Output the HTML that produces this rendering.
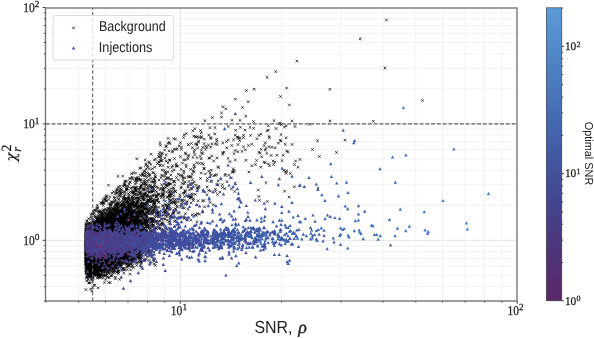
<!DOCTYPE html><html><head><meta charset="utf-8"><style>html,body{margin:0;padding:0;background:#fff;}svg{display:block;}text{text-rendering:geometricPrecision;}.t{font-family:"Liberation Serif",serif;fill:#1a1a1a;stroke:#1a1a1a;stroke-width:0.25px;}.s{font-family:"Liberation Sans",sans-serif;fill:#222;}</style></head><body><svg width="594" height="338" viewBox="0 0 594 338"><rect width="594" height="338" fill="#fff"/><path d="M78.74 8.00V301.00M105.43 8.00V301.00M127.99 8.00V301.00M147.54 8.00V301.00M164.78 8.00V301.00M281.66 8.00V301.00M341.01 8.00V301.00M383.12 8.00V301.00M415.79 8.00V301.00M442.48 8.00V301.00M465.04 8.00V301.00M484.59 8.00V301.00M501.83 8.00V301.00M45.50 301.16H517.00M45.50 286.62H517.00M45.50 275.34H517.00M45.50 266.12H517.00M45.50 258.33H517.00M45.50 251.58H517.00M45.50 245.63H517.00M45.50 205.26H517.00M45.50 184.76H517.00M45.50 170.22H517.00M45.50 158.94H517.00M45.50 149.72H517.00M45.50 141.93H517.00M45.50 135.18H517.00M45.50 129.23H517.00M45.50 88.86H517.00M45.50 68.36H517.00M45.50 53.82H517.00M45.50 42.54H517.00M45.50 33.32H517.00M45.50 25.53H517.00M45.50 18.78H517.00M45.50 12.83H517.00" stroke="#f3f3f3" stroke-width="1" fill="none"/><path d="M180.20 8.00V301.00M45.50 240.30H517.00M45.50 123.90H517.00" stroke="#e4e4e4" stroke-width="1" fill="none"/><defs><marker id="mx" markerUnits="userSpaceOnUse" markerWidth="4" markerHeight="4" refX="2" refY="2" overflow="visible"><path d="M0.70 0.70l2.60 2.60m0 -2.60l-2.60 2.60" stroke="#000" stroke-width="0.70" fill="none"/></marker><marker id="tm1" markerUnits="userSpaceOnUse" markerWidth="4" markerHeight="4" refX="2" refY="2" overflow="visible"><path d="M2 0.08l1.70 3.20h-3.40z" fill="#74306e"/></marker><marker id="t2" markerUnits="userSpaceOnUse" markerWidth="4" markerHeight="4" refX="2" refY="2" overflow="visible"><path d="M2 0.08l1.70 3.20h-3.40z" fill="#582f74"/></marker><marker id="t3" markerUnits="userSpaceOnUse" markerWidth="4" markerHeight="4" refX="2" refY="2" overflow="visible"><path d="M2 0.08l1.70 3.20h-3.40z" fill="#543479"/></marker><marker id="t4" markerUnits="userSpaceOnUse" markerWidth="4" markerHeight="4" refX="2" refY="2" overflow="visible"><path d="M2 0.08l1.70 3.20h-3.40z" fill="#50377d"/></marker><marker id="t5" markerUnits="userSpaceOnUse" markerWidth="4" markerHeight="4" refX="2" refY="2" overflow="visible"><path d="M2 0.08l1.70 3.20h-3.40z" fill="#4d3a82"/></marker><marker id="t6" markerUnits="userSpaceOnUse" markerWidth="4" markerHeight="4" refX="2" refY="2" overflow="visible"><path d="M2 0.08l1.70 3.20h-3.40z" fill="#4a3d86"/></marker><marker id="t7" markerUnits="userSpaceOnUse" markerWidth="4" markerHeight="4" refX="2" refY="2" overflow="visible"><path d="M2 0.08l1.70 3.20h-3.40z" fill="#48428d"/></marker><marker id="t8" markerUnits="userSpaceOnUse" markerWidth="4" markerHeight="4" refX="2" refY="2" overflow="visible"><path d="M2 0.08l1.70 3.20h-3.40z" fill="#464693"/></marker><marker id="t9" markerUnits="userSpaceOnUse" markerWidth="4" markerHeight="4" refX="2" refY="2" overflow="visible"><path d="M2 0.08l1.70 3.20h-3.40z" fill="#42499b"/></marker><marker id="t10" markerUnits="userSpaceOnUse" markerWidth="4" markerHeight="4" refX="2" refY="2" overflow="visible"><path d="M2 0.08l1.70 3.20h-3.40z" fill="#404d9f"/></marker><marker id="t11" markerUnits="userSpaceOnUse" markerWidth="4" markerHeight="4" refX="2" refY="2" overflow="visible"><path d="M2 0.08l1.70 3.20h-3.40z" fill="#3d51a2"/></marker><marker id="t12" markerUnits="userSpaceOnUse" markerWidth="4" markerHeight="4" refX="2" refY="2" overflow="visible"><path d="M2 0.08l1.70 3.20h-3.40z" fill="#3a54a5"/></marker><marker id="t13" markerUnits="userSpaceOnUse" markerWidth="4" markerHeight="4" refX="2" refY="2" overflow="visible"><path d="M2 0.08l1.70 3.20h-3.40z" fill="#3b5bab"/></marker><marker id="t14" markerUnits="userSpaceOnUse" markerWidth="4" markerHeight="4" refX="2" refY="2" overflow="visible"><path d="M2 0.08l1.70 3.20h-3.40z" fill="#3b61b1"/></marker><marker id="t15" markerUnits="userSpaceOnUse" markerWidth="4" markerHeight="4" refX="2" refY="2" overflow="visible"><path d="M2 0.08l1.70 3.20h-3.40z" fill="#3c67b7"/></marker><marker id="t16" markerUnits="userSpaceOnUse" markerWidth="4" markerHeight="4" refX="2" refY="2" overflow="visible"><path d="M2 0.08l1.70 3.20h-3.40z" fill="#3e6cbc"/></marker><marker id="t17" markerUnits="userSpaceOnUse" markerWidth="4" markerHeight="4" refX="2" refY="2" overflow="visible"><path d="M2 0.08l1.70 3.20h-3.40z" fill="#3e72c1"/></marker><marker id="t18" markerUnits="userSpaceOnUse" markerWidth="4" markerHeight="4" refX="2" refY="2" overflow="visible"><path d="M2 0.08l1.70 3.20h-3.40z" fill="#4078c5"/></marker><marker id="t19" markerUnits="userSpaceOnUse" markerWidth="4" markerHeight="4" refX="2" refY="2" overflow="visible"><path d="M2 0.08l1.70 3.20h-3.40z" fill="#437dc9"/></marker><marker id="t20" markerUnits="userSpaceOnUse" markerWidth="4" markerHeight="4" refX="2" refY="2" overflow="visible"><path d="M2 0.08l1.70 3.20h-3.40z" fill="#4683cc"/></marker><filter id="bl" filterUnits="userSpaceOnUse" x="0" y="0" width="594" height="338"><feGaussianBlur stdDeviation="0.55"/></filter></defs><g filter="url(#bl)"><path d="M116.9 235.8 100.6 233.8 101.5 249.5 90.3 229.7 141.8 212.5 175.1 208.7 87.3 276.1 160.0 228.0 103.9 230.9 153.0 247.1 110.6 203.6 99.7 242.2 87.0 267.3 93.7 227.3 114.5 239.6 96.2 251.8 93.1 231.6 167.4 206.5 132.7 198.3 114.7 254.5 117.2 246.9 95.1 242.8 89.9 231.3 112.7 225.9 97.6 261.3 97.3 249.3 103.6 225.6 131.1 244.4 96.0 245.8 103.6 234.7 122.2 237.5 107.4 229.9 95.9 254.1 116.5 244.2 173.2 212.2 112.4 230.0 108.8 231.0 124.5 240.7 127.7 209.5 127.5 230.7 89.2 233.9 141.8 251.6 115.9 248.1 216.6 174.7 99.0 266.3 132.7 178.8 169.2 223.5 137.3 244.2 110.5 239.0 96.4 265.8 283.2 155.2 132.9 259.9 144.5 250.7 123.6 237.9 139.8 179.5 113.9 244.4 99.1 264.1 106.6 251.4 294.4 186.7 125.4 238.2 93.7 258.3 130.1 218.8 106.0 250.1 122.4 235.7 183.8 170.9 128.1 235.9 110.4 216.6 123.0 212.7 89.3 251.4 193.0 157.4 139.1 213.4 102.7 259.2 110.4 221.7 105.8 220.6 86.1 237.8 87.3 232.1 85.9 269.6 112.4 225.2 120.4 261.0 91.4 250.5 110.6 223.1 113.9 224.9 235.2 183.3 96.2 226.5 101.8 250.6 120.4 244.3 266.0 182.6 99.5 251.2 100.1 267.4 102.1 233.2 160.8 158.1 87.4 243.8 102.0 246.8 100.4 219.1 118.8 237.3 109.2 229.0 108.4 277.2 112.6 215.2 240.0 120.3 134.2 192.7 103.6 241.2 143.6 228.4 113.9 241.6 105.4 250.5 93.1 239.7 164.9 158.2 97.0 223.8 98.0 242.1 91.1 248.2 86.9 221.0 97.0 229.7 129.3 243.2 91.0 249.4 90.0 250.4 148.9 200.1 99.0 271.9 89.9 231.4 127.6 255.4 102.0 237.8 95.7 262.3 123.0 256.2 143.9 230.7 125.8 220.9 107.5 248.7 113.7 241.2 134.9 220.2 117.2 237.2 87.5 255.9 91.9 279.5 125.6 212.8 100.4 247.6 113.3 218.9 89.5 237.1 145.7 165.3 127.4 250.9 137.5 200.7 92.6 243.9 102.2 257.7 86.0 244.7 98.0 251.7 119.2 230.3 167.6 205.6 132.2 255.6 100.5 225.6 113.9 259.9 120.0 226.8 100.3 243.7 99.6 250.4 96.9 250.1 96.5 225.7 88.9 237.0 102.4 243.8 90.5 273.4 111.8 232.8 127.3 263.6 157.7 163.6 129.4 256.7 176.8 205.7 93.5 247.4 110.7 261.4 105.8 216.8 158.7 212.2 123.5 248.0 131.9 196.6 100.3 257.4 92.7 261.2 98.5 248.1 116.0 225.3 197.7 188.9 86.2 242.6 131.2 213.3 112.9 238.1 94.9 238.8 98.4 242.3 125.2 198.4 143.8 208.2 98.3 244.9 166.6 211.1 86.5 258.4 117.1 232.4 97.1 222.0 144.5 217.8 112.0 236.7 91.8 253.2 120.2 247.1 133.0 241.4 104.8 251.3 122.2 239.8 92.5 278.5 139.8 192.7 93.1 242.2 151.1 226.5 130.6 223.9 90.9 247.4 103.0 258.1 86.0 272.2 90.6 240.2 133.3 240.7 136.7 227.7 132.2 265.6 162.0 170.1 104.6 219.2 250.0 127.4 102.4 257.4 97.4 231.7 87.1 229.9 108.2 235.2 90.6 262.2 104.4 247.4 91.3 235.2 111.7 239.0 140.7 229.6 105.2 232.4 88.5 253.1 105.8 239.5 101.6 234.3 97.6 234.0 96.8 261.1 97.8 253.6 146.2 226.3 100.2 240.0 99.4 248.5 96.5 235.4 94.4 259.9 88.7 261.9 104.2 240.6 105.6 240.3 86.2 238.3 88.7 234.3 97.1 255.1 95.0 260.3 115.8 238.8 111.7 262.3 96.6 262.2 123.7 223.1 100.8 245.7 97.5 254.8 102.4 237.3 95.1 264.6 87.6 243.4 104.7 246.2 165.0 228.4 111.3 202.1 99.6 246.4 116.4 214.7 113.6 223.9 89.3 235.9 114.6 243.4 110.5 256.9 111.4 235.3 109.4 258.0 87.7 248.8 89.5 233.5 146.4 172.5 96.6 234.6 110.1 213.3 134.1 231.0 113.5 233.8 128.5 247.3 121.8 215.4 109.6 256.4 165.7 215.4 104.0 261.0 88.8 271.2 149.9 262.9 102.9 235.3 134.4 233.9 119.2 223.4 99.6 243.4 104.7 213.3 98.5 261.2 112.1 234.8 93.3 244.8 111.1 232.8 100.0 277.1 125.0 253.5 154.5 180.8 104.8 268.9 100.5 226.6 117.5 248.1 88.0 231.1 136.0 225.0 92.3 250.1 112.4 245.7 97.9 237.3 90.0 261.8 116.1 231.9 86.1 265.2 90.8 255.7 114.5 198.5 124.4 244.3 228.8 175.3 105.1 249.1 87.4 261.7 122.1 212.6 120.4 234.5 116.4 209.2 105.5 251.7 153.4 205.1 150.4 186.8 97.2 257.8 133.0 232.0 97.3 237.8 89.9 247.0 93.7 231.3 146.7 222.3 140.0 239.9 132.3 248.0 256.5 160.4 106.7 262.4 100.2 274.6 96.9 230.8 123.4 246.5 126.0 216.3 91.6 247.6 89.6 237.6 103.1 221.9 158.6 221.4 108.0 228.2 101.8 226.4 91.5 238.9 104.9 239.5 86.9 244.5 110.0 244.4 143.6 219.6 110.7 225.6 222.7 142.9 102.8 246.7 130.4 248.2 86.4 272.7 103.2 226.1 91.2 258.4 110.2 238.9 139.2 257.0 123.5 243.2 186.7 202.1 131.6 225.1 89.7 262.1 91.3 243.0 85.9 254.5 118.4 260.6 92.3 259.9 132.5 223.9 93.0 253.8 260.1 153.2 207.2 180.8 134.4 204.4 110.3 253.9 129.1 259.0 122.1 228.1 94.4 249.3 123.8 273.1 154.3 160.0 117.6 238.6 103.2 260.2 111.9 227.4 93.2 267.7 150.0 239.6 94.4 243.4 115.5 226.7 125.1 236.9 119.8 256.2 129.5 224.8 140.6 252.6 114.0 234.0 133.3 249.8 99.0 227.3 215.0 127.6 125.3 218.4 122.3 228.0 128.7 260.6 137.8 213.0 170.0 191.5 118.0 225.2 97.0 271.3 119.3 226.0 98.5 252.7 98.4 244.6 112.8 258.6 120.4 238.7 129.4 235.8 152.1 190.8 104.8 258.3 89.7 262.8 108.2 228.8 137.0 225.6 108.5 241.3 98.4 240.0 185.4 213.7 143.0 199.3 138.5 222.2 168.1 207.8 96.5 230.0 92.9 271.7 92.8 242.3 106.1 228.7 108.0 259.9 143.3 216.5 86.9 262.8 128.2 245.3 99.4 232.3 111.6 211.4 90.3 240.3 193.8 136.1 193.7 168.1 104.1 231.8 122.4 225.8 127.9 221.4 90.4 232.6 136.9 158.7 186.3 133.6 91.3 274.6 104.9 225.1 96.9 231.1 104.6 253.2 208.9 171.3 118.7 247.5 136.2 195.3 85.9 259.7 88.3 255.7 150.9 228.4 120.6 266.2 123.9 217.9 98.0 234.4 133.3 231.5 98.2 228.3 123.5 197.6 120.7 221.3 88.3 255.2 123.1 217.1 99.3 235.2 110.8 220.3 108.7 237.0 195.5 144.0 153.6 172.7 95.1 253.2 91.0 242.3 96.4 240.4 109.9 196.7 154.9 233.7 97.0 240.6 117.7 248.5 119.7 216.6 138.0 211.2 109.3 259.1 106.8 257.4 231.4 178.0 132.6 236.2 121.5 230.8 147.0 212.8 181.4 149.3 119.6 237.3 98.4 240.4 137.4 248.6 108.4 237.7 110.5 240.4 148.0 213.1 123.9 218.3 98.9 223.7 97.3 251.8 97.6 244.4 106.4 267.7 194.1 152.0 89.3 237.5 133.6 215.7 126.4 238.8 116.9 231.7 95.0 253.4 107.6 235.2 111.3 251.3 121.8 234.0 118.9 222.6 144.6 228.7 136.8 250.7 149.3 174.0 129.5 221.2 114.4 242.9 157.4 209.9 132.0 199.1 109.0 240.2 149.0 192.1 106.6 223.3 97.8 246.4 88.9 270.7 98.7 256.8 117.6 238.9 96.2 236.4 136.6 265.5 132.0 220.0 102.5 227.1 91.2 242.6 98.6 226.7 153.3 203.6 96.8 249.9 92.4 230.3 107.0 263.9 136.9 222.0 126.8 230.1 138.6 234.4 92.4 229.5 91.2 263.0 108.9 221.9 116.4 229.4 89.7 270.2 128.7 244.0 114.9 212.8 96.4 236.6 133.6 195.8 96.6 272.2 97.6 225.6 106.9 220.7 92.0 227.1 91.1 217.1 124.3 258.6 96.0 234.9 101.5 222.5 118.8 262.8 102.4 247.1 115.4 237.4 141.3 206.5 128.2 226.9 101.6 253.6 88.7 250.7 136.6 219.4 134.8 216.9 265.2 162.7 107.5 248.9 149.1 201.3 95.9 228.9 118.4 242.6 120.0 230.5 116.7 229.3 93.5 247.5 139.7 238.6 100.0 240.3 99.0 244.9 95.0 246.0 147.6 235.8 97.3 220.7 171.1 188.6 124.4 205.0 87.7 234.3 135.4 235.4 97.2 243.9 117.6 243.7 120.8 255.7 87.4 258.6 123.1 238.5 101.5 243.1 95.8 236.6 117.5 226.6 126.1 260.9 106.6 255.9 160.2 189.6 104.3 257.2 111.4 220.8 122.7 209.0 163.4 211.7 108.6 204.0 95.8 242.7 125.6 263.0 105.3 248.6 132.3 253.0 118.6 214.4 89.4 247.4 132.1 225.7 92.7 236.4 104.0 239.2 139.7 225.5 104.7 235.1 87.0 239.9 124.6 216.5 95.2 232.2 97.2 275.1 86.8 253.3 91.5 230.2 105.0 249.9 89.2 253.6 111.1 260.7 95.9 222.4 119.6 243.3 93.8 224.2 93.0 262.1 129.6 207.8 104.5 258.9 122.7 176.2 124.4 191.6 90.8 267.2 87.5 255.7 127.8 249.1 91.0 250.9 91.2 272.5 89.8 268.2 119.5 214.9 128.6 209.2 120.3 227.2 97.2 253.1 180.5 142.8 111.8 240.3 102.9 250.8 121.6 237.4 122.6 204.2 117.8 240.9 94.6 231.2 104.0 233.3 92.9 259.7 138.0 216.4 92.7 257.4 210.1 172.9 91.9 275.8 114.8 265.1 150.2 191.7 88.8 263.6 89.9 253.8 97.6 245.8 107.7 244.8 106.0 228.2 120.9 215.8 133.0 228.8 105.6 232.4 87.0 238.1 100.6 244.3 88.1 240.4 118.0 239.8 134.3 194.5 136.6 239.0 113.3 235.7 120.4 266.3 94.7 263.5 167.7 183.4 173.0 198.6 88.3 244.6 97.4 240.0 110.4 229.9 163.6 190.8 100.8 240.0 196.9 162.7 126.7 243.0 108.0 256.0 105.8 248.2 119.9 245.4 119.8 193.9 167.4 215.0 123.4 218.6 142.8 216.3 121.3 228.6 108.9 216.6 98.9 224.3 142.7 217.8 104.1 203.0 141.3 267.4 133.9 244.8 148.4 241.5 125.5 263.2 105.1 200.6 226.8 147.8 100.5 233.9 88.2 269.8 107.4 247.5 148.7 218.6 107.5 221.1 93.9 243.1 92.2 237.8 100.9 222.4 148.2 236.3 99.8 246.2 126.3 234.6 97.9 248.7 90.7 260.4 175.4 204.3 269.5 165.7 153.1 225.8 95.2 225.2 110.2 247.0 118.6 216.2 121.4 263.3 156.7 221.3 95.5 253.2 131.0 231.0 95.2 240.3 86.4 249.7 112.6 220.7 90.9 249.9 93.2 241.1 140.8 186.1 144.7 214.2 130.6 215.1 94.5 226.5 94.6 248.7 93.6 239.4 126.3 234.8 93.1 257.9 107.8 249.7 158.2 216.6 86.8 249.4 163.2 189.8 90.0 267.3 115.4 234.0 98.6 230.3 106.8 252.3 98.9 222.8 94.5 285.3 107.0 240.7 132.1 246.5 154.7 206.7 100.4 269.0 161.8 160.4 106.7 249.9 121.5 264.5 94.2 239.5 185.4 204.4 91.4 258.5 117.5 218.7 136.2 198.1 95.2 223.0 115.6 221.0 142.6 230.2 89.9 243.9 109.6 227.2 197.0 157.6 119.7 236.6 115.4 224.5 114.3 230.4 90.8 273.9 152.0 218.3 118.0 246.0 86.9 258.7 111.8 261.6 152.3 168.7 114.2 201.8 96.3 248.0 126.4 241.4 121.2 224.3 189.8 198.3 99.6 265.4 119.6 190.8 190.8 197.0 111.5 230.1 107.3 247.1 126.5 255.2 122.2 234.1 97.7 245.0 99.5 239.0 100.2 249.1 107.7 268.7 137.3 201.5 116.4 255.7 145.3 179.5 96.8 244.1 126.4 236.5 210.8 175.0 112.8 251.1 114.8 244.3 88.8 227.8 127.0 201.3 105.8 230.2 120.1 219.3 114.9 243.4 97.5 255.7 132.0 209.3 88.3 240.3 101.4 230.9 90.1 251.9 111.9 244.6 115.5 199.8 116.8 213.3 203.9 168.9 160.8 234.9 98.6 243.8 108.7 253.3 123.2 207.5 99.8 221.5 243.5 135.2 110.5 251.7 101.2 238.9 95.1 244.4 136.6 258.0 116.9 209.6 129.0 208.8 93.4 223.2 124.5 253.6 203.2 191.5 94.9 259.9 126.8 216.6 119.7 222.7 119.8 253.8 99.6 264.5 117.9 226.1 100.3 242.6 94.7 261.0 158.6 202.4 103.5 218.5 202.8 153.5 95.2 261.8 196.9 188.1 113.7 191.7 136.4 224.0 98.6 256.4 134.9 233.8 109.4 223.2 87.8 241.5 96.8 250.7 114.4 246.9 87.8 232.4 127.8 250.6 132.2 210.9 116.5 235.0 98.6 235.1 88.1 243.9 106.3 247.8 94.5 256.2 99.6 229.7 89.1 260.7 99.9 253.4 90.3 250.8 127.3 233.6 112.1 269.1 121.8 225.5 91.8 267.3 145.6 181.6 131.4 242.1 106.1 217.4 112.3 255.1 109.2 253.8 91.7 233.5 104.9 254.2 88.5 249.9 286.1 125.7 111.5 215.8 88.5 248.6 101.9 260.7 269.0 136.6 96.0 235.4 163.4 195.1 131.3 212.9 113.5 226.1 113.9 252.3 118.6 239.8 110.0 262.5 100.9 202.7 110.6 265.5 127.0 256.3 143.5 204.0 109.0 251.4 111.9 228.4 139.9 206.3 100.4 238.6 86.0 257.9 135.4 249.3 99.3 241.9 119.3 220.9 147.4 227.1 104.1 238.9 101.1 238.1 116.2 230.0 161.5 160.9 89.4 267.2 136.6 205.9 95.3 240.6 116.6 218.8 108.5 257.8 130.6 207.2 118.9 217.2 111.0 264.9 126.5 206.9 87.7 245.5 128.1 225.6 94.1 241.4 95.2 247.4 112.2 214.5 113.0 247.0 112.1 274.3 142.0 215.9 96.6 234.9 135.3 231.7 114.7 223.0 97.6 250.6 139.5 190.0 86.1 248.2 92.7 275.3 121.2 231.5 102.7 259.2 96.5 248.1 125.1 248.7 108.4 241.1 192.3 174.1 121.4 228.0 106.5 259.2 100.7 242.4 119.4 248.0 89.1 250.9 97.7 234.7 124.4 211.2 112.2 223.6 86.7 246.0 153.9 261.1 146.3 211.9 109.2 221.4 108.2 228.1 96.2 228.9 91.4 240.0 110.5 265.0 116.7 248.6 115.9 217.8 117.1 236.6 104.3 244.0 100.5 240.8 128.5 197.1 116.8 227.2 123.9 232.9 103.0 250.6 96.0 268.5 97.0 236.7 122.6 240.6 126.3 225.8 140.2 212.5 94.9 217.0 161.5 229.5 280.2 140.1 199.4 214.2 131.3 233.6 135.4 224.2 139.7 199.6 104.2 263.0 115.6 254.0 103.9 248.1 139.8 232.4 111.9 207.6 110.5 204.7 144.3 194.2 133.6 226.3 116.3 238.1 133.3 227.4 89.1 238.4 113.4 218.5 146.0 163.8 89.1 239.1 120.0 209.9 89.7 239.8 102.2 258.4 93.0 236.7 138.5 258.3 88.7 228.4 118.3 239.4 106.7 242.1 135.2 225.7 118.1 217.3 141.3 203.7 119.3 224.6 103.2 248.3 126.3 247.4 90.1 266.6 129.4 221.4 168.8 189.6 128.1 262.0 86.5 251.2 133.7 230.4 86.4 232.1 108.4 258.3 140.4 191.8 123.6 230.4 133.9 207.1 116.3 245.3 121.3 213.5 97.0 251.4 91.6 253.5 125.8 234.8 86.5 260.2 106.3 267.7 107.2 220.9 120.9 196.3 103.5 257.7 96.0 235.4 102.1 255.9 101.6 253.8 97.9 249.0 115.5 231.4 111.4 227.4 86.6 236.4 103.5 217.7 123.2 243.2 100.5 234.6 137.0 216.1 122.4 220.4 155.7 176.6 129.9 210.0 107.6 215.3 103.6 249.7 88.7 239.6 113.0 225.0 115.1 256.0 201.2 158.7 217.2 144.5 104.1 248.2 96.8 247.3 89.2 250.4 188.0 209.3 132.0 235.8 142.1 173.5 99.5 246.1 89.0 270.1 127.0 229.5 114.3 240.2 98.6 225.7 138.9 235.7 119.7 279.4 106.2 256.8 102.0 248.3 91.9 250.5 131.2 225.3 100.8 247.0 107.2 211.2 116.2 248.6 132.3 211.4 136.1 224.6 110.1 220.6 141.2 182.4 188.8 177.3 105.9 257.1 89.6 268.8 85.9 256.2 110.8 225.1 116.2 267.3 119.3 227.9 122.7 246.0 110.7 244.9 89.6 232.9 121.2 238.9 88.3 253.2 95.8 235.7 108.2 222.1 183.8 218.1 104.7 231.6 103.6 251.1 93.8 240.8 110.5 263.8 102.8 236.2 97.0 263.8 106.5 235.7 121.2 237.5 92.6 270.1 279.6 123.6 188.4 144.6 231.7 145.5 153.0 191.0 128.0 248.1 99.2 248.6 108.6 254.0 128.3 249.2 119.1 241.3 89.7 256.0 101.2 238.0 113.8 243.8 89.6 230.4 86.5 277.0 108.4 228.5 94.0 249.0 121.9 218.1 122.8 249.5 91.1 231.3 98.0 233.5 101.1 240.1 96.8 233.6 116.8 217.5 95.4 238.6 239.7 140.7 99.7 244.2 93.8 224.3 143.7 251.3 127.9 212.3 141.2 224.5 87.6 234.4 125.6 237.1 117.8 258.9 113.6 260.3 150.3 208.3 98.7 217.6 106.7 195.6 112.2 202.1 94.7 230.4 167.9 177.6 126.0 230.5 94.2 232.4 87.6 246.4 101.9 228.7 102.5 241.8 130.4 216.2 123.3 250.2 119.3 232.9 104.5 223.8 87.8 240.6 162.6 224.5 111.7 225.2 93.5 241.6 96.2 258.1 117.5 219.0 95.3 238.4 110.6 266.2 92.6 249.2 285.5 171.6 102.3 215.1 125.4 242.7 139.9 226.6 159.3 216.7 89.3 231.0 101.0 244.5 85.9 235.8 130.7 220.5 96.2 231.3 175.8 201.6 94.2 239.2 104.8 228.4 104.2 244.3 128.8 253.1 101.1 233.2 106.5 259.1 106.0 257.1 134.5 231.0 85.9 243.5 144.8 233.9 118.9 246.9 110.3 259.0 86.5 257.2 101.8 214.1 155.8 244.8 153.1 201.2 95.0 238.4 98.2 277.0 129.3 241.8 104.1 254.5 149.1 260.4 134.6 231.3 113.7 233.8 123.4 234.0 90.0 275.2 162.8 195.2 106.6 229.9 109.1 269.9 105.9 253.8 122.7 224.5 91.2 265.0 191.4 176.9 96.8 234.8 104.8 256.3 140.0 225.3 114.1 246.9 106.6 219.9 101.5 250.6 131.8 228.3 107.3 276.6 173.9 195.6 130.0 227.1 119.6 236.0 113.2 227.4 88.6 254.5 128.2 231.8 100.1 261.4 101.3 239.0 124.4 213.1 155.2 206.5 133.7 210.7 95.2 270.7 106.2 250.6 103.1 234.5 162.9 205.5 115.0 267.7 90.6 268.0 155.0 177.0 175.4 199.3 108.0 245.3 86.6 264.7 103.8 223.4 153.2 187.6 104.3 219.6 116.2 212.9 109.1 249.0 128.2 261.3 85.9 253.5 132.3 236.1 87.2 252.8 110.2 208.2 108.6 225.5 109.1 269.0 119.3 224.5 134.0 238.1 114.2 272.7 86.6 236.5 128.6 249.2 87.2 246.1 91.7 248.0 127.4 232.3 105.7 234.6 89.2 282.8 114.1 238.6 100.6 236.8 94.2 258.0 135.5 249.5 97.6 257.8 99.7 233.3 88.0 251.5 122.4 221.7 116.2 248.6 138.6 253.4 116.1 248.1 124.3 219.7 88.2 242.9 104.6 224.1 95.1 244.2 152.9 210.9 124.2 184.5 130.4 247.7 142.0 202.9 91.6 264.3 104.2 228.8 106.0 258.4 87.9 230.5 99.3 236.9 107.3 229.8 121.4 229.0 101.5 224.8 139.6 260.8 128.8 233.8 114.4 238.1 201.3 132.8 109.5 219.8 86.0 241.8 98.0 258.1 121.2 216.9 222.3 184.6 159.3 224.5 99.2 257.2 96.5 268.8 100.3 234.8 113.2 230.8 125.8 232.8 104.8 265.2 132.6 190.7 116.8 220.4 102.2 256.1 112.5 242.5 90.0 275.1 117.9 214.7 147.9 227.4 102.2 229.3 93.6 237.5 128.0 216.9 115.1 221.8 88.6 231.1 97.4 225.7 238.1 137.2 146.9 221.2 88.9 247.6 97.7 208.2 98.9 236.5 120.7 223.6 88.5 264.0 138.7 225.9 102.0 246.1 113.1 226.8 93.3 278.2 163.4 214.8 98.7 228.4 120.3 227.4 117.3 223.8 119.1 232.1 108.3 232.2 92.7 258.8 174.7 200.7 100.2 255.0 105.1 254.5 139.4 219.8 101.8 254.1 131.2 227.1 90.6 248.2 228.3 140.0 91.6 247.6 107.5 252.7 100.2 223.6 192.7 130.8 97.4 234.1 166.0 185.0 102.3 227.6 109.6 222.1 95.5 270.0 126.7 215.8 93.2 227.4 116.0 230.3 111.8 266.8 107.8 219.5 90.7 263.6 112.8 233.4 101.5 275.3 93.2 241.0 104.0 238.2 115.3 243.3 119.7 255.9 171.3 194.0 92.6 229.4 125.3 234.4 103.6 220.8 135.0 226.9 135.3 220.1 115.6 238.2 118.8 233.1 122.0 233.9 106.8 246.1 118.2 223.4 98.0 251.3 108.4 234.3 104.6 263.0 144.7 207.7 127.2 248.9 118.1 254.3 128.2 224.8 85.9 236.7 112.1 244.4 107.6 224.9 111.5 244.3 91.5 240.4 207.0 194.8 123.9 224.6 94.3 254.2 127.5 188.5 111.4 224.1 136.2 219.4 141.7 225.7 160.4 160.5 117.3 209.5 97.5 263.3 88.8 253.3 92.1 245.9 105.4 251.2 148.1 199.9 105.1 263.0 104.0 228.5 88.9 250.2 105.6 236.0 98.9 235.2 131.3 228.1 94.4 234.1 132.0 215.7 242.5 107.4 97.0 220.5 93.2 257.0 100.5 233.1 121.1 227.1 119.5 254.1 90.3 250.5 106.4 244.3 92.3 240.7 123.2 222.8 147.1 217.1 93.4 263.2 109.1 237.8 102.3 226.0 94.2 264.7 108.7 245.8 140.9 210.9 87.2 242.0 111.1 236.2 87.5 253.3 144.2 204.3 113.9 247.7 86.8 250.1 97.6 251.0 191.2 202.9 119.5 245.2 95.5 227.2 93.3 223.5 95.6 264.8 149.3 205.7 131.4 255.1 100.0 219.7 103.4 255.9 258.9 196.5 98.7 229.6 91.1 248.9 118.6 234.4 98.8 225.9 123.8 216.9 121.9 246.9 98.7 246.5 113.7 220.8 91.1 257.6 108.4 234.9 119.7 247.1 136.7 253.1 97.3 207.1 103.6 273.3 100.5 256.1 112.9 268.5 99.5 220.2 100.2 243.6 98.2 246.7 86.1 265.2 91.1 252.3 109.6 218.0 292.1 144.5 114.3 252.4 89.3 246.9 86.9 260.5 108.7 237.4 140.5 246.7 264.0 162.1 127.7 265.3 98.7 234.3 218.2 185.1 196.1 185.3 130.6 230.1 121.1 254.5 127.0 189.1 91.8 241.5 132.6 218.1 129.6 238.6 147.1 206.0 114.4 208.4 138.6 253.7 108.2 222.3 88.5 218.6 129.7 246.8 86.1 249.8 89.0 241.2 127.0 236.2 142.0 254.4 114.2 223.7 93.8 267.1 119.0 225.5 245.1 130.1 102.1 257.8 96.6 252.3 114.9 243.2 110.8 224.5 162.8 194.9 114.3 235.9 103.4 218.1 137.2 202.4 109.8 245.6 99.7 231.4 98.8 242.8 175.8 149.4 104.5 231.1 146.3 233.6 115.0 218.9 95.4 257.4 115.1 219.9 96.8 257.9 91.8 239.7 94.4 232.4 86.5 249.3 94.0 244.1 116.6 250.2 109.4 227.1 104.2 260.8 98.1 227.6 105.2 222.8 148.9 251.5 107.6 231.4 266.0 148.4 127.2 242.8 110.7 250.6 105.1 261.6 118.9 241.7 101.5 212.5 98.1 243.5 125.4 239.3 108.6 213.8 123.3 221.3 109.2 259.3 136.3 228.7 116.7 237.0 97.0 266.9 128.1 186.2 112.1 243.8 158.8 202.3 87.2 264.9 130.1 222.9 207.5 178.5 109.8 240.7 131.8 214.4 105.2 224.9 196.7 144.1 118.0 234.5 94.7 253.1 161.5 238.3 95.0 256.0 125.4 240.6 106.4 260.7 87.7 235.8 115.8 236.1 185.2 153.1 132.7 237.3 106.2 242.6 123.7 242.4 89.9 250.3 95.4 262.1 90.0 268.5 145.5 183.6 96.5 258.7 261.6 156.7 132.8 220.6 190.8 220.2 118.8 218.5 137.6 219.5 143.4 242.7 96.6 232.0 106.3 250.2 94.6 245.5 92.7 214.1 135.6 189.7 188.7 196.2 185.4 159.9 171.2 200.1 106.2 237.0 87.1 264.2 91.1 242.9 99.1 241.1 113.2 253.6 104.5 217.5 102.6 235.4 128.9 221.6 134.6 222.2 101.5 254.3 105.3 212.4 173.8 188.9 169.1 196.2 97.6 265.0 127.1 220.9 105.4 261.4 91.6 251.2 123.9 215.0 108.8 218.5 100.0 256.5 90.8 239.1 136.5 241.2 165.9 187.6 151.4 237.9 131.2 210.5 105.5 275.8 107.6 223.9 110.0 262.5 107.1 253.6 105.9 237.1 94.5 250.3 140.6 235.2 133.5 222.3 109.6 249.6 120.2 212.1 96.1 241.2 94.2 227.3 101.6 219.4 156.2 221.9 100.9 227.6 217.5 194.4 97.8 236.6 108.2 257.0 119.6 248.5 96.8 237.8 122.2 241.6 92.9 225.9 111.6 254.0 93.9 231.2 103.4 257.1 92.1 247.9 102.5 240.5 87.7 255.0 97.6 259.1 96.9 274.2 117.9 222.3 102.4 241.8 88.3 236.9 121.9 214.9 104.2 251.0 99.7 242.8 99.3 262.1 104.5 218.3 119.1 250.6 215.4 143.9 90.1 241.1 88.5 234.2 122.6 221.3 111.5 229.0 118.5 225.7 144.0 228.0 119.9 234.7 124.2 256.1 141.4 179.8 114.5 209.9 115.1 241.9 86.2 241.9 109.2 217.1 107.7 221.1 134.4 233.6 108.6 220.2 100.7 234.1 92.2 250.7 120.1 235.3 96.7 235.9 114.8 219.4 111.3 232.9 108.2 249.8 94.8 232.4 98.3 261.5 168.8 185.0 102.8 200.7 115.3 205.4 99.4 253.1 157.6 200.7 88.8 251.3 147.7 248.5 125.8 220.8 113.8 233.1 173.6 213.3 118.2 217.4 93.7 271.6 87.0 249.4 96.4 265.1 89.5 236.0 95.2 242.0 109.7 229.0 103.8 233.4 95.0 252.1 113.0 209.1 113.6 209.7 145.2 250.2 91.8 259.3 108.5 249.7 95.8 216.7 134.8 241.1 90.6 240.4 100.6 261.8 143.3 240.3 142.3 232.8 91.2 246.6 194.9 128.7 90.2 262.6 151.0 154.2 100.5 264.4 130.9 263.9 117.6 229.8 119.1 241.4 116.8 232.7 99.4 233.3 90.2 253.9 117.1 240.6 98.6 254.3 88.1 242.7 124.5 256.9 100.1 260.6 97.9 239.9 92.3 240.7 115.7 208.1 112.8 248.9 165.0 213.1 93.4 234.0 97.8 250.0 88.2 228.6 96.5 272.5 122.8 211.0 101.5 261.5 176.7 165.9 108.8 243.3 87.3 256.1 111.9 193.1 88.6 248.9 103.4 243.3 112.3 251.2 281.0 134.6 112.8 250.5 90.6 253.3 141.1 220.4 99.7 263.7 130.0 258.8 154.8 186.7 91.6 264.7 88.4 258.0 137.5 207.3 118.6 245.2 114.7 250.0 135.0 206.1 107.5 268.4 94.3 243.6 90.4 232.4 151.1 211.8 99.3 229.8 85.9 229.5 129.8 225.5 112.1 235.6 99.9 269.6 87.6 267.5 87.3 257.9 116.6 232.9 106.9 243.4 91.3 229.9 106.4 226.3 132.9 250.4 94.3 231.7 120.8 193.0 112.1 238.2 178.4 180.0 102.0 256.4 130.6 220.0 120.4 216.6 192.3 147.7 115.3 251.5 111.9 220.1 169.4 195.7 97.9 240.8 85.9 245.9 104.3 237.1 129.6 241.9 85.9 234.5 129.8 224.1 88.4 266.7 112.3 252.5 89.8 226.3 104.8 235.6 87.9 245.6 148.5 237.2 181.5 147.0 87.8 251.7 135.3 215.0 103.9 260.2 143.0 217.6 168.9 213.9 88.7 243.1 99.9 242.9 93.1 262.4 88.8 263.8 125.8 206.9 105.0 240.0 94.7 258.8 127.1 269.6 101.3 268.2 125.6 238.2 125.2 232.9 111.1 247.5 88.3 247.6 99.1 251.8 94.3 213.1 140.3 212.0 110.7 208.6 137.5 232.4 119.6 224.2 89.1 257.9 92.7 239.3 108.8 241.3 89.8 254.4 87.1 243.8 86.3 232.9 105.5 248.1 95.6 260.3 126.5 231.3 120.6 266.6 108.3 237.2 162.8 190.3 93.2 246.2 88.2 250.4 123.0 257.8 107.1 258.7 91.8 235.8 195.4 136.6 96.1 245.4 88.4 235.6 100.3 247.0 93.7 238.8 147.2 215.6 95.4 247.1 154.3 209.0 111.0 252.6 91.9 229.4 102.8 250.9 86.5 253.9 116.0 221.0 107.0 253.2 105.1 232.4 158.7 213.1 110.0 260.4 106.3 260.1 115.5 259.3 119.6 244.6 102.3 271.9 123.3 217.2 152.0 218.9 120.9 222.3 93.9 229.4 91.4 244.0 194.3 181.9 107.8 244.7 104.8 221.2 131.8 220.5 96.1 275.1 94.5 256.3 118.3 220.3 135.2 258.1 88.5 265.0 108.7 282.5 122.3 214.4 91.7 247.0 124.4 213.8 93.8 233.1 107.0 247.5 115.0 245.7 91.2 262.6 100.7 275.0 103.3 205.5 186.0 153.8 108.0 240.3 153.8 230.1 121.0 239.5 169.5 205.0 172.3 171.3 95.9 247.0 128.2 201.5 119.1 227.0 105.9 245.8 91.9 236.5 108.1 238.0 91.6 262.0 90.3 270.7 96.6 250.1 133.5 260.2 92.9 232.6 91.6 229.3 113.6 215.5 110.6 205.3 93.3 211.2 86.8 254.6 122.8 229.7 131.5 243.3 109.4 255.7 135.5 255.7 85.9 244.9 103.7 260.9 133.1 245.3 104.2 244.5 102.9 257.6 119.0 239.1 105.4 263.3 131.4 235.0 173.6 181.3 119.6 251.8 87.7 266.6 134.2 213.2 106.4 235.5 111.9 248.4 101.5 203.2 152.7 221.1 116.8 237.2 96.6 226.9 88.7 238.5 126.1 219.6 222.9 106.7 178.4 202.0 95.4 232.4 102.0 233.3 98.7 235.2 112.2 238.3 135.8 179.0 121.6 253.7 104.6 229.1 87.7 256.3 104.0 226.8 118.2 224.0 144.8 220.7 116.9 243.3 111.0 240.2 116.1 221.8 119.7 237.3 86.0 248.3 110.7 234.9 194.6 149.7 98.8 260.4 95.9 262.9 100.4 246.4 149.6 255.1 179.2 145.9 117.9 222.5 117.4 189.0 86.7 270.1 118.1 224.3 86.9 264.6 104.7 267.8 91.5 231.6 112.4 260.3 120.5 210.5 101.8 237.5 300.1 159.5 140.7 213.5 116.6 231.9 139.0 246.1 120.8 216.0 156.6 206.9 87.6 245.5 113.3 248.3 89.0 232.4 88.3 238.3 242.0 151.4 96.5 259.6 110.2 221.0 153.9 199.4 139.5 222.1 92.1 255.9 89.1 253.9 129.9 219.0 109.9 221.7 90.3 253.8 162.0 222.5 89.5 228.1 111.1 259.4 94.4 249.7 106.4 255.4 129.8 252.6 116.2 254.6 117.0 202.8 89.6 248.7 119.0 251.0 120.7 254.5 152.2 240.1 138.8 261.7 105.3 230.5 163.2 189.0 188.0 187.0 140.5 188.2 96.0 247.4 96.1 235.3 108.1 242.5 132.4 231.0 189.4 190.0 97.3 254.4 103.4 263.3 105.1 225.6 98.1 239.1 122.0 252.7 125.6 226.5 100.3 261.2 134.1 226.5 120.7 228.0 88.5 274.2 107.4 243.5 89.2 250.6 101.9 249.4 108.3 246.5 91.8 252.5 95.1 249.8 121.9 208.0 137.2 215.8 95.6 267.3 213.9 175.7 98.8 233.0 96.4 246.6 103.4 270.6 105.6 239.1 99.3 250.7 112.7 229.6 166.2 146.0 114.6 267.7 105.0 227.5 150.5 209.5 93.1 232.7 234.7 191.5 94.3 270.1 113.0 262.3 118.9 245.6 93.1 236.8 94.6 235.7 101.3 249.5 87.9 257.3 111.9 204.3 233.2 170.6 89.3 272.4 104.1 225.8 114.9 257.3 141.9 256.5 95.5 270.7 96.8 223.2 100.0 257.6 96.6 254.0 90.8 272.6 126.7 215.7 124.0 228.2 134.2 204.7 116.0 233.9 98.6 226.7 135.5 190.7 96.8 228.0 147.3 200.5 120.0 227.9 109.5 248.4 117.7 242.6 115.1 233.5 112.7 223.4 94.5 254.8 105.6 250.8 93.2 264.1 198.8 187.6 89.2 246.0 182.9 207.4 143.2 218.2 132.3 201.2 133.5 267.6 113.1 249.7 113.4 242.3 87.2 257.0 102.2 236.6 166.5 192.0 169.8 184.2 124.1 269.8 118.6 229.3 124.2 236.1 107.4 220.2 121.2 236.7 155.1 181.1 93.1 264.9 107.0 224.0 110.9 239.6 130.9 222.1 105.0 246.2 111.9 240.0 98.2 231.5 100.2 222.8 104.9 233.4 148.6 226.5 157.2 213.4 111.8 266.4 116.0 211.8 215.3 189.3 265.2 142.7 114.5 246.2 127.0 214.0 107.0 256.1 99.7 228.6 108.7 253.8 163.3 193.6 100.5 250.5 87.1 231.6 156.1 210.4 211.5 181.5 101.6 232.4 98.1 229.6 108.9 242.3 117.2 258.9 99.8 248.9 134.4 244.7 106.9 262.0 157.2 223.9 113.0 261.4 118.0 223.1 141.7 243.1 98.9 256.9 99.7 241.7 94.3 231.7 158.2 215.1 131.8 203.6 86.3 233.9 124.8 240.9 122.4 221.8 152.2 213.1 116.2 244.0 125.4 221.2 115.4 228.3 89.0 272.4 108.9 228.7 86.3 249.5 103.3 239.2 89.9 269.1 100.3 232.0 92.1 266.5 96.5 258.5 101.7 253.6 118.3 205.6 177.6 166.0 108.8 248.8 149.3 163.0 89.3 242.5 113.0 241.4 118.3 214.9 125.9 221.5 114.3 256.2 117.2 249.2 118.8 222.8 90.6 266.3 116.8 233.2 99.9 248.4 106.0 235.9 88.2 230.4 90.9 256.6 103.5 261.3 122.6 258.4 88.6 233.5 91.3 239.8 100.0 218.0 119.8 251.3 86.0 238.0 86.6 265.5 92.8 270.8 90.7 229.3 88.7 248.4 106.7 259.4 120.7 222.3 89.3 248.1 136.5 225.2 111.9 221.1 93.6 256.5 86.4 250.4 106.6 237.9 107.9 234.1 89.9 231.7 97.6 251.4 97.5 246.9 115.4 218.1 210.8 138.5 119.9 252.9 96.5 252.1 124.2 195.7 87.6 234.7 137.2 231.3 88.6 233.3 87.2 237.7 98.8 245.0 101.9 242.0 157.9 199.1 123.6 241.9 89.7 268.2 108.9 226.9 89.2 231.2 88.4 259.6 87.8 256.7 139.4 232.5 109.6 223.4 99.6 229.6 93.9 239.4 147.8 188.4 113.5 236.4 95.2 256.5 175.5 139.1 107.9 267.4 94.1 232.2 97.3 247.1 122.6 234.2 105.1 249.7 113.6 246.6 93.7 237.4 102.3 247.4 86.0 265.7 151.2 181.7 122.2 216.4 150.8 199.8 100.8 239.4 128.7 206.9 131.6 249.1 101.2 246.7 87.7 243.6 119.2 233.0 103.0 236.5 146.0 238.1 110.2 228.4 109.7 253.3 90.6 252.8 150.7 213.2 122.4 216.4 142.0 222.8 92.0 245.1 103.5 267.7 98.2 274.1 92.0 242.8 152.4 256.3 174.4 202.2 123.2 229.6 118.1 229.1 151.0 221.7 109.4 255.0 101.8 225.6 97.5 237.0 97.5 241.1 95.5 222.6 117.1 261.2 155.9 221.1 158.4 214.8 117.0 257.4 88.4 246.4 90.2 260.8 116.2 211.2 121.2 245.8 113.6 212.1 89.6 231.1 118.4 221.0 106.6 273.6 119.9 251.6 116.4 263.1 101.1 257.3 102.9 245.7 116.9 196.6 91.6 238.7 88.9 240.8 122.4 226.2 104.7 228.5 114.0 219.3 86.6 257.6 127.2 221.6 130.4 243.1 107.1 253.6 122.0 242.8 104.9 256.2 136.6 217.2 89.0 239.5 103.6 253.2 88.8 240.0 100.4 233.7 151.0 201.7 99.2 234.5 86.3 272.7 91.1 244.5 98.0 242.7 133.9 250.4 253.6 128.3 113.4 232.6 121.3 214.8 99.1 228.7 147.8 196.5 97.6 235.1 161.5 153.9 122.1 247.0 99.0 256.0 131.1 215.7 104.0 243.4 91.5 246.3 97.4 238.6 92.4 276.1 109.6 227.2 111.4 212.1 121.4 237.9 132.1 177.2 100.3 239.1 276.1 128.5 108.9 234.1 134.6 194.3 107.9 243.8 111.1 230.6 133.7 192.0 119.7 218.4 98.4 233.8 124.4 254.1 118.2 271.2 93.0 244.9 99.7 226.6 97.4 228.9 147.9 221.1 115.8 230.6 129.6 210.9 121.7 214.7 98.1 257.0 96.1 255.0 235.4 99.2 86.9 248.5 101.0 240.1 187.3 201.7 86.7 251.3 112.0 233.1 146.5 215.6 99.2 232.3 108.9 251.6 96.1 240.2 134.1 211.1 97.4 260.3 98.2 250.9 94.0 234.3 265.2 149.9 101.4 259.7 110.9 213.1 88.2 265.3 156.1 196.7 98.1 245.7 106.4 236.3 194.1 171.7 109.0 222.7 89.0 259.4 121.3 248.5 93.7 223.3 109.3 223.1 91.5 254.0 269.5 137.8 92.7 256.4 101.8 271.0 96.8 254.8 137.6 224.0 107.9 226.6 86.6 248.4 111.4 236.0 106.2 251.0 91.9 274.7 113.9 236.7 112.9 218.4 126.4 233.7 100.4 240.1 96.9 238.4 122.0 228.6 123.1 260.6 100.1 233.9 107.3 247.8 94.2 241.3 103.0 247.7 94.6 241.8 86.0 245.2 99.2 245.6 99.6 247.6 118.9 222.4 98.2 255.1 88.1 275.5 115.3 224.4 94.9 225.2 135.7 188.4 99.5 259.9 93.1 243.3 106.7 200.9 108.7 261.8 149.5 213.4 113.9 218.7 120.0 219.6 106.4 260.9 86.1 225.8 94.6 227.0 98.2 251.7 89.7 260.4 102.5 248.8 102.6 231.8 140.3 250.4 135.7 230.0 98.2 263.8 110.5 242.2 127.5 248.8 135.2 187.7 176.0 209.4 134.5 246.3 107.2 227.8 96.9 226.8 101.6 252.2 88.5 241.3 122.8 262.8 106.2 245.0 91.9 270.4 116.3 246.8 103.8 232.2 158.8 156.5 111.9 248.3 116.2 229.8 117.8 242.7 116.5 236.9 111.1 239.5 93.0 222.5 97.9 236.6 111.2 263.9 86.6 243.4 87.3 261.8 108.0 233.0 117.7 202.1 117.9 257.0 99.3 238.5 127.3 245.0 172.4 152.1 97.7 253.2 161.7 184.7 133.5 242.2 87.9 244.6 91.0 244.4 191.8 189.2 113.9 210.6 125.3 217.8 104.0 229.6 102.6 227.8 121.2 220.3 114.0 230.5 91.0 232.5 91.3 241.5 107.9 208.4 124.7 256.5 172.6 165.6 92.9 239.7 122.6 227.7 129.0 204.3 91.1 240.7 92.4 263.2 123.2 218.6 95.3 210.1 134.0 225.9 115.1 253.7 135.4 235.0 114.7 252.6 145.0 221.4 103.0 270.0 112.6 234.5 142.0 210.2 105.4 199.2 110.5 213.9 135.0 234.3 92.7 223.4 117.7 240.5 90.8 255.7 91.0 250.8 88.9 238.8 114.4 231.0 87.6 246.1 98.3 265.5 221.5 117.2 90.1 235.2 138.0 224.6 108.1 218.0 156.3 214.1 86.1 246.7 97.8 242.4 103.5 268.1 185.2 191.9 114.3 249.7 125.3 217.9 114.0 237.2 117.3 241.2 98.2 244.9 94.1 246.2 86.0 244.0 127.3 230.9 90.5 249.9 103.7 263.6 238.3 138.4 99.1 277.7 151.0 164.4 102.4 243.6 115.2 233.9 117.1 193.3 148.5 179.7 87.3 254.6 109.5 216.7 159.2 162.2 89.2 234.8 117.8 220.3 118.0 251.8 92.5 228.6 105.3 235.5 89.5 244.5 127.9 249.9 121.8 249.0 96.5 254.3 92.7 273.2 91.7 232.6 143.9 259.4 111.5 225.7 102.8 255.5 111.1 213.9 130.9 224.0 86.4 242.8 143.8 171.4 139.3 226.0 89.7 245.1 89.2 258.4 112.3 238.9 105.2 217.8 100.4 249.4 126.0 224.9 96.4 238.2 121.1 240.8 96.4 234.7 96.5 232.2 97.0 254.7 96.9 259.7 120.2 226.2 113.6 227.6 96.3 235.6 96.9 257.1 91.5 238.2 100.8 270.3 133.1 191.6 86.0 238.1 103.1 246.4 107.5 228.8 90.7 252.1 89.2 266.6 109.4 248.9 104.5 253.9 94.5 246.3 190.6 196.5 294.4 164.5 109.8 248.8 100.9 276.9 125.9 253.5 100.3 219.0 132.9 193.4 91.2 264.8 105.9 256.6 108.2 244.6 129.5 229.7 88.0 251.8 99.1 259.8 127.3 250.8 89.3 248.7 117.6 265.5 95.7 259.8 137.8 208.0 88.7 250.4 118.7 212.8 93.4 245.2 110.5 246.5 122.6 213.4 198.1 200.7 119.8 234.1 165.7 178.8 105.2 221.2 289.1 197.1 139.0 235.5 93.5 251.4 106.2 238.2 98.8 248.0 116.3 250.0 114.2 266.4 119.6 213.4 106.9 231.7 115.7 221.3 126.8 214.3 131.9 236.5 146.7 176.4 204.1 168.2 90.8 248.5 86.9 241.4 116.3 192.1 93.0 243.0 105.4 213.6 92.1 239.3 96.6 245.3 134.5 217.1 110.4 235.6 113.4 223.2 113.8 209.5 108.7 270.9 97.0 239.9 132.4 238.7 97.4 246.8 260.7 167.2 129.1 252.6 98.3 273.4 143.3 174.4 88.4 258.4 97.8 232.0 104.5 259.3 116.5 236.7 121.4 239.2 94.3 247.1 121.2 230.0 128.3 225.8 95.3 241.4 237.2 137.0 136.8 198.2 110.3 255.7 129.1 261.7 128.2 228.0 91.7 245.2 113.6 223.4 129.9 199.7 106.0 225.5 88.6 245.1 117.1 245.2 124.1 215.4 161.3 219.2 98.2 211.2 102.6 233.1 108.6 251.9 101.8 231.6 119.1 234.9 119.9 229.4 122.2 217.4 131.5 218.1 135.0 242.6 126.3 201.5 97.5 251.7 286.1 137.8 130.5 203.8 98.2 226.9 158.7 161.8 99.0 248.4 90.9 236.6 98.2 226.2 106.8 216.7 122.5 239.3 108.1 231.6 87.3 238.9 94.4 251.5 119.8 224.3 101.0 250.5 95.1 235.6 92.9 245.6 98.2 238.7 101.1 232.7 95.5 259.9 92.7 265.7 96.2 268.1 89.4 248.2 86.6 244.5 199.4 163.5 143.2 211.1 91.5 252.9 148.0 210.5 112.7 228.5 95.7 258.3 115.5 228.7 103.1 259.0 148.7 252.8 91.4 245.6 113.8 231.1 99.6 244.0 109.5 257.8 204.3 139.1 101.0 232.7 138.1 198.0 94.3 222.1 131.5 242.0 107.1 247.9 129.8 213.4 172.4 217.3 124.0 220.8 116.9 243.6 113.1 247.0 95.5 222.6 92.6 256.3 125.5 220.6 137.4 226.4 116.4 226.2 86.3 252.6 105.7 270.5 125.9 237.9 167.2 197.4 106.6 221.0 102.5 272.8 130.7 206.6 88.8 256.5 98.1 244.0 102.4 219.3 100.5 227.3 92.8 287.5 119.6 233.9 109.5 251.7 133.9 258.3 115.2 252.3 108.3 255.1 109.5 261.4 111.8 240.3 151.4 197.9 208.8 135.0 114.0 266.2 190.4 184.0 295.0 126.5 94.2 254.5 89.0 258.1 86.0 245.1 118.2 257.0 93.9 250.6 122.2 231.7 96.3 228.5 149.0 201.0 131.1 210.1 154.8 203.2 107.1 241.6 200.3 156.4 97.7 253.1 140.2 238.6 91.2 226.9 194.0 164.8 94.1 210.4 87.4 232.7 153.3 189.4 94.1 271.6 91.1 259.0 120.2 186.1 94.4 262.1 91.2 262.1 127.4 209.1 119.3 195.9 95.4 260.6 101.0 262.5 85.9 253.6 102.7 267.0 106.5 233.7 95.7 249.3 109.0 263.5 110.4 237.1 86.2 224.1 281.0 141.1 92.3 244.3 90.2 242.7 88.2 245.3 105.7 253.4 110.5 234.2 164.9 175.8 101.0 255.6 108.3 229.8 124.8 181.1 93.7 238.0 128.3 209.8 100.6 255.8 122.7 226.0 112.6 256.3 107.3 244.5 90.9 241.3 110.8 240.5 93.4 237.6 87.6 271.7 100.0 230.4 108.1 261.8 193.4 200.4 109.9 243.8 280.5 96.5 115.3 205.2 160.4 228.8 97.4 251.4 137.8 191.9 122.7 251.8 127.0 242.1 97.5 252.7 133.1 253.4 107.9 239.2 170.5 239.9 113.6 254.7 113.1 213.9 104.5 253.2 92.1 270.1 96.0 235.9 91.8 247.6 97.7 230.5 146.1 226.7 87.5 232.6 91.5 241.3 125.6 254.5 90.7 235.9 120.1 229.8 216.9 184.8 95.0 264.6 106.0 233.4 127.7 213.2 147.5 173.5 96.9 247.1 165.5 171.9 126.1 226.2 149.9 234.4 117.5 252.4 88.6 269.1 194.6 166.7 89.9 248.7 274.0 120.6 136.4 222.9 103.9 253.0 134.8 227.5 136.2 219.3 255.3 164.5 96.6 251.2 138.0 234.3 114.6 234.2 115.5 221.6 289.4 105.0 171.8 179.3 96.6 263.6 90.1 246.5 95.0 261.3 165.2 204.4 95.8 260.1 97.6 232.7 129.9 227.5 88.9 241.8 115.2 214.4 100.6 229.3 115.1 235.2 125.6 234.2 92.5 235.9 144.2 248.9 101.5 269.2 110.6 240.7 111.7 258.5 95.3 240.5 100.0 248.1 175.2 220.8 86.7 221.3 103.1 227.6 121.9 214.8 109.3 266.2 93.7 251.9 125.6 221.8 105.8 225.9 101.4 234.7 91.9 223.3 95.7 256.8 132.8 214.2 90.7 225.5 106.0 242.9 119.5 237.8 115.1 245.0 110.6 261.2 104.8 234.9 160.4 165.6 95.1 245.7 95.2 242.2 102.7 243.5 216.6 139.2 115.2 236.7 99.8 231.4 116.6 233.2 89.2 251.6 99.1 255.5 90.3 259.5 141.6 228.9 104.0 231.3 118.6 210.7 107.1 237.5 95.0 237.4 93.3 252.2 385.0 67.9 94.4 238.0 124.4 233.8 182.0 200.4 88.9 255.3 118.4 210.5 141.9 223.8 210.8 137.5 94.3 234.2 88.2 257.4 98.4 262.1 131.1 249.2 132.8 212.7 126.7 246.2 166.2 154.9 117.0 210.4 185.2 191.6 107.2 265.3 89.4 273.3 117.9 222.5 130.3 259.8 110.4 259.0 131.3 211.9 94.6 270.0 115.7 229.4 88.6 250.3 162.7 206.0 245.4 149.8 97.6 259.9 115.9 234.1 91.0 279.3 149.7 198.7 146.8 233.3 88.3 245.6 115.5 264.3 95.6 270.1 96.3 231.6 92.8 248.9 160.0 142.8 108.6 267.0 184.4 193.5 140.8 221.4 163.9 197.3 167.0 208.6 111.3 237.9 167.1 178.3 121.1 226.3 115.6 224.4 112.2 236.7 148.9 176.3 218.2 180.9 100.1 236.5 104.7 250.8 104.3 242.7 146.2 252.7 95.8 258.0 121.0 230.2 101.9 242.2 119.8 220.9 98.1 287.8 127.4 210.4 96.3 272.6 96.2 239.9 90.8 254.0 123.2 231.5 113.2 237.3 125.3 254.6 144.9 203.5 122.1 253.8 99.4 237.8 86.7 242.9 110.6 216.8 135.2 209.5 93.6 245.2 155.8 228.1 91.5 230.7 102.5 239.6 118.2 262.9 96.4 230.4 107.4 239.8 114.2 238.8 90.0 227.1 154.2 221.5 97.3 205.2 98.3 231.7 94.4 261.9 93.6 234.0 116.1 259.1 286.1 173.4 97.1 242.0 121.8 244.3 86.5 249.5 127.6 245.5 103.5 224.3 99.0 231.0 160.2 165.2 100.2 270.9 126.2 258.6 101.8 220.9 119.6 195.6 86.0 233.8 213.7 161.0 88.1 231.4 133.9 242.6 100.0 246.6 139.7 255.0 98.0 256.3 110.5 229.7 96.7 242.1 97.5 260.5 105.2 235.6 85.9 245.1 132.8 220.2 103.1 231.7 97.2 227.8 133.3 172.8 100.6 226.7 91.9 259.8 100.0 252.6 138.7 253.4 110.2 239.5 88.4 269.2 139.0 251.8 93.7 239.3 86.1 250.0 128.2 246.3 124.4 212.2 104.8 221.9 105.9 240.1 88.3 250.2 151.4 206.8 135.6 173.1 170.1 179.4 142.5 243.2 121.2 207.5 386.4 19.9 130.5 252.5 105.9 236.1 93.7 246.8 110.0 238.7 90.0 258.3 99.8 251.3 120.9 256.8 93.5 267.7 274.9 162.1 113.0 254.8 97.7 220.3 130.4 230.4 140.4 220.4 130.8 188.3 104.4 233.5 127.3 232.7 93.6 237.3 122.2 250.1 116.7 227.5 104.9 248.7 101.4 256.6 116.9 224.7 125.1 244.3 107.5 241.2 117.1 257.2 145.2 221.8 110.8 233.3 154.6 199.9 235.2 135.1 114.6 242.0 93.4 261.0 86.8 263.7 137.0 222.1 114.0 253.0 107.9 261.1 93.5 261.0 106.1 241.6 105.8 230.7 127.5 230.0 87.7 260.4 114.4 261.2 108.7 211.9 137.2 212.6 124.5 183.7 159.8 152.4 88.6 247.2 89.9 263.2 147.2 225.8 281.4 124.5 95.6 260.3 129.5 227.4 103.2 243.3 101.8 256.8 127.7 244.7 128.9 261.0 102.1 263.8 107.6 246.3 156.4 228.3 120.7 238.5 123.1 211.3 94.5 269.7 104.8 244.5 286.7 151.0 85.9 240.0 93.8 236.3 155.6 190.6 87.5 235.4 166.2 146.7 91.6 227.6 116.7 241.0 120.4 227.2 93.6 257.4 85.9 237.1 128.0 236.2 144.2 180.9 114.5 242.6 86.5 260.4 112.4 254.3 109.7 210.7 104.6 250.7 115.6 242.1 116.7 244.6 95.2 262.6 93.5 235.8 118.2 271.4 114.4 231.9 131.8 259.4 124.6 229.2 135.2 258.1 91.4 234.3 124.2 226.2 137.2 180.7 138.2 231.4 114.3 245.2 136.3 202.9 102.1 249.5 127.9 225.4 110.3 243.9 105.1 237.2 108.4 215.1 106.7 266.5 93.3 238.8 211.3 170.1 124.5 270.0 91.7 235.2 94.5 227.7 90.6 236.1 149.0 211.3 131.5 212.7 122.9 257.5 130.2 250.7 136.8 242.6 99.9 240.4 97.9 227.2 92.8 235.8 112.6 230.2 92.0 263.7 113.6 229.8 225.3 174.1 96.8 230.0 97.1 227.0 130.0 274.2 138.5 219.9 92.8 244.0 100.8 211.7 115.0 247.2 114.6 228.4 123.6 211.6 104.2 217.8 89.8 258.9 125.4 262.1 110.5 245.3 105.7 236.8 120.3 235.6 123.6 197.5 119.2 234.4 129.2 194.8 87.2 242.9 94.3 249.7 188.4 144.6 98.5 254.8 92.3 254.6 109.9 236.7 101.1 222.7 87.0 256.4 113.6 253.7 152.5 186.5 93.2 248.5 93.4 243.4 109.1 213.1 111.8 235.9 93.8 237.3 111.9 234.4 177.9 213.2 96.3 258.9 96.4 243.4 124.9 192.5 132.4 204.9 144.9 224.5 109.2 230.4 117.7 228.8 87.6 251.3 161.6 175.0 128.4 220.7 113.1 229.4 97.4 254.5 113.1 240.7 141.7 236.4 99.3 234.9 92.2 251.5 85.9 224.0 126.8 245.4 94.3 235.6 127.4 205.8 96.6 230.8 91.5 241.4 95.6 271.0 105.8 223.3 118.1 268.0 95.0 263.6 117.8 254.0 112.0 237.1 181.4 186.9 108.5 185.2 256.9 138.7 104.5 250.9 92.0 254.4 119.5 237.7 95.4 246.1 106.7 233.4 125.7 213.6 98.8 269.8 122.1 221.9 137.9 231.5 128.9 232.9 98.6 251.0 174.6 184.8 136.4 211.2 99.4 248.5 153.8 221.0 104.1 240.4 111.0 261.8 99.0 254.1 121.1 238.5 101.7 203.5 96.8 230.9 152.8 209.5 94.4 254.3 96.4 208.8 106.1 244.6 98.9 239.6 116.5 249.0 129.2 236.5 139.9 168.3 103.9 259.3 151.0 178.5 102.6 247.7 112.6 230.1 89.9 274.3 149.7 218.9 151.5 221.6 141.5 257.2 135.2 210.7 86.9 256.2 119.4 241.3 271.1 155.5 130.1 204.3 150.5 185.4 271.9 147.3 88.6 251.8 116.0 233.7 86.0 247.1 107.1 249.3 107.6 219.3 103.0 222.1 92.5 264.6 137.5 229.4 135.2 217.1 251.8 144.3 209.1 158.0 88.5 237.3 103.9 258.0 112.1 225.5 92.4 225.7 120.4 258.4 141.2 261.7 106.2 221.0 91.7 231.7 86.2 249.7 142.8 235.9 89.7 261.7 109.7 215.3 117.9 247.6 89.0 253.2 228.2 126.4 104.2 248.1 119.4 248.0 93.6 259.0 122.7 226.5 225.8 108.7 93.4 274.3 109.8 224.5 101.5 219.9 141.1 251.2 94.4 249.1 145.3 222.7 109.8 246.9 156.2 195.1 228.0 158.4 90.1 255.5 87.6 247.3 131.6 226.3 142.8 183.2 86.3 247.9 135.3 233.0 95.7 252.0 144.4 230.9 112.2 229.3 94.9 245.0 117.2 253.1 95.9 233.5 91.0 257.1 89.8 265.9 116.8 216.3 103.3 209.9 106.9 235.7 107.9 241.5 95.6 235.3 130.4 263.7 106.4 239.6 134.8 222.0 89.0 272.5 100.8 234.4 107.0 218.6 145.0 239.2 88.4 248.2 119.7 252.7 90.2 251.5 116.2 244.2 150.8 253.0 139.1 197.4 86.9 242.6 89.8 257.2 128.8 256.4 105.3 250.8 121.5 228.3 115.6 240.7 100.8 223.6 102.3 252.0 112.1 244.7 189.9 196.6 98.6 249.0 118.5 227.0 107.9 230.6 120.8 231.3 106.0 234.1 122.9 246.8 101.3 252.0 103.5 253.1 100.2 233.9 100.6 242.0 85.9 262.1 133.2 244.1 184.4 208.2 86.5 243.0 94.3 231.2 91.6 241.0 106.7 264.6 86.5 273.4 117.5 246.3 167.0 220.2 115.8 226.2 107.1 216.1 103.3 242.3 109.0 222.7 140.3 175.4 87.4 266.4 88.6 259.3 114.5 259.3 90.1 255.3 96.9 245.9 97.6 245.9 136.7 209.1 96.1 228.1 96.0 234.3 98.6 222.7 94.5 244.1 126.6 244.1 88.8 245.9 216.7 141.3 115.2 242.4 87.2 235.5 110.1 227.8 121.7 257.7 137.1 224.5 101.9 224.2 152.2 231.3 102.1 241.9 91.7 248.4 95.4 225.7 141.9 233.1 109.8 235.0 117.9 252.8 153.8 202.2 103.9 222.7 103.4 228.7 119.1 248.3 95.7 274.0 129.2 243.7 90.9 267.3 99.1 225.1 104.8 215.6 116.8 239.7 119.5 263.6 149.4 241.9 94.4 227.4 117.1 236.3 129.3 243.6 94.3 253.0 115.9 257.0 121.3 248.7 180.3 197.3 87.1 235.9 88.1 247.1 124.1 255.8 107.5 267.4 248.2 101.7 134.4 199.2 93.4 258.7 86.2 236.1 144.3 204.0 124.6 243.8 99.1 227.6 114.0 268.8 136.3 223.6 109.5 234.7 131.5 251.0 145.7 255.4 116.1 232.5 146.3 208.3 186.2 167.0 144.3 199.8 89.0 254.1 114.6 250.8 168.4 204.2 99.5 231.6 122.6 231.6 117.5 219.9 90.4 256.5 143.8 207.8 92.7 266.2 89.1 255.0 91.4 234.3 96.2 261.0 108.6 223.5 100.0 236.6 89.0 260.1 96.0 229.8 135.9 246.8 109.0 238.7 123.4 262.4 129.5 239.9 109.5 267.9 91.1 232.4 147.4 195.0 104.9 225.1 92.8 245.0 107.7 244.6 86.0 253.6 106.0 224.9 108.8 243.8 89.4 249.2 88.5 234.3 131.0 250.9 85.9 231.3 90.6 242.0 126.4 220.2 89.3 257.5 102.1 243.4 92.5 259.7 130.6 234.4 133.0 221.4 128.0 225.5 112.9 243.2 114.2 244.2 130.6 270.0 105.7 254.7 92.9 224.4 157.8 212.2 104.8 269.0 168.9 221.4 87.6 235.8 86.9 233.1 121.4 227.3 89.7 238.3 100.4 238.4 145.2 221.6 116.4 239.8 88.2 248.9 107.9 269.7 114.5 225.5 158.8 213.0 107.8 263.2 111.2 258.0 100.7 255.5 101.4 255.7 119.1 250.1 140.4 251.3 89.4 255.6 129.3 222.7 86.5 241.5 88.9 244.9 95.6 263.4 100.7 252.8 142.2 206.2 103.8 250.2 182.3 183.5 124.3 220.2 422.4 100.5 134.0 222.8 110.6 235.0 86.6 236.0 111.2 233.0 122.9 259.2 106.9 268.7 90.5 237.9 88.5 234.9 118.1 243.0 220.9 179.2 137.2 256.7 137.3 202.1 95.9 253.3 152.0 191.4 127.8 202.1 120.6 229.5 165.4 210.0 173.5 191.7 99.5 276.6 101.2 221.2 91.2 240.2 121.0 193.7 144.8 195.3 109.0 248.1 97.5 254.7 91.2 227.4 106.3 248.2 110.3 247.0 98.8 229.3 117.6 225.6 112.7 234.1 91.5 246.1 88.4 263.1 144.4 193.8 92.5 234.0 137.0 243.8 131.7 226.9 121.3 212.9 137.0 203.7 132.8 225.6 111.4 233.7 162.5 176.0 91.5 230.2 143.7 222.0 110.5 226.9 108.2 272.2 167.5 208.2 107.1 234.3 89.3 251.0 121.5 229.1 89.6 259.0 89.4 256.2 99.5 238.7 99.9 244.9 134.1 217.4 98.5 259.2 94.6 273.0 98.2 267.4 108.4 235.1 94.9 256.9 99.5 240.4 166.9 216.6 97.4 219.5 130.3 223.5 104.2 226.4 89.6 237.6 94.9 234.9 94.1 230.5 91.3 254.3 88.0 255.5 87.7 255.6 124.5 238.3 133.0 218.1 90.3 236.0 96.8 272.4 109.9 235.2 94.7 237.3 87.2 236.2 92.9 272.1 120.7 237.1 120.5 258.1 112.7 247.8 101.8 259.2 155.2 174.6 122.5 242.7 134.8 245.9 124.0 213.9 122.0 217.3 110.2 262.8 92.7 245.4 143.7 198.7 103.1 253.9 109.9 236.4 116.4 205.3 127.8 215.2 94.6 240.0 95.1 238.5 103.9 251.0 96.2 242.6 121.8 230.8 109.3 215.0 125.6 223.5 117.3 192.5 96.8 229.0 111.2 209.8 147.5 242.5 111.9 241.8 136.4 252.2 133.4 213.0 146.5 196.8 86.6 257.3 127.0 243.7 133.8 212.1 91.3 237.7 97.3 247.8 102.6 234.3 95.1 256.6 145.8 230.3 87.2 253.5 96.0 259.4 110.7 251.5 95.5 262.6 136.8 193.7 118.3 226.5 99.5 250.9 210.8 147.2 95.2 273.1 125.3 245.8 131.6 258.2 99.7 252.6 89.6 255.9 92.4 223.2 105.7 238.7 147.3 200.8 267.2 77.4 127.8 207.4 112.9 226.8 142.8 224.2 87.9 263.1 97.7 261.7 117.2 253.3 96.5 256.0 131.3 247.9 114.6 230.0 89.4 252.3 130.8 229.9 87.6 263.1 118.5 226.2 87.9 236.9 107.2 240.4 129.6 208.4 139.8 216.5 132.7 226.6 141.5 193.4 139.5 236.5 112.3 248.2 136.9 237.9 92.9 257.6 144.4 219.6 91.1 244.0 99.8 249.7 89.2 263.5 115.7 214.7 134.3 230.2 163.4 187.9 117.5 205.1 88.8 273.1 103.0 246.4 109.7 249.6 171.1 215.9 102.1 245.8 125.9 227.3 156.0 213.6 96.7 244.4 99.8 237.6 109.2 240.0 141.4 262.3 89.3 243.1 116.8 260.1 150.9 252.2 87.2 261.0 133.6 232.3 138.0 216.5 98.6 257.7 105.5 226.1 121.9 243.8 284.4 127.1 142.7 233.8 104.0 240.0 102.9 238.8 183.0 180.4 86.9 227.0 135.6 214.8 190.3 176.5 118.2 238.5 102.4 244.5 147.1 191.4 160.9 235.3 195.3 194.3 126.6 266.7 154.3 219.4 88.8 242.5 94.7 229.8 104.3 239.0 99.2 230.5 100.6 255.9 97.5 233.2 140.9 167.8 97.3 271.0 98.4 230.5 111.4 234.8 89.6 256.6 145.0 176.0 172.5 150.8 99.9 234.4 95.3 235.3 94.2 251.3 124.0 203.2 98.5 238.1 103.5 271.9 91.6 256.6 146.1 168.7 91.0 272.8 119.1 241.5 117.4 264.6 100.0 259.4 111.9 229.3 141.2 223.2 128.8 224.9 98.6 255.3 205.6 149.4 110.9 228.7 102.5 252.6 126.2 212.0 127.1 223.4 135.0 220.7 108.2 208.6 126.7 214.4 169.0 192.3 120.9 226.5 138.1 228.9 114.9 259.2 104.6 255.2 107.7 240.7 102.0 248.8 85.9 289.6 86.8 231.3 118.5 224.1 88.8 237.0 117.0 249.8 266.8 153.4 139.2 211.9 95.2 231.1 150.8 220.5 114.2 245.5 126.0 248.1 142.9 222.7 110.1 235.8 96.6 266.3 102.2 240.7 155.5 159.1 136.6 235.1 93.5 268.3 168.8 227.9 98.4 244.1 166.2 161.2 123.8 257.9 133.1 227.6 107.0 243.1 111.2 258.3 96.9 228.5 92.7 226.9 107.2 230.3 119.9 249.3 123.7 219.5 112.8 257.4 100.0 248.7 118.9 261.7 89.8 243.1 139.8 227.0 88.2 243.5 131.2 216.5 107.9 240.1 90.8 261.4 101.9 230.0 152.3 223.9 98.8 258.0 168.0 171.9 92.7 255.4 158.3 194.0 86.8 254.9 101.2 257.7 89.4 243.0 95.3 245.8 145.7 209.0 103.9 198.6 101.5 268.0 102.9 243.0 90.6 257.3 140.6 203.2 94.7 244.3 121.3 255.3 122.1 221.3 88.3 240.7 130.3 260.5 88.4 249.8 99.7 251.9 211.9 144.0 116.7 226.7 191.0 188.2 89.1 258.3 96.3 271.8 140.0 206.3 100.0 237.0 103.3 252.5 133.5 236.0 114.6 229.0 88.0 278.4 88.7 237.1 130.9 237.1 124.1 244.0 145.8 204.3 97.3 226.5 99.3 233.8 222.4 187.5 95.0 267.0 121.1 222.6 226.4 141.6 88.6 234.3 94.1 228.5 88.7 231.7 122.8 211.9 118.3 263.6 95.9 239.8 120.5 229.3 112.1 232.3 98.4 223.5 92.8 238.4 206.8 147.5 102.1 239.9 92.9 239.2 105.8 218.2 87.0 267.4 109.1 263.6 88.3 249.7 137.5 202.5 96.0 233.5 110.2 282.7 167.6 196.8 102.1 238.5 121.0 252.5 111.6 269.8 95.9 244.6 120.3 255.5 125.9 221.3 127.0 261.3 104.1 238.2 97.5 247.3 131.9 187.6 116.0 218.3 98.1 260.4 100.2 249.7 145.8 253.7 108.4 240.7 147.4 256.9 133.1 236.1 152.3 200.8 122.1 245.2 123.2 215.0 88.9 248.1 91.1 247.5 85.9 257.3 129.9 226.8 101.0 237.6 141.9 231.7 94.6 247.7 91.6 225.1 126.2 189.3 92.6 235.5 161.0 156.1 268.4 163.9 90.1 276.8 103.1 236.6 104.6 225.3 85.9 259.4 181.1 188.2 123.7 206.2 123.2 207.9 88.2 252.1 131.7 204.7 103.4 242.3 120.2 237.1 94.7 231.4 106.1 260.0 92.8 232.2 139.4 227.3 169.2 142.3 243.5 146.8 109.9 260.9 140.6 200.6 107.4 232.4 120.4 243.4 92.6 232.5 94.0 260.7 90.6 246.7 105.3 249.6 138.0 226.7 113.6 252.3 90.1 237.4 87.2 260.2 101.4 250.2 120.3 188.6 106.3 200.9 86.6 258.3 143.2 216.5 99.0 254.5 188.9 181.4 92.6 258.9 110.5 206.0 97.6 228.2 93.3 254.5 128.5 219.1 125.2 181.8 107.7 231.4 86.6 232.2 94.5 244.5 100.6 221.4 136.5 204.5 111.7 223.8 89.5 267.0 192.9 194.4 138.8 213.5 91.9 263.8 91.1 275.0 109.3 248.3 102.6 255.6 146.7 208.8 168.9 150.9 116.5 235.7 123.1 213.8 123.2 236.3 111.5 249.0 109.8 217.2 97.1 249.2 232.5 172.2 126.7 190.4 124.2 244.1 103.1 233.3 118.3 212.2 106.3 242.2 144.5 248.3 103.1 249.2 125.8 223.3 145.8 192.9 121.8 240.4 136.9 212.4 130.3 223.7 109.9 218.4 107.8 263.2 184.7 218.4 102.4 246.9 92.5 265.7 140.5 241.2 103.6 239.7 90.7 252.8 138.9 211.2 121.1 204.4 120.6 222.4 101.1 237.6 97.7 254.3 117.1 236.5 99.1 228.0 102.3 233.4 165.8 173.8 88.2 258.7 102.7 241.7 155.3 265.5 285.3 144.3 106.8 235.9 108.6 256.2 88.3 228.9 87.4 228.5 133.5 249.8 90.7 243.0 100.6 241.2 91.0 247.8 104.0 220.9 114.1 259.1 147.1 210.7 94.7 215.4 93.9 261.7 102.0 253.8 135.4 256.2 122.3 224.3 94.5 246.2 111.4 214.7 105.3 250.3 129.3 211.1 128.0 258.0 137.0 226.5 109.2 252.6 110.0 258.5 119.6 215.6 134.3 215.2 170.1 197.4 250.6 135.4 123.3 226.3 159.1 154.3 85.9 241.5 114.9 234.4 114.1 247.3 93.1 234.1 115.8 248.8 98.5 256.9 107.1 230.3 150.4 219.2 145.3 194.3 87.7 234.8 93.3 262.1 100.3 262.9 116.2 260.5 111.4 230.1 93.5 256.2 122.4 212.8 89.1 238.7 89.5 252.8 111.5 218.7 100.8 267.8 100.2 233.9 108.4 231.7 128.6 263.8 114.8 216.2 136.1 254.4 88.0 249.5 94.2 270.2 147.8 181.5 117.9 220.8 97.1 219.6 128.3 223.2 319.4 156.5 168.1 162.8 93.6 235.5 101.2 217.5 86.4 235.2 116.6 245.7 100.7 251.5 112.3 259.3 95.1 261.8 204.9 120.7 102.2 240.9 180.0 175.3 88.6 260.9 93.5 258.0 142.7 174.8 95.8 260.4 86.9 237.7 103.7 230.4 128.9 245.4 113.2 251.0 169.1 195.0 95.0 244.0 183.0 178.1 95.4 251.5 123.7 234.8 199.2 137.5 109.9 270.4 100.6 225.1 210.1 202.4 102.9 255.9 104.7 221.3 145.8 217.9 131.5 260.9 92.6 237.1 123.7 225.2 95.5 254.3 113.1 264.3 129.9 200.7 92.8 258.7 286.7 170.8 109.7 226.9 133.4 187.0 130.4 191.7 109.1 249.8 103.7 274.9 87.5 257.9 137.1 214.1 101.2 264.6 87.7 260.6 91.4 245.4 87.3 258.0 114.5 215.0 147.5 238.6 103.8 256.9 100.1 236.0 198.9 186.2 133.4 254.4 95.2 270.2 102.7 233.1 104.3 240.1 161.3 215.5 86.3 263.5 99.0 236.7 103.5 249.9 90.5 246.7 90.1 230.4 345.1 140.2 94.7 243.7 143.7 242.8 94.9 244.2 100.7 274.1 93.4 235.2 97.5 234.1 101.9 259.7 103.6 223.7 91.9 229.8 118.5 223.8 131.7 215.3 107.2 235.5 201.3 137.8 88.1 231.7 95.0 236.9 98.1 228.2 91.0 253.2 123.4 226.9 97.3 248.3 100.1 252.4 96.2 248.0 146.7 220.2 117.4 239.6 98.8 218.1 106.4 219.5 136.8 229.4 137.9 223.5 95.8 224.7 100.1 271.3 118.6 223.1 108.9 222.8 134.4 225.2 98.9 244.1 117.3 217.7 89.6 233.0 88.1 228.4 128.9 244.0 86.6 245.6 127.6 229.5 95.0 234.2 98.9 255.1 92.3 242.8 87.9 248.8 98.6 238.8 102.2 214.2 122.8 246.3 146.0 224.5 96.9 255.0 128.8 198.3 89.8 250.6 148.8 185.3 120.4 225.8 97.0 250.6 104.5 260.4 96.5 253.1 99.9 224.5 92.2 264.4 127.4 233.3 130.8 205.9 99.2 260.4 92.2 250.6 87.5 241.5 104.8 233.6 95.0 250.5 99.8 276.9 183.6 137.6 99.2 255.9 119.2 215.0 102.7 253.1 106.1 233.9 142.5 238.7 93.0 264.1 97.7 227.0 179.7 194.9 112.0 257.3 124.9 199.9 98.8 239.8 129.1 229.5 104.8 242.7 132.1 237.6 86.3 231.7 91.6 237.5 123.8 241.8 149.9 175.1 104.9 254.8 95.7 239.7 100.4 229.9 103.7 245.0 89.6 267.9 106.6 264.9 126.4 230.0 112.6 228.7 105.8 268.3 86.5 246.7 103.9 224.7 138.8 179.3 118.7 249.4 111.7 249.1 92.4 237.6 125.3 234.6 98.0 246.3 115.1 226.9 105.8 233.5 87.9 270.3 128.2 201.5 90.7 263.0 90.1 257.3 104.4 241.5 99.1 269.2 117.6 234.0 171.4 191.6 100.5 234.6 149.0 161.7 90.7 243.4 180.5 206.8 144.6 242.9 110.1 220.1 118.9 246.7 103.9 252.5 103.2 223.0 100.8 269.0 109.9 235.8 94.9 237.3 111.2 216.5 169.4 160.4 153.9 211.9 90.2 248.2 127.2 229.7 128.9 253.2 184.9 177.7 103.4 264.4 106.8 247.2 91.3 255.8 102.9 222.7 88.4 224.4 132.7 216.0 109.2 229.1 127.1 216.5 89.6 256.7 191.3 193.8 101.3 245.7 96.2 225.7 143.1 199.4 105.5 231.6 105.7 254.7 92.0 257.0 201.5 136.6 99.6 247.8 95.2 254.2 90.7 261.1 149.3 238.4 117.3 190.1 149.5 219.3 87.5 263.0 93.7 265.1 104.2 225.6 86.8 244.8 104.2 225.2 115.2 226.9 99.5 242.6 120.8 246.7 97.2 222.3 89.0 276.0 96.7 268.7 107.1 238.8 87.9 251.8 107.3 233.3 110.8 226.8 142.9 249.1 114.8 231.7 139.1 210.6 122.7 225.7 108.4 225.6 90.0 243.0 146.1 219.1 119.5 246.8 129.3 212.6 151.9 191.9 97.5 246.2 104.1 247.6 113.5 234.2 186.1 164.8 89.0 250.2 90.1 261.8 118.1 223.0 115.8 258.0 101.1 227.9 116.6 243.4 125.4 253.9 107.6 242.5 110.9 231.4 122.5 214.5 123.0 233.2 116.2 230.5 101.1 247.4 93.6 254.4 126.4 226.1 135.0 242.8 122.8 204.9 97.5 230.5 136.3 190.1 144.6 215.1 119.8 239.9 180.5 156.6 134.3 220.3 92.9 230.6 125.4 209.5 95.7 237.3 96.5 217.7 119.4 267.6 202.0 163.4 96.2 246.2 87.8 238.5 108.3 231.9 118.8 235.1 119.2 255.1 116.8 236.2 107.2 239.3 185.1 181.9 92.9 258.8 93.9 253.1 122.7 263.7 90.6 239.4 100.8 240.1 109.7 220.3 104.0 240.6 118.3 254.7 147.6 194.6 87.6 258.6 121.7 203.7 113.0 221.9 101.5 232.6 254.2 89.2 105.2 251.1 87.4 235.8 97.8 234.2 125.6 221.5 156.3 200.5 123.4 257.2 145.6 183.7 105.5 209.0 107.2 248.3 98.5 236.9 121.4 258.3 93.5 256.8 142.4 197.5 123.0 215.0 100.3 249.9 114.7 217.5 104.2 244.3 209.6 158.2 110.1 232.8 97.9 233.5 89.9 249.6 112.6 201.9 93.0 223.8 135.8 228.1 115.8 229.6 129.7 220.4 125.0 238.4 136.8 206.0 112.5 266.6 118.8 240.5 96.0 269.5 113.3 258.4 118.5 258.6 118.9 246.8 93.0 244.9 112.4 238.5 127.4 225.6 136.9 248.4 89.4 252.1 93.4 258.5 102.2 243.9 101.6 215.5 104.5 238.0 114.5 246.2 86.1 250.9 177.4 206.9 90.2 223.3 144.9 170.8 111.3 228.0 116.8 219.7 119.1 227.5 104.3 253.8 169.0 183.0 90.6 260.8 91.9 268.4 111.2 245.3 123.7 218.8 93.8 265.7 125.3 220.5 106.7 231.6 117.7 240.2 125.0 206.3 98.5 238.4 120.3 202.1 95.0 251.6 108.4 251.7 153.6 206.8 108.9 273.5 93.3 234.0 144.6 209.2 89.7 230.1 93.0 230.1 103.5 252.6 128.1 235.0 115.0 271.3 115.3 227.2 90.6 259.9 191.1 197.8 121.0 222.9 106.5 244.3 113.8 248.2 109.2 257.1 119.9 236.5 92.1 257.0 101.4 267.5 182.0 175.4 96.9 245.7 91.6 252.8 107.6 224.5 104.2 243.5 92.3 271.8 143.7 184.2 109.4 220.7 96.9 254.0 107.9 256.6 108.5 225.3 87.3 257.0 89.3 226.4 128.9 217.4 88.8 250.8 89.4 236.6 109.9 255.5 112.9 252.8 133.3 198.0 106.2 261.7 148.4 189.1 148.4 219.7 88.3 223.9 147.5 225.7 107.8 266.3 111.3 217.9 94.1 231.9 137.4 218.0 140.3 213.1 87.6 229.5 103.2 243.0 97.0 253.2 138.1 254.6 117.4 241.6 99.8 212.0 85.9 268.9 101.2 260.3 113.2 255.8 88.7 282.7 113.6 269.0 113.6 221.2 92.7 252.1 360.2 38.9 92.3 262.2 128.3 257.9 124.4 233.0 134.4 222.8 139.2 212.9 100.8 233.3 141.5 224.3 97.1 223.6 115.3 193.8 155.0 183.3 110.2 212.5 126.6 231.6 119.8 233.2 104.7 267.6 121.6 213.9 116.5 230.7 140.1 179.8 140.2 226.2 86.4 242.8 171.5 193.9 112.3 251.0 98.6 234.4 88.9 240.2 166.6 231.5 184.5 196.8 106.2 250.3 99.9 257.4 96.3 226.2 116.6 233.7 113.2 213.7 141.3 254.8 103.7 232.8 148.5 208.5 89.1 255.9 138.5 248.2 97.3 247.6 100.5 227.6 95.6 224.4 105.6 229.1 86.4 238.9 104.4 238.1 135.8 248.4 103.7 221.7 109.8 221.9 122.4 201.1 127.8 237.2 114.8 200.6 152.6 195.9 137.5 219.4 99.1 274.9 90.6 245.6 93.0 238.6 92.7 249.2 101.2 240.7 107.2 236.1 96.3 254.0 118.6 254.9 105.1 239.3 107.9 262.9 125.9 225.6 102.6 270.1 135.9 241.8 175.6 191.6 124.0 205.9 117.6 251.1 93.0 247.9 174.2 181.5 88.9 234.6 143.6 210.3 90.6 289.0 153.0 225.1 147.3 230.8 155.7 209.0 105.5 244.8 114.0 197.1 153.1 212.6 106.0 254.2 103.3 211.5 86.4 226.1 135.3 243.0 127.5 224.0 88.9 268.4 91.9 242.8 126.2 258.2 106.1 244.6 135.1 255.4 157.0 199.9 127.6 235.7 102.7 230.2 107.3 229.9 100.5 242.7 111.3 239.0 90.1 261.8 107.2 271.8 118.9 243.6 169.7 216.6 93.6 239.6 112.3 261.3 111.9 256.0 138.0 215.6 94.7 236.2 90.4 231.3 90.1 240.6 92.4 261.7 109.8 242.9 100.0 255.4 89.2 244.1 143.4 242.8 126.3 204.1 163.2 218.9 98.2 251.0 128.2 202.2 136.7 251.7 97.7 258.0 87.1 247.1 118.3 209.1 104.0 245.1 95.7 224.1 117.5 237.8 103.6 261.0 111.8 226.5 135.9 246.0 135.3 235.7 113.2 224.5 139.4 228.0 115.3 220.5 165.6 172.9 97.8 226.8 105.9 241.9 107.0 260.0 105.9 264.4 121.0 244.4 96.5 260.7 114.4 235.9 149.1 200.4 103.9 235.2 125.8 247.9 235.3 160.0 96.5 230.3 100.9 226.5 260.9 134.2 106.7 256.0 139.9 236.3 131.4 241.1 151.4 231.5 95.8 265.4 102.7 229.5 118.3 241.7 240.4 127.3 93.7 237.6 158.1 195.2 198.4 142.2 108.7 232.4 140.9 247.1 104.1 236.4 120.3 235.2 122.0 241.1 118.8 240.4 107.2 271.6 106.6 235.3 213.4 204.7 119.7 258.0 100.5 257.3 90.5 253.0 104.3 243.1 134.3 219.6 111.7 246.6 214.8 133.8 128.0 231.1 91.1 270.1 167.5 212.8 141.3 205.3 109.4 232.7 92.3 250.2 94.4 250.0 131.0 208.8 203.9 200.6 101.5 240.5 92.0 266.3 101.9 228.9 117.9 232.5 150.3 213.8 188.8 196.2 93.3 236.7 108.4 236.5 112.4 230.6 105.6 275.3 133.0 220.2 148.2 225.5 136.2 216.9 116.3 235.4 134.9 181.4 91.1 257.0 102.8 203.2 109.6 262.9 110.1 246.2 100.2 238.1 121.0 218.9 96.1 258.1 99.3 254.7 111.5 276.0 88.4 250.1 104.2 270.1 111.8 259.3 91.4 248.6 197.5 213.5 131.3 232.2 117.5 235.9 100.4 242.5 91.6 245.8 97.1 255.6 113.0 236.8 133.1 202.5 144.6 231.2 102.4 231.5 95.2 274.1 121.5 238.5 107.0 245.2 139.1 242.4 90.9 247.1 109.0 226.6 101.5 258.6 125.8 226.6 100.5 231.5 102.9 221.1 86.7 246.0 118.3 233.0 101.4 238.0 114.1 229.9 115.8 229.6 116.5 268.7 101.7 214.5 98.8 275.2 100.6 237.6 122.8 244.3 111.0 260.4 106.5 231.9 117.5 229.7 96.6 227.4 106.7 249.5 117.5 243.9 154.8 229.3 91.2 248.5 104.7 245.3 225.1 175.5 89.7 233.1 127.2 225.8 107.5 213.7 103.7 256.7 109.3 250.7 113.8 246.7 119.2 203.4 103.3 222.5 126.3 188.7 142.0 233.0 111.3 275.9 89.3 231.2 133.1 232.6 106.0 242.4 87.4 260.4 100.0 271.0 124.7 235.6 101.2 258.3 94.1 222.8 115.8 228.1 231.5 188.9 88.2 251.0 117.8 237.6 96.3 247.4 104.8 224.6 86.3 252.2 117.0 238.4 101.8 218.7 104.0 231.0 102.6 256.8 173.1 201.5 89.0 267.4 107.9 252.3 127.1 255.2 118.0 219.6 96.5 254.9 115.0 240.2 99.3 243.4 93.0 276.0 109.6 233.0 95.2 237.5 114.1 246.3 120.1 252.3 132.2 211.9 106.6 245.0 131.2 212.4 143.7 226.6 163.1 165.5 94.3 247.1 86.0 252.0 144.0 188.8 124.6 185.6 101.5 253.7 92.9 250.6 111.8 265.6 138.5 188.9 99.4 258.1 277.0 155.2 107.9 241.2 91.4 247.7 92.8 246.2 128.5 260.0 125.8 219.6 85.9 252.8 198.7 141.1 98.8 250.5 248.9 172.0 91.6 247.7 124.0 241.5 86.5 240.4 96.8 262.7 86.6 246.2 118.3 204.3 123.2 268.3 124.6 216.3 94.0 234.0 98.6 244.5 92.7 249.1 127.1 258.0 92.3 254.2 115.7 240.1 124.2 198.3 116.6 237.4 103.0 226.7 91.8 261.5 110.2 224.8 126.8 255.6 118.6 236.0 98.2 215.9 101.6 250.2 88.7 239.1 147.6 165.7 102.1 257.6 111.7 265.3 101.9 238.2 92.7 281.3 137.8 207.3 89.6 242.6 154.1 263.8 138.0 250.4 134.8 213.7 102.6 263.9 100.4 239.8 95.5 236.3 153.3 201.1 101.0 227.9 95.5 232.6 139.7 220.0 103.8 252.9 99.6 237.3 90.8 252.7 169.9 143.5 102.4 243.1 96.1 257.9 141.9 229.4 103.1 233.2 122.9 208.8 103.8 255.0 98.1 219.5 96.1 245.9 86.6 261.1 139.5 207.0 142.6 234.6 232.7 172.0 96.3 211.0 124.9 231.3 125.7 235.1 188.6 155.1 100.9 246.7 112.2 220.6 109.4 252.9 106.0 227.1 128.4 256.0 240.2 138.0 104.9 249.1 138.5 204.9 96.5 269.8 139.5 227.7 118.3 224.7 88.5 235.8 117.0 240.8 128.8 210.9 245.7 116.1 115.9 241.3 134.2 229.6 104.9 259.8 105.7 252.4 98.3 235.1 238.0 144.5 96.8 275.4 98.3 241.8 104.3 254.0 92.0 245.7 96.8 241.5 102.3 261.3 96.9 244.5 137.6 263.1 94.3 239.7 127.5 242.3 138.6 222.2 111.2 247.3 92.1 248.8 135.8 247.4 102.8 241.9 95.1 249.8 92.6 270.7 132.2 242.3 111.2 234.3 176.2 163.8 96.2 252.4 100.9 235.7 96.0 262.8 145.9 218.6 87.1 273.2 105.5 238.5 91.3 268.7 89.4 264.6 122.7 220.4 105.0 248.7 130.4 237.1 128.8 223.7 89.3 240.2 103.3 244.4 109.0 243.9 118.1 248.8 290.3 173.4 100.1 233.3 170.9 175.1 110.0 243.5 99.8 241.1 100.6 264.7 169.9 159.9 147.0 208.9 174.2 170.0 143.2 223.0 88.7 246.7 134.0 258.6 129.1 184.2 104.2 238.5 144.7 214.2 107.1 236.5 86.4 251.6 96.1 261.1 97.9 246.9 127.3 222.5 90.6 266.7 121.2 261.4 93.9 228.4 103.6 249.1 95.2 237.3 246.4 90.6 106.9 261.7 111.3 228.3 95.4 240.2 123.3 235.8 105.0 261.2 87.8 259.3 119.7 224.8 171.8 167.4 115.2 246.8 93.7 251.8 95.5 248.0 89.4 247.2 124.5 216.6 87.8 237.2 96.5 255.4 91.1 236.4 161.0 177.6 91.2 247.1 103.5 255.0 99.0 220.0 142.8 189.0 329.9 89.3 91.0 243.9 121.6 224.5 101.3 255.7 123.6 268.7 91.4 245.4 88.3 262.3 109.4 270.3 92.3 237.0 104.1 219.7 106.2 255.1 125.9 198.4 109.9 256.7 96.5 231.0 114.0 210.4 86.8 231.4 100.6 254.8 89.4 263.9 117.8 231.1 89.7 237.7 106.7 249.8 122.7 232.2 96.5 236.9 145.2 183.9 122.4 255.8 90.1 226.8 115.5 229.0 103.9 246.1 105.3 199.1 119.7 241.9 114.9 229.6 101.0 258.6 149.4 191.9 103.5 245.0 103.6 253.6 89.4 246.6 121.6 240.6 139.5 240.6 99.2 237.7 110.9 227.2 103.0 242.8 114.4 214.5 127.4 252.0 102.8 238.3 99.8 234.7 130.0 235.2 282.0 160.6 112.4 215.7 86.4 249.8 126.0 214.8 87.0 256.8 121.5 222.0 258.9 135.4 94.7 253.3 132.2 258.4 103.6 256.8 101.7 231.6 134.0 220.6 107.6 248.3 105.6 262.6 125.5 258.0 98.7 275.2 103.2 252.3 92.8 230.3 94.1 248.9 145.7 229.7 96.3 267.6 135.4 214.1 140.3 212.5 122.6 219.6 122.0 255.5 183.7 173.1 174.4 221.5 164.5 211.8 147.8 167.5 117.1 240.4 275.1 147.8 117.8 207.7 135.9 178.0 102.7 244.0 99.4 248.3 88.6 241.2 89.8 253.1 123.9 250.6 165.0 219.0 90.3 249.7 145.6 189.1 87.8 255.5 95.2 233.6 111.6 218.4 117.2 213.2 127.7 229.0 132.5 248.4 142.0 237.6 106.8 231.4 108.9 238.3 88.3 235.5 94.3 233.8 103.3 252.9 120.1 228.2 99.6 257.2 110.2 228.7 107.7 235.0 109.9 251.4 121.4 250.0 130.2 232.6 99.8 268.1 103.3 218.5 89.5 261.7 119.2 270.5 113.4 223.9 105.7 227.0 113.5 258.6 164.0 207.9 114.1 209.0 140.8 185.5 124.2 229.2 94.5 229.5 140.4 243.7 96.7 261.3 107.1 258.8 133.9 201.7 106.2 258.6 135.1 248.7 97.0 249.9 140.4 192.6 144.4 213.1 135.8 236.6 106.2 223.0 105.1 239.3 233.5 139.8 105.2 238.4 97.8 275.2 120.4 219.9 102.8 274.7 89.1 243.1 87.9 237.9 122.9 253.6 140.3 213.3 89.1 254.5 94.4 249.0 119.9 243.5 171.1 195.8 133.9 234.8 118.9 253.7 96.0 258.0 114.9 234.5 113.4 246.6 129.8 233.0 87.1 243.2 92.7 256.5 133.8 233.3 89.2 256.6 154.8 202.4 123.2 253.0 105.4 230.2 115.4 218.2 85.9 259.1 130.7 223.4 94.5 249.5 97.8 232.5 105.7 259.6 91.9 259.3 94.2 263.0 126.5 202.0 100.5 219.4 108.7 247.7 109.9 225.2 119.0 236.3 107.1 259.7 106.2 275.1 101.5 230.1 115.6 243.0 86.3 254.4 116.7 215.9 149.4 237.0 98.4 250.5 88.9 246.5 118.2 211.1 97.9 253.9 128.4 207.8 106.2 250.7 86.1 245.4 116.1 215.3 94.2 250.1 147.3 195.9 154.2 204.5 136.6 235.9 131.9 242.7 103.2 242.9 109.7 253.7 148.7 250.4 107.8 251.0 100.1 224.2 135.1 220.4 100.4 235.4 114.3 254.2 98.2 243.3 120.2 240.7 111.2 248.2 88.6 253.4 98.6 252.2 86.3 263.1 208.5 145.1 103.0 261.2 121.3 235.7 144.4 239.0 93.2 220.2 101.0 248.9 130.0 230.0 147.3 205.4 96.4 230.5 127.3 220.3 211.8 156.0 108.5 218.9 102.6 252.3 88.6 273.9 104.3 226.9 98.2 243.8 93.7 244.3 161.3 197.7 151.5 225.2 94.0 259.3 129.4 245.5 87.5 262.2 95.1 244.1 133.8 244.4 106.7 237.9 88.7 241.0 129.3 232.8 119.8 224.0 101.3 251.1 88.1 279.6 160.3 224.8 175.5 191.5 107.3 244.6 92.9 248.5 102.7 241.7 93.9 250.4 127.8 266.4 165.0 210.4 125.8 202.1 108.0 243.3 139.2 238.9 86.7 228.2 126.8 241.1 93.5 233.6 97.7 238.2 104.0 257.4 89.4 240.9 92.2 257.6 110.3 224.7 103.2 255.4 96.1 230.4 90.2 229.3 110.8 234.1 93.8 231.3 90.0 253.2 102.3 260.6 92.7 250.1 99.4 270.4 102.9 220.5 119.4 226.1 115.2 232.9 87.1 267.7 118.1 233.0 108.6 250.7 102.4 248.1 110.9 227.8 139.9 208.7 93.1 254.4 92.8 232.9 248.5 145.4 119.2 198.9 135.6 206.9 98.4 258.4 95.4 225.5 162.6 194.0 118.8 233.0 120.9 189.7 106.8 240.2 98.4 252.8 142.9 241.1 91.0 231.7 102.6 251.4 94.3 242.5 89.4 233.2 87.8 230.7 107.6 233.5 87.1 253.8 94.1 247.0 144.3 199.7 123.3 217.2 166.1 205.0 113.6 224.8 94.5 236.1 97.5 235.9 125.3 230.3 115.8 217.3 87.0 227.5 150.6 236.7 100.1 210.8 101.1 247.8 111.7 219.1 94.2 240.5 123.1 205.7 92.2 265.1 110.4 211.5 108.3 234.1 120.1 245.1 131.0 247.1 92.1 255.5 109.5 266.0 97.9 251.0 90.9 246.6 126.5 221.9 86.5 244.8 91.7 254.9 115.5 254.5 188.3 156.7 128.6 225.7 142.8 195.9 95.5 239.5 128.6 205.8 102.2 262.4 92.8 255.7 124.6 227.2 110.2 226.7 102.6 241.1 127.0 222.3 136.4 247.5 102.9 254.5 127.5 248.9 152.1 244.7 98.6 255.8 97.9 222.0 98.0 241.4 89.7 253.0 115.2 218.7 120.6 217.9 140.7 207.6 88.5 247.4 91.6 236.5 100.8 233.8 101.1 220.1 253.6 121.6 107.4 245.5 122.1 239.4 90.6 251.8 124.6 215.8 89.3 254.6 166.9 207.6 112.1 260.2 116.6 235.3 100.6 274.5 94.8 267.3 97.9 252.2 95.9 224.2 122.0 238.6 152.5 187.5 103.6 244.4 122.7 238.5 120.5 250.6 93.3 234.7 125.0 238.5 110.1 240.0 121.0 234.4 108.1 226.1 258.9 152.2 329.9 121.0 113.6 242.1 100.9 255.9 197.6 148.1 97.4 252.8 109.0 233.4 205.4 173.9 104.2 240.7 94.6 256.7 112.0 233.5 127.5 249.9 174.5 158.6 103.9 243.3 108.3 257.5 134.8 205.0 153.2 195.0 131.5 244.8 116.9 225.7 87.1 241.0 86.2 258.6 91.5 233.2 117.2 224.7 93.8 239.5 96.3 261.8 103.8 266.1 127.1 222.5 106.5 220.4 86.6 277.9 118.6 222.4 93.5 274.4 119.7 228.1 89.9 257.2 92.4 263.8 144.2 196.7 95.2 234.6 109.6 245.7 128.1 203.2 93.8 240.6 99.6 225.3 150.9 225.8 96.8 256.4 150.7 201.7 164.7 150.0 127.6 244.5 94.9 239.1 113.3 243.5 105.8 234.5 142.2 225.6 100.3 265.5 95.9 243.3 99.9 256.3 89.4 252.8 122.8 258.3 204.6 206.8 127.9 235.2 105.3 253.7 298.0 167.2 148.3 201.2 155.8 228.3 152.3 240.2 106.2 210.3 117.2 271.9 115.0 237.4 100.6 235.5 125.9 243.2 87.6 269.0 128.1 253.2 122.4 219.4 117.2 227.7 96.1 246.6 88.4 232.5 129.9 181.8 92.0 252.2 143.0 197.2 86.8 280.8 112.6 248.0 128.9 218.8 96.5 271.6 112.9 226.4 100.5 222.9 100.2 259.8 101.0 267.3 212.4 117.6 87.9 223.3 112.0 235.8 295.6 161.0 109.7 264.2 222.7 154.1 99.1 236.2 92.9 240.8 135.5 198.2 88.6 246.6 112.5 213.2 98.4 225.2 131.3 229.5 200.5 178.4 119.8 223.7 98.8 251.8 105.7 279.4 109.1 236.1 100.5 242.4 130.9 230.6 115.7 257.1 89.8 259.2 89.1 248.1 135.5 237.7 126.6 259.9 101.8 229.1 126.0 220.4 121.4 255.5 98.0 252.1 113.7 251.6 90.8 240.2 97.0 248.3 192.4 179.7 107.3 237.6 118.2 273.5 87.3 239.7 89.6 257.0 105.5 226.6 86.1 243.3 138.4 206.1 138.1 231.8 229.9 161.6 111.5 242.8 108.5 242.6 129.7 234.1 104.7 234.6 129.8 228.9 109.7 250.2 95.7 253.6 162.6 193.2 174.7 191.0 97.3 230.5 95.9 224.1 140.9 187.4 87.9 231.6 104.9 224.8 86.8 261.1 97.6 270.4 113.4 261.7 86.3 260.1 106.9 256.0 103.5 232.4 98.8 256.8 107.3 249.2 112.7 232.8 99.2 211.7 201.3 173.0 90.9 262.6 88.0 245.9 115.5 236.2 135.0 187.6 122.6 249.0 97.2 246.8 121.7 219.6 94.4 285.0 125.2 198.8 87.8 252.1 99.0 236.4 200.5 130.5 110.1 255.3 153.5 224.8 99.0 238.3 245.9 160.3 128.4 250.8 94.7 261.3 88.6 229.8 95.7 249.2 100.3 216.4 100.7 230.2 122.3 269.0 101.0 269.7 112.0 230.4 115.2 222.8 88.5 227.1 140.5 216.3 90.0 263.6 94.2 260.2 100.8 264.6 91.7 249.7 235.6 130.3 94.5 241.0 104.7 226.3 108.2 225.5 113.4 260.1 109.2 232.5 122.2 230.8 117.9 219.7 123.6 221.7 142.7 236.7 89.3 249.2 88.5 250.6 121.8 236.2 105.3 232.7 108.5 225.7 92.8 259.0 100.5 261.8 138.0 217.3 102.3 240.4 140.1 210.7 89.5 242.5 86.6 248.4 120.9 266.3 116.7 249.5 151.4 198.9 112.4 247.9 107.4 249.0 86.4 247.8 97.3 278.2 112.8 244.9 132.4 220.3 128.1 231.3 112.2 245.9 136.6 187.3 139.6 237.1 103.0 243.7 135.2 243.9 95.4 246.9 94.5 238.2 152.0 206.8 87.2 233.9 107.7 247.6 137.6 179.1 93.3 242.5 119.9 231.4 105.9 252.7 145.3 181.7 110.6 261.6 88.5 232.2 117.1 234.2 93.4 229.9 107.7 261.2 105.3 264.1 89.7 251.2 105.3 239.0 115.3 228.1 103.6 262.5 95.3 249.0 112.0 259.8 125.4 248.3 85.9 229.4 91.5 236.1 176.1 166.1 115.3 255.4 114.6 245.7 100.3 255.6 126.4 247.1 107.4 214.6 98.1 238.7 94.7 257.0 90.7 257.5 99.3 255.4 148.0 244.3 93.3 263.5 107.3 233.5 124.8 211.9 217.8 166.9 111.6 271.5 143.3 208.9 113.3 220.2 90.0 252.3 145.0 186.5 152.9 172.6 87.1 266.6 114.3 235.1 94.5 244.6 98.7 240.7 88.7 234.0 128.7 197.2 108.7 242.2 89.0 241.9 112.8 225.6 88.4 256.0 151.2 188.3 170.2 200.7 130.2 182.4 88.7 266.4 146.3 248.2 114.9 243.5 132.8 250.4 92.5 247.6 142.8 212.3 102.4 238.3 99.3 268.5 142.9 205.0 120.7 225.7 104.3 242.2 110.4 220.7 120.9 236.9 132.6 250.3 90.5 254.1 132.0 196.9 86.4 234.1 118.2 187.0 95.5 249.5 103.7 262.0 131.8 238.7 123.8 209.1 103.6 236.7 140.1 258.5 138.2 201.1 96.4 225.4 108.7 224.6 87.7 243.3 110.5 227.4 109.4 261.0 129.9 178.5 163.2 223.9 106.7 234.5 108.0 237.5 127.2 218.5 105.7 226.4 110.0 231.5 169.8 193.9 116.3 218.3 87.7 256.8 102.9 248.5 102.6 264.0 112.1 265.9 86.8 242.6 90.1 248.0 99.0 251.1 273.5 164.5 158.5 228.2 109.0 256.6 99.9 259.2 130.0 218.5 102.6 253.2 125.0 213.3 148.6 228.4 99.4 236.0 141.0 242.2 111.9 261.7 120.1 229.2 130.8 178.4 113.9 229.0 132.9 239.6 95.8 245.4 95.6 241.3 135.7 230.0 191.8 197.0 86.7 250.2 92.3 258.1 108.0 231.6 98.5 240.5 134.5 216.1 115.1 234.0 94.6 243.1 112.5 209.0 94.1 255.5 115.4 256.8 127.7 222.3 134.8 188.8 92.0 243.2 312.5 149.5 105.1 272.0 147.3 223.5 102.8 250.8 133.5 210.3 112.9 248.3 103.9 240.5 113.0 240.8 112.5 228.9 140.4 258.1 98.8 234.2 153.4 182.2 122.5 225.6 92.6 273.4 149.7 227.7 105.9 235.0 107.0 236.7 174.5 181.7 139.0 224.4 97.9 260.7 107.3 230.1 100.7 242.6 117.8 239.3 131.8 242.2 154.6 232.5 103.8 242.0 95.4 223.1 107.0 256.4 90.2 283.1 86.6 255.9 184.1 200.3 90.3 247.1 95.3 233.3 105.3 240.2 103.1 253.1 110.5 264.0 182.8 193.0 114.6 247.7 126.3 236.3 98.0 248.6 117.3 242.5 91.6 254.5 116.9 221.0 108.6 234.2 126.4 244.7 126.3 254.9 91.3 247.6 111.4 223.2 134.2 257.0 127.3 233.2 140.9 196.1 93.5 258.8 88.7 230.8 92.1 265.9 95.4 248.8 117.7 204.2 86.2 251.3 99.9 242.0 196.2 137.2 86.8 260.6 90.8 276.7 116.4 225.9 106.2 229.9 156.6 191.9 87.5 256.3 102.8 243.6 166.9 185.0 156.6 216.5 132.1 246.9 109.4 221.7 129.2 265.3 96.3 245.6 102.0 233.7 130.5 256.3 97.3 235.4 219.9 192.1 124.1 225.4 102.7 212.5 102.5 248.0 96.6 232.2 89.8 239.4 98.0 254.8 102.8 278.2 96.0 269.2 86.8 258.5 118.0 257.8 94.3 274.4 99.4 230.5 91.2 234.6 101.4 231.7 124.3 237.2 86.4 234.3 119.4 223.7 124.6 249.5 94.8 236.4 135.4 184.1 202.8 147.4 115.4 227.9 91.1 256.7 148.4 210.3 113.9 242.9 93.2 266.3 118.4 231.4 94.3 251.7 98.4 262.9 109.4 243.6 87.5 252.8 122.1 209.2 141.8 227.7 157.3 163.5 99.4 243.8 141.4 221.1 89.2 257.2 106.3 240.4 235.2 150.5 95.0 239.2 133.4 243.4 89.7 257.6 130.7 211.0 224.0 152.2 126.5 256.9 114.7 218.7 98.7 249.4 92.4 273.4 132.6 216.4 88.9 239.7 130.1 219.6 164.2 170.4 86.6 257.0 115.5 218.4 111.9 246.8 113.4 241.4 113.8 232.4 107.9 252.2 120.4 248.9 104.9 242.8 113.4 223.0 120.8 224.9 91.7 230.6 111.3 266.9 99.0 264.3 273.1 161.0 121.2 220.1 100.1 225.5 207.1 186.9 85.9 263.0 97.5 242.8 121.9 251.0 95.3 248.1 87.7 230.4 108.4 252.2 96.6 243.6 108.8 240.2 96.6 225.3 105.1 225.2 111.3 235.0 115.0 245.6 126.6 215.8 101.4 215.7 136.0 221.1 215.2 175.3 100.7 235.5 296.9 61.1 90.7 254.3 128.9 231.4 118.0 176.3 93.6 248.4 135.1 216.8 92.1 242.4 267.2 130.9 86.5 252.4 130.1 214.6 95.3 263.5 104.8 267.1 336.4 152.4 125.1 260.9 92.9 258.2 92.7 258.8 101.4 231.4 137.5 227.4 122.7 219.4 95.8 230.9 164.0 180.5 87.9 242.1 118.5 254.4 88.5 247.4 139.6 215.3 91.1 229.6 95.7 261.4 87.1 242.9 88.9 266.1 88.5 240.4 109.5 231.6 89.5 250.5 96.3 235.8 120.5 205.8 318.0 188.3 118.5 208.3 115.0 252.7 90.7 260.0 89.3 244.3 145.6 208.3 132.6 203.5 134.3 253.5 94.5 256.0 94.2 258.5 88.5 237.8 105.8 245.6 95.6 239.6 109.2 237.2 101.0 231.3 86.0 246.5 171.0 208.7 122.0 241.6 168.1 167.3 224.7 188.7 210.0 127.7 104.0 242.4 116.4 236.7 120.1 253.1 201.5 153.2 92.3 237.0 88.6 235.7 135.3 261.5 112.7 247.9 110.0 233.9 120.3 239.7 280.2 123.4 85.9 263.9 110.3 256.2 109.3 252.6 99.6 229.1 90.5 243.4 105.5 231.6 102.2 267.7 125.1 258.3 128.3 262.7 134.8 212.9 126.0 263.9 132.5 255.9 111.8 227.5 94.0 240.1 113.0 232.3 92.5 263.3 194.8 154.5 150.2 230.3 101.9 257.6 105.8 223.3 96.3 275.3 117.7 265.1 126.6 257.9 111.3 255.6 112.5 256.0 97.4 228.9 89.9 247.8 107.2 230.6 95.2 257.5 111.2 255.0 126.5 181.0 104.0 227.8 227.0 181.7 173.7 138.6 111.7 229.9 86.4 259.9 86.2 251.0 99.2 250.0 118.7 207.2 89.9 250.5 90.1 262.4 133.0 200.3 143.3 216.3 120.7 234.6 215.5 191.3 93.6 271.8 106.8 248.6 95.0 257.7 121.4 223.2 86.3 261.5 190.8 185.0 114.2 220.5 113.4 246.4 109.2 237.0 100.3 237.1 119.0 257.8 124.4 231.9 134.1 192.3 119.3 223.4 92.7 238.1 176.5 177.6 139.5 229.1 133.1 234.7 133.7 231.5 112.3 263.9 120.3 264.8 98.5 238.4 101.7 254.7 110.0 252.9 268.4 125.7 146.3 221.8 104.6 269.0 139.9 256.6 143.9 190.1 94.8 265.1 117.1 231.4 108.0 224.8 107.2 244.7 106.0 213.6 124.2 257.8 144.5 173.6 118.5 245.7 101.3 248.0 89.9 235.9 90.5 231.7 115.6 223.4 131.6 220.9 87.4 240.0 104.1 209.8 97.7 242.8 135.7 247.2 91.0 248.2 86.8 266.1 109.4 256.2 99.6 225.3 124.8 212.0 113.0 218.0 99.4 233.4 105.8 228.3 141.9 185.3 111.1 240.3 127.6 253.2 94.5 234.0 123.3 227.1 125.5 243.5 110.8 262.1 101.7 241.6 102.6 238.7 104.1 259.4 105.7 244.5 88.9 253.8 113.2 240.3 100.6 247.4 94.3 242.2 116.7 256.3 89.5 230.6 113.7 226.3 116.5 255.3 102.9 238.2 98.0 262.8 124.8 238.2 89.7 247.0 88.5 254.4 115.0 232.7 87.1 259.9 90.0 264.5 109.6 254.6 287.9 152.0 124.1 230.6 110.9 230.4 99.1 237.8 121.1 247.8 138.6 230.7 88.0 246.6 94.0 232.6 99.2 236.4 132.2 202.7 102.5 246.2 112.1 240.3 96.9 242.1 132.4 255.3 173.0 202.6 86.3 240.0 99.4 214.8 104.8 262.1 149.3 197.0 114.6 243.6 104.3 241.8 140.1 214.0 140.0 230.4 146.8 222.9 124.8 208.4 87.4 257.1 119.8 234.6 136.2 231.1 93.6 244.2 100.7 251.4 98.6 255.8 109.4 229.2 102.5 225.7 139.0 254.7 187.7 159.0 107.3 264.6 188.3 185.0 96.0 250.7 98.0 259.1 137.8 232.2 100.4 229.9 204.1 143.6 87.2 259.9 147.6 221.9 101.6 259.3 105.0 247.3 95.1 241.7 92.4 267.5 93.9 242.8 133.0 239.8 103.3 261.4 92.9 231.5 121.8 211.7 87.5 248.1 98.3 244.1 99.9 254.0 179.6 217.0 107.4 231.2 109.7 264.3 184.1 183.7 94.3 246.3 113.0 250.9 111.5 244.3 94.2 263.4 108.9 217.7 98.2 248.3 146.5 226.6 125.0 232.7 121.5 261.6 93.5 227.3 92.4 270.4 114.2 215.7 258.3 190.0 110.6 230.7 126.2 244.1 155.8 211.8 100.1 255.3 103.5 258.3 173.9 211.5 99.3 243.1 156.9 196.7 101.2 233.9 108.9 208.2 107.1 252.1 114.3 248.3 124.3 236.3 97.4 237.8 96.2 262.9 136.5 224.9 101.8 246.5 105.5 224.3 127.6 229.9 125.7 250.8 98.3 252.3 120.6 243.2 97.5 242.3 113.4 224.5 108.8 230.0 115.8 215.9 90.4 261.3 126.1 236.6 98.4 263.6 92.3 256.4 148.4 199.8 114.7 247.6 154.8 216.6 158.9 207.3 93.2 247.4 156.4 196.8 88.0 254.9 93.3 240.1 156.0 227.8 140.9 239.1 132.2 265.5 142.3 205.7 93.7 241.8 135.7 235.8 87.6 242.6 101.4 274.8 103.8 220.7 113.1 245.1 109.2 277.7 115.8 203.6 119.8 191.9 110.3 235.6 114.8 234.5 86.4 237.7 123.5 236.8 108.3 255.9 190.6 169.3 97.2 261.1 100.6 251.2 120.7 226.6 109.1 232.9 118.1 239.3 137.9 256.9 120.6 262.3 107.1 240.0 91.5 244.1 119.7 251.4 126.6 258.7 134.0 211.4 140.1 247.6 269.0 146.7 148.0 238.6 94.1 230.9 91.4 249.5 104.8 230.5 92.6 228.4 96.4 246.9 124.6 251.3 110.3 241.3 102.7 265.2 91.7 235.8 88.6 255.7 89.2 252.1 161.0 196.0 93.7 246.6 118.5 248.9 92.9 239.2 109.3 241.2 128.7 249.0 90.1 240.2 121.2 258.7 93.3 230.4 103.2 234.1 283.8 170.4 90.2 259.8 90.6 274.3 192.2 214.8 90.7 243.1 91.3 262.4 150.7 196.0 89.2 257.0 113.3 234.1 131.5 235.1 105.8 248.7 116.1 217.6 130.6 252.3 96.6 244.4 112.0 250.7 104.7 251.9 107.0 251.0 105.0 253.9 95.6 251.6 101.7 237.9 92.1 254.6 119.0 245.5 133.7 216.2 141.3 221.0 100.0 264.1 101.8 261.1 101.1 266.0 116.2 239.6 95.5 258.7 121.9 205.6 101.0 228.5 93.1 233.9 141.1 204.9 118.2 260.2 168.1 207.5 173.4 187.6 114.0 225.4 132.1 255.1 100.9 253.7 88.9 276.8 137.7 226.5 129.1 265.9 157.7 188.1 138.3 220.8 111.3 230.2 86.3 235.0 123.1 186.3 96.1 267.6 118.6 236.1 89.6 237.8 106.7 255.8 120.8 257.5 109.9 249.3 95.1 253.9 121.6 247.1 134.3 202.2 95.7 235.9 94.9 258.8 109.9 256.2 114.3 253.1 105.8 248.9 97.2 219.1 91.0 237.0 113.5 271.2 97.6 265.3 151.5 256.9 141.1 257.4 88.2 233.8 102.8 247.3 105.2 224.6 119.6 248.4 116.7 223.8 87.1 236.4 85.9 256.1 90.1 254.7 130.1 250.5 121.3 243.8 91.5 243.6 150.9 218.5 94.8 268.4 87.4 230.1 197.0 221.8 112.0 239.9 87.0 238.4 94.8 244.5 106.2 242.3 132.9 256.5 121.7 189.6 106.2 226.7 124.6 224.3 97.2 241.5 163.6 187.5 105.4 244.5 119.3 231.4 146.8 184.5 94.0 233.8 129.2 199.2 106.5 229.4 121.2 255.0 121.9 220.6 142.6 217.1 98.6 225.2 114.7 223.6 138.3 217.6 110.1 254.8 122.4 229.5 104.1 251.9 100.7 219.1 91.1 247.3 99.1 251.8 106.5 231.7 136.3 224.2 86.9 241.8 105.3 233.4 309.6 124.2 148.5 250.9 86.7 247.9 120.2 254.7 182.1 200.3 113.8 239.1 128.1 199.0 261.3 149.4 110.7 228.2 143.8 189.4 86.4 246.8 115.1 251.5 136.7 220.3 118.7 227.3 153.5 220.5 118.9 247.5 101.4 270.2 124.8 247.0 126.9 225.8 110.8 243.4 99.1 231.9 133.4 204.1 101.9 241.5 87.6 259.4 105.7 252.2 168.7 178.1 110.7 235.9 94.8 238.5 127.3 222.3 127.6 222.7 109.3 258.2 137.6 224.9 114.9 238.1 100.8 235.9 146.9 201.9 129.3 204.7 90.6 262.5 133.6 234.9 130.6 211.4 132.1 206.8 112.7 262.2 112.9 233.5 124.7 213.8 121.5 211.1 99.8 225.6 102.2 241.6 131.0 239.0 92.3 236.1 117.2 214.1 106.7 269.2 133.3 240.5 126.8 233.0 95.9 246.3 119.9 228.5 119.9 219.1 100.4 234.0 112.2 265.0 93.4 258.6 101.1 251.4 109.1 243.8 100.0 240.3 85.9 249.7 135.1 234.6 115.8 229.0 118.2 237.2 100.3 244.6 185.0 190.5 94.7 232.5 103.3 220.3 127.0 239.3 103.7 221.4 91.1 276.6 124.5 236.8 87.9 243.5 147.8 186.6 121.1 235.6 88.6 229.2 120.0 249.8 142.7 233.6 135.4 232.0 86.8 253.4 98.4 263.8 150.6 230.7 94.2 234.8 128.5 242.7 162.4 223.3 86.4 271.4 89.8 244.3 121.4 255.6 89.8 228.9 208.6 190.4 138.4 234.9 119.7 228.0 100.2 236.1 108.4 218.5 118.9 221.3 96.8 253.8 114.7 227.3 123.8 216.9 85.9 259.1 134.4 206.0 116.6 189.9 108.7 256.6 97.1 244.7 96.5 251.5 124.0 207.6 91.6 244.6 109.2 211.6 181.0 169.4 97.2 233.8 112.5 221.7 131.6 216.8 139.8 194.2 126.7 214.1 107.9 236.3 197.1 145.1 88.7 245.4 90.2 268.7 105.6 269.4 130.6 240.7 103.3 253.8 284.6 191.2 116.3 265.5 112.3 272.1 102.5 242.6 100.9 266.6 90.0 257.0 110.0 254.8 140.6 234.3 98.7 232.7 98.4 237.1 118.9 266.6 94.4 255.8 116.4 249.0 136.3 262.9 98.7 240.1 124.5 208.8 108.9 272.8 92.7 245.9 100.6 250.1 167.3 186.0 93.8 255.4 87.5 232.9 95.9 254.7 105.4 237.2 117.7 215.4 113.8 218.0 101.6 240.0 105.4 241.0 134.2 214.3 102.8 241.3 135.3 216.6 92.2 256.0 116.3 231.6 122.4 239.5 113.0 231.1 128.5 258.0 145.1 245.4 100.8 225.8 90.3 251.5 107.1 257.4 106.1 223.3 114.3 270.7 102.3 252.3 115.5 249.0 126.5 198.6 102.7 253.3 94.0 246.7 94.2 243.3 87.7 239.5 93.4 230.3 89.4 222.6 139.4 247.2 101.0 269.3 139.8 187.8 142.5 252.3 128.0 208.2 105.1 241.1 122.8 231.4 102.6 231.3 111.9 250.5 108.7 247.4 92.3 213.7 88.2 250.4 95.4 252.8 108.6 247.3 104.1 262.8 174.8 225.7 112.3 269.2 100.7 235.5 144.9 203.2 112.4 242.7 106.8 267.4 102.4 252.5 112.4 255.1 91.4 261.8 95.4 259.1 137.1 231.5 96.4 260.7 125.3 185.1 113.4 230.5 89.2 235.2 101.7 240.3 89.8 240.7 94.4 229.2 98.1 267.4 98.6 243.6 140.9 257.9 94.7 238.6 126.3 242.5 114.8 239.0 123.8 257.0 111.5 237.2 105.9 214.9 117.2 226.3 169.0 199.4 122.6 247.0 100.8 226.5 98.5 237.0 97.5 251.6 98.7 248.2 126.4 186.2 136.4 182.5 137.6 221.3 107.1 229.4 121.5 218.7 87.2 263.2 86.6 231.6 121.9 248.2 98.9 249.6 142.3 211.1 121.0 256.2 98.5 243.1 110.4 251.5 188.3 176.4 107.6 244.7 191.5 143.5 108.5 247.1 97.8 248.4 103.0 239.9 86.0 248.2 243.5 137.6 97.1 246.7 102.0 269.0 87.9 262.4 143.2 241.4 105.5 258.3 90.8 265.4 91.0 214.4 100.5 253.1 102.7 240.4 99.0 240.0 89.2 263.1 126.1 228.5 108.1 264.5 146.0 204.9 126.2 253.2 93.4 234.2 113.3 253.8 99.8 234.1 101.8 265.2 109.7 249.5 111.3 239.7 232.0 120.3 103.6 275.5 134.4 238.8 131.7 213.3 91.8 239.4 113.7 249.0 120.2 253.7 117.6 248.7 122.4 237.6 116.4 236.4 133.5 219.8 135.8 223.5 116.9 218.7 222.7 152.6 117.6 230.6 110.8 242.0 140.9 224.8 98.1 235.2 118.3 273.2 90.0 250.8 138.9 221.5 118.1 259.5 92.0 243.3 150.1 222.8 120.4 210.0 123.5 234.8 92.3 245.7 136.8 207.6 101.2 266.5 100.3 229.1 95.5 238.8 97.2 264.3 118.7 249.4 104.0 261.9 99.8 257.7 137.7 177.4 123.0 202.7 153.8 219.1 98.6 243.1 103.1 247.1 104.0 231.8 268.4 130.1 100.8 256.5 123.6 208.2 101.5 229.8 119.9 231.7 111.4 233.1 129.5 205.2 119.3 263.0 91.8 291.1 193.0 171.1 89.7 246.5 373.4 121.3 106.6 254.3 108.9 221.5 234.0 153.6 120.3 241.4 124.3 236.1 101.4 248.1 102.9 233.5 129.4 213.6 95.0 259.1 94.4 269.8 88.5 237.6 116.2 219.4 118.4 232.7 93.9 254.0 114.7 265.2 97.4 227.3 171.5 202.6 116.2 261.7 145.2 159.9 197.1 205.2 102.0 230.3 129.1 214.4 105.7 229.4 130.5 237.7 118.9 212.0 91.7 249.1 142.6 175.6 133.0 233.6 129.0 225.7 123.8 205.3 91.7 258.5 102.6 264.8 94.2 247.4 108.0 263.4 96.6 228.0 101.9 238.2 93.4 234.2 119.0 264.7 89.4 259.2 103.2 214.5 88.2 225.7 131.2 248.0 105.6 222.4 115.7 219.3 97.0 235.5 95.8 244.8 123.8 268.4 113.4 251.8 264.2 145.5 118.7 218.0 116.9 272.2 113.4 229.4 106.1 231.1 159.4 194.2 102.9 238.4 133.8 213.1 94.5 248.2 145.4 215.9 99.4 252.4 92.2 264.9 110.0 239.3 292.1 121.0 104.8 234.5 122.1 249.9 103.2 244.6 90.9 231.9 182.5 163.2 117.8 227.5 197.5 136.7 106.2 253.4 139.7 246.5 99.5 231.5 104.2 235.9 141.1 197.3 89.3 241.5 100.2 245.5 96.4 269.1 113.7 263.0 123.9 215.2 112.8 264.3 136.0 236.7 95.3 247.9 119.2 224.4 102.7 262.8 117.8 207.9 94.9 255.2 127.2 245.7 88.0 248.7 101.9 273.3 113.1 221.1 104.5 282.6 120.0 238.2 89.1 243.4 106.7 236.3 91.0 241.2 131.0 255.5 275.7 71.6 106.9 219.9 184.2 134.8 142.7 213.9 99.3 221.9 92.4 251.8 172.8 214.2 165.9 212.3 317.5 140.8 93.7 261.8 111.2 218.5 97.7 217.2 110.2 219.5 103.9 245.9 101.8 217.5 102.9 254.6 98.2 229.5 118.4 199.4 99.5 249.1 101.1 258.3 100.4 242.4 101.7 265.6 109.1 210.4 131.5 238.1 152.9 181.8 92.6 242.0 126.2 224.2 88.9 261.2 96.5 235.1 112.0 260.4 118.7 237.9 156.9 186.8 93.1 256.0 119.9 257.0 111.6 213.0 104.3 244.0 104.0 226.8 233.3 168.8 95.5 251.1 87.1 254.3 99.7 264.0 114.0 261.3 110.1 233.8 124.1 245.5 93.3 239.2 89.7 261.7 102.2 227.3 154.5 195.1 201.5 150.3 92.9 231.7 98.9 251.0 237.8 151.7 88.1 244.7 182.3 202.7 115.2 245.4 138.3 199.0 170.7 203.2 88.5 260.3 171.0 183.8 109.5 240.6 178.3 174.3 115.1 207.9 96.6 264.0 119.3 225.0 104.7 255.7 94.7 221.4 159.7 221.0 124.9 247.7 125.4 222.7 117.7 260.9 97.9 220.0 125.7 210.4 138.3 178.5 116.6 210.9 95.9 247.8 114.7 207.1 99.3 243.7 97.3 252.1 98.1 251.1 99.7 271.0 150.3 211.1 114.8 253.6 113.2 252.0 104.3 230.1 90.6 248.1 133.0 214.4 87.6 275.3 278.4 143.1 196.2 215.5 87.4 237.2 103.0 214.6 112.3 217.9 99.6 223.1 97.6 241.5 130.7 254.5 143.3 236.8 86.8 241.7 89.9 250.0 102.4 215.5 126.1 252.0 107.8 239.5 97.8 249.1 108.7 241.8 153.5 209.7 87.9 261.7 89.4 254.1 123.8 201.6 113.8 256.4 177.2 148.8 160.8 188.2 102.3 252.1 133.3 220.2 110.9 255.0 105.6 252.8 117.0 206.7 133.0 244.0 109.1 255.7 147.5 203.5 107.2 244.7 94.4 249.0 120.6 220.3 267.2 201.5 134.4 258.7 167.9 143.2 91.8 238.6 90.0 240.0 86.1 257.3 104.6 247.0 142.9 207.2 97.7 239.5 142.5 236.9 87.1 258.1 91.8 238.9 125.8 215.4 162.2 224.5 154.8 167.3 87.5 238.4 103.1 227.6 145.1 223.5 90.5 247.5 103.1 256.1 89.3 265.6 88.0 262.8 96.2 249.2 216.9 157.9 104.6 258.0 118.9 229.2 120.1 249.9 162.4 153.4 102.4 236.5 104.1 268.6 105.6 197.0 111.0 223.7 153.7 226.4 97.5 247.4 110.8 246.3 100.0 263.8 98.8 262.3 125.0 242.7 119.6 212.6 112.3 233.8 123.1 199.1 125.2 215.4 88.3 262.9 120.7 211.2 203.4 164.3 87.7 267.5 116.5 225.4 144.2 230.2 137.2 217.6 112.8 253.9 110.4 259.7 138.5 247.5 88.9 274.4 116.7 254.7 86.8 233.3 90.4 238.0 96.3 226.6 98.8 255.2 144.2 233.7 90.0 224.2 117.5 240.3 113.6 221.3 234.5 171.1 145.4 214.6 139.2 216.4 128.1 205.8 98.4 234.6 109.8 239.0 106.5 196.7 98.8 243.5 110.6 218.0 148.0 224.8 125.0 250.4 110.2 214.1 97.4 244.3 251.8 165.7 116.9 236.4 100.7 248.1 111.1 234.1 99.8 250.4 98.6 250.9 286.6 88.0 97.1 242.9 106.6 252.7 92.9 245.4 119.4 258.5 138.2 194.8 100.3 251.2 115.3 225.7 125.0 251.8 99.5 237.9 218.7 167.6 149.5 169.1 90.7 243.7 135.4 258.8 154.5 230.7 136.6 250.2 127.3 251.1 98.1 228.0 109.7 236.7 99.7 248.3 95.9 254.7 135.2 246.7 173.9 217.6 142.0 254.5 110.2 217.2 131.8 213.9 102.2 241.2 102.1 242.7 102.3 257.0 108.1 253.3 122.3 192.3 93.0 226.2 104.9 225.0 120.8 235.9 115.6 235.2 141.6 223.0 88.7 257.9 93.0 221.4 109.8 229.6 115.0 210.7 98.6 226.4 92.2 255.0 103.9 275.9 90.1 232.6 102.3 236.7 140.9 264.1 91.3 264.2 259.5 200.3 97.0 236.6 133.7 236.7 141.4 231.0 90.0 226.9 92.9 226.5 205.6 146.3 144.4 229.2 110.8 240.5 202.5 200.9 142.1 242.8 116.8 251.7 160.4 145.3 113.1 227.1 105.9 235.4 147.7 226.7 96.3 230.2 100.9 243.1 93.7 249.2 99.2 237.7 124.3 233.8 90.1 271.9 92.7 242.5 121.4 213.1 129.1 256.8 106.4 248.8 141.5 236.6 86.0 263.5 135.5 238.4 153.8 178.8 88.6 250.0 96.1 221.5 125.0 194.7 127.9 241.1 86.7 240.4 107.1 247.2 89.3 272.7 90.5 230.0 96.1 250.7 193.2 183.4 116.9 237.7 89.6 265.1 142.6 252.9 118.8 240.9 99.9 251.0 124.3 241.3 98.6 230.6 108.5 230.5 147.4 202.6 175.1 202.8 107.1 237.9 89.3 243.4 117.2 252.1 98.8 256.0 103.6 223.1 94.2 246.7 86.5 243.2 169.3 208.6 112.6 223.8 127.3 234.9 88.2 261.4 139.4 259.3 154.9 204.1 100.2 252.4 103.4 236.1 158.2 194.6 85.9 242.3 102.7 269.5 119.4 251.4 101.0 254.3 117.1 267.9 104.6 220.6 95.0 255.0 146.7 231.3 118.2 259.8 97.6 269.6 105.7 228.9 95.7 245.4 100.6 225.5 165.4 201.3 193.5 198.8 98.2 254.9 130.8 228.4 101.6 243.6 131.3 262.5 106.2 261.9 131.0 206.8 97.7 276.3 115.7 204.7 128.4 246.3 122.1 216.8 138.9 234.6 95.1 261.3 105.3 239.9 88.5 256.0 91.7 249.9 90.8 219.4 103.4 202.9 122.2 232.0 88.4 257.2 104.3 248.3 124.9 244.7 96.7 237.8 139.5 224.4 88.9 256.3 131.9 192.6 93.3 257.7 152.3 214.3 126.0 245.5 104.4 232.4 86.4 266.4 87.8 260.0 127.5 248.8 97.1 228.9 87.5 236.3 100.4 234.1 94.7 249.1 107.2 228.1 105.1 238.1 93.2 239.7 118.0 262.5 115.5 253.8 118.5 230.8 114.3 235.4 142.9 212.2 105.8 235.0 87.4 225.8 122.2 223.7 92.9 259.7 103.8 241.8 120.0 218.5 210.4 191.1 121.4 250.1 100.0 269.9 113.9 227.7 111.7 241.6 96.6 259.3 100.0 234.5 87.2 264.1 107.7 231.4 135.9 226.5 86.2 261.5 122.7 241.9 102.6 217.0 112.3 236.1 101.9 247.7 135.3 242.9 86.1 227.6 102.9 261.7 139.1 199.4 85.9 232.3 121.4 263.0 141.1 220.2 121.0 236.5 135.6 190.7 89.5 236.4 86.0 261.4 110.3 244.6 90.8 239.1 108.5 247.1 143.3 206.9 107.9 224.3 87.4 255.9 159.1 157.1 134.9 216.4 103.2 231.0 88.8 273.0 98.6 229.3 92.3 236.1 104.6 262.6 99.0 248.1 88.5 248.4 88.4 247.3 104.3 247.3 131.6 202.2 98.3 258.0 126.7 225.0 140.0 228.6 102.7 251.7 107.2 235.5 168.1 138.4 111.7 229.9 117.6 235.9 90.5 248.5 87.7 244.2 112.7 231.3 88.9 244.3 97.7 230.5 131.4 266.9 120.9 205.4 92.4 249.6 139.4 208.7 92.5 264.5 88.6 226.5 94.2 251.9 152.9 221.6 102.8 233.3 109.7 225.8 106.8 241.1 123.8 248.8 104.9 228.6 121.0 257.2 125.1 226.9 127.4 250.5 182.3 176.3 121.7 255.6 117.3 204.2 105.3 223.1 96.2 236.4 97.7 258.1 95.6 247.4 104.6 254.2 101.3 240.1 95.8 241.3 93.5 245.2 153.2 190.9 101.0 232.7 108.5 225.8 154.2 179.1 146.1 259.4 90.9 270.0 128.4 193.6 103.0 241.5 97.5 241.8 91.8 245.8 107.3 222.7 98.8 213.4 111.9 247.7 126.1 208.2 146.2 224.1 102.2 230.4 221.5 112.9 136.1 180.2 90.5 235.0 132.9 262.5 106.1 251.3 93.9 248.6 103.4 257.8 90.8 239.7 164.2 184.1 144.2 206.0 106.4 249.2 98.7 246.5 101.8 232.4 119.9 248.6 104.9 268.3 99.5 260.3 91.7 263.5 141.1 233.5 170.7 216.0 111.7 227.8 97.1 258.4 154.5 184.8 121.5 210.4 129.7 255.6 85.9 236.7 87.3 232.4 111.6 240.4 124.3 206.9 128.3 233.4 110.9 240.3 122.1 233.1 111.0 226.1 111.4 213.5 112.6 235.1 98.8 256.5 99.8 234.3 94.2 247.5 89.1 241.3 121.5 238.2 131.5 173.7 88.4 257.3 115.4 278.8 130.3 244.5 105.2 241.0 142.1 194.2 138.3 251.6 90.3 255.1 99.3 268.5 147.3 212.4 135.8 232.0 112.9 254.6 142.6 213.6 89.4 246.7 100.6 250.6 102.9 241.9 104.9 249.0 114.1 235.1 118.5 271.0 105.7 242.0 97.3 228.1 97.5 239.2 119.0 226.1 88.5 247.8 141.6 207.4 195.3 214.7 183.6 160.0 117.8 240.5 100.9 256.2 88.3 252.2 86.3 231.6 123.5 255.3 142.7 202.9 97.5 235.9 98.2 250.0 135.7 256.6 97.0 234.7 115.3 261.4 123.6 229.0 95.9 260.8 95.8 266.6 117.2 214.5 87.2 242.6 108.9 199.5 153.5 259.1 129.8 224.9 94.3 243.7 132.1 259.9 92.4 245.2 86.4 230.7 91.9 247.4 107.9 242.7 86.4 254.2 102.9 269.4 125.9 261.0 107.2 254.0 181.9 204.6 90.9 273.4 90.0 243.6 98.8 241.4 108.2 240.2 99.3 251.8 159.0 180.0 115.4 277.2 113.3 238.4 111.1 247.4 124.4 252.4 135.1 248.3 97.0 231.1 87.3 240.4 88.1 243.2 145.0 260.4 110.1 250.1 132.7 217.0 154.1 252.0 93.4 225.4 94.6 274.6 97.6 238.1 86.3 263.2 128.0 203.7 126.8 224.8 100.2 259.4 111.2 227.8 116.7 221.9 120.6 221.2 115.8 235.6 86.3 247.7 102.9 236.3 102.2 231.0 140.3 241.5 119.4 214.1 102.8 240.4 101.2 249.0 114.7 254.4 89.3 250.5 111.9 232.8 174.3 149.0 144.7 193.1 140.9 261.3 86.3 240.1 90.4 255.3 116.4 215.1 98.8 242.1 93.7 224.3" fill="none" stroke="none" marker-start="url(#mx)" marker-mid="url(#mx)" marker-end="url(#mx)"/></g><path d="M92.69 301.00V8.00" stroke="#606060" stroke-width="1.1" stroke-dasharray="3.65 2.175" fill="none"/><path d="M45.50 123.90H517.00" stroke="#606060" stroke-width="1.1" stroke-dasharray="3.85 1.9" stroke-dashoffset="-0.4" fill="none"/><g filter="url(#bl)"><path d="M229.5 214.0 197.4 234.9 233.0 239.7 247.9 243.9 188.9 236.8 200.5 237.3 250.5 235.7 226.2 241.1 260.4 230.1 273.2 232.2 237.2 238.0 261.3 221.7 185.3 244.6 267.8 231.5 249.2 247.5 242.5 245.6" fill="none" stroke="none" marker-start="url(#t13)" marker-mid="url(#t13)" marker-end="url(#t13)"/><path d="M400.3 209.4 427.7 233.7" fill="none" stroke="none" marker-start="url(#t17)" marker-mid="url(#t17)" marker-end="url(#t17)"/><path d="M115.5 253.0 112.0 248.0 121.1 243.1 99.8 233.8 101.3 240.9 99.0 253.6 131.4 241.4" fill="none" stroke="none" marker-start="url(#tm1)" marker-mid="url(#tm1)" marker-end="url(#tm1)"/><path d="M113.3 239.9 120.8 245.3 131.0 240.2 112.9 236.7 92.9 253.9 87.7 233.0 96.2 248.8 115.0 237.9 108.2 230.3 170.6 235.1 138.7 240.8 172.2 214.1 118.1 239.3 184.1 216.3 93.8 241.0 93.9 243.0 87.7 241.3 123.3 243.0 107.8 244.6 100.6 248.5 195.9 237.2 116.5 240.4 106.3 241.7 122.0 236.4 136.6 229.2 93.4 243.1 127.3 249.2 87.7 239.3 90.3 237.5 129.8 257.8 126.0 245.7 125.2 231.4 91.2 238.5 150.9 226.2 116.7 221.9 127.4 235.3 157.7 241.0" fill="none" stroke="none" marker-start="url(#t7)" marker-mid="url(#t7)" marker-end="url(#t7)"/><path d="M327.1 248.9 380.0 168.9" fill="none" stroke="none" marker-start="url(#t16)" marker-mid="url(#t16)" marker-end="url(#t16)"/><path d="M428.2 231.6 467.3 229.1" fill="none" stroke="none" marker-start="url(#t19)" marker-mid="url(#t19)" marker-end="url(#t19)"/><path d="M98.5 242.8 113.1 241.4 98.6 239.5 87.2 232.8" fill="none" stroke="none" marker-start="url(#t3)" marker-mid="url(#t3)" marker-end="url(#t3)"/><path d="M99.3 224.7 105.8 266.8 115.4 237.6 100.4 238.7 150.5 212.8 96.7 246.1 102.8 236.3 97.7 244.2 95.5 242.8 93.8 239.1 154.9 221.2 174.8 236.7 125.7 242.9 89.8 240.2 93.5 238.1 107.2 242.3" fill="none" stroke="none" marker-start="url(#t5)" marker-mid="url(#t5)" marker-end="url(#t5)"/><path d="M109.1 251.8 86.6 235.5 93.1 243.8 107.1 245.5 110.6 238.4 85.9 247.5 96.7 224.0 112.5 245.1" fill="none" stroke="none" marker-start="url(#t4)" marker-mid="url(#t4)" marker-end="url(#t4)"/><path d="M139.7 240.2 139.3 239.2 189.2 243.0 246.0 242.5 199.8 246.0 213.5 232.7 140.9 240.3 187.0 220.0 163.9 224.7 190.4 239.7 127.1 237.4 180.7 234.0 225.6 240.5 132.0 247.4 153.0 240.5 233.6 229.6 239.2 233.3 169.8 236.7 143.9 251.3 123.6 250.2 187.1 256.4 167.9 245.5 139.1 243.2 143.6 237.0 163.3 243.1 173.8 247.4 126.4 237.2 183.6 235.0 178.1 223.5 149.6 241.7 211.3 242.3 173.1 240.8 179.2 240.5 217.5 233.1 178.5 241.4 222.4 237.4 179.5 238.0 152.6 235.7" fill="none" stroke="none" marker-start="url(#t10)" marker-mid="url(#t10)" marker-end="url(#t10)"/><path d="M230.5 177.5 216.6 242.0 280.0 239.9 312.6 235.6 292.1 202.7 220.8 178.3 235.0 227.9 310.5 227.7 225.2 235.5 334.0 242.2 257.6 246.3 227.9 243.9 255.2 239.6 204.2 239.5" fill="none" stroke="none" marker-start="url(#t14)" marker-mid="url(#t14)" marker-end="url(#t14)"/><path d="M488.5 193.7" fill="none" stroke="none" marker-start="url(#t20)" marker-mid="url(#t20)" marker-end="url(#t20)"/><path d="M155.0 246.6 105.7 242.2 138.3 246.2 151.0 250.1 140.7 245.2 90.0 240.3 98.5 240.1 162.0 232.8 135.0 244.7 161.9 237.8 108.2 239.1 125.5 245.5 97.1 241.8 107.7 233.1 122.0 270.0 135.7 239.0 168.6 248.3 111.2 241.6 179.5 242.7 129.2 242.1 88.7 234.0 127.1 243.2 98.9 264.3 133.1 237.8 208.1 247.9 132.1 236.7 120.3 239.0 151.1 237.7 132.6 241.8 157.1 247.5 96.4 242.2 141.6 234.0 148.2 242.8 234.5 243.8 133.2 240.2 125.5 249.1 126.9 233.8 145.6 254.5 166.9 213.6 120.0 255.1 102.7 267.7" fill="none" stroke="none" marker-start="url(#t8)" marker-mid="url(#t8)" marker-end="url(#t8)"/><path d="M224.2 220.4 282.8 238.6 200.6 245.0 240.5 236.0 170.4 241.8 157.4 245.3 258.2 228.6 277.9 234.6 221.8 238.2 141.1 226.7 174.2 235.3 201.6 231.1 261.8 176.6 264.7 243.6 288.2 263.6 224.0 234.8 211.4 241.4 242.3 238.3 199.2 261.1 274.6 243.0 205.8 252.4" fill="none" stroke="none" marker-start="url(#t12)" marker-mid="url(#t12)" marker-end="url(#t12)"/><path d="M134.7 230.8 144.4 244.9 170.0 220.9 142.0 239.5 191.3 237.6 136.7 244.5 156.2 241.9 127.1 247.2 188.3 240.6 152.4 239.8 209.5 250.2 127.2 261.7 162.2 231.9 257.0 230.6 142.5 246.7 171.8 229.5 137.6 244.9 100.1 246.9 92.5 237.3 166.3 236.5 124.3 208.8 158.3 233.1 149.0 242.0 167.3 250.8 255.6 257.1 119.4 251.1 106.2 236.5 140.7 236.8 156.4 242.9 178.1 198.8 161.5 219.0 213.9 240.8 133.1 225.6 181.9 234.6 95.6 249.1 171.8 252.0 98.7 251.8 185.7 237.8 124.4 247.9 162.8 232.5 146.7 243.5 174.0 231.4" fill="none" stroke="none" marker-start="url(#t9)" marker-mid="url(#t9)" marker-end="url(#t9)"/><path d="M237.6 233.1 231.9 231.5 254.8 232.4 219.3 235.2 253.4 241.1 172.0 238.8 216.4 232.1 119.9 246.2 220.0 258.5 188.4 243.4 186.1 237.2 144.4 240.2 170.2 229.0 179.6 254.9 165.1 232.9 137.8 234.2 157.7 235.4 192.5 242.8 236.3 225.3 276.2 241.9 180.9 242.5 252.2 238.0 233.7 251.3 215.9 205.9 144.1 260.6 199.3 253.4 190.0 250.5 151.6 237.4 182.4 239.1 249.7 243.8 132.6 254.2 187.1 219.5 192.2 243.9 158.6 236.9 296.8 230.3 200.0 234.9 231.0 240.3 199.7 206.3 175.2 234.3 203.9 237.1 240.6 238.7 192.4 246.0" fill="none" stroke="none" marker-start="url(#t11)" marker-mid="url(#t11)" marker-end="url(#t11)"/><path d="M228.6 230.3 311.6 230.2 292.3 233.8 241.3 234.8 336.7 183.3" fill="none" stroke="none" marker-start="url(#t15)" marker-mid="url(#t15)" marker-end="url(#t15)"/><path d="M123.4 246.6 100.7 232.4 98.9 245.2 121.8 244.4 112.0 242.8 102.4 236.1 96.3 245.4 126.4 235.8 109.9 243.8 96.2 233.7 116.7 233.4 118.7 256.9 107.2 247.6 87.0 237.0 101.4 239.0 134.9 232.2 96.3 249.8 102.3 249.4 129.0 230.6 117.8 248.8 94.8 246.3 124.9 245.9 104.7 231.3 88.1 235.5 89.5 236.3 101.0 247.1 88.2 232.5 113.2 255.3 143.7 245.7 97.0 240.4" fill="none" stroke="none" marker-start="url(#t6)" marker-mid="url(#t6)" marker-end="url(#t6)"/><path d="M117.0 245.4 132.9 240.4 104.8 239.8 151.3 238.1 130.7 237.3 99.2 251.7 104.5 243.0 102.0 252.9 107.4 235.4 97.4 233.3 176.1 210.3 90.9 253.8 137.2 249.4 117.0 243.1 168.1 235.2 127.7 243.2 113.5 240.9 93.5 250.0 88.8 237.9 141.1 227.4 134.4 253.4 152.6 234.9 142.5 233.2 114.1 257.7 100.4 246.7 136.0 260.3 100.7 244.1 119.2 234.5 157.8 237.3 148.3 236.9 139.6 233.9 167.0 246.4 182.8 245.3 117.8 233.8 104.0 251.6 124.6 211.3 168.9 239.5 157.9 243.8 110.3 253.2 163.7 233.6" fill="none" stroke="none" marker-start="url(#t8)" marker-mid="url(#t8)" marker-end="url(#t8)"/><path d="M121.1 232.3" fill="none" stroke="none" marker-start="url(#t2)" marker-mid="url(#t2)" marker-end="url(#t2)"/><path d="M348.1 192.8 339.6 235.6 359.1 230.3 263.1 233.4 339.6 218.6 380.2 235.9" fill="none" stroke="none" marker-start="url(#t16)" marker-mid="url(#t16)" marker-end="url(#t16)"/><path d="M228.7 233.4 201.7 231.1 195.9 237.5 142.8 243.2 205.1 261.0 168.9 244.6 213.2 232.1 95.5 238.9 200.0 234.9 146.1 245.6 237.5 230.0 179.2 212.1 169.7 229.3 156.7 248.2 224.5 233.1 220.2 247.7 154.5 238.4 196.2 242.8 217.3 240.7 202.5 234.4 161.5 241.3 177.2 242.8 196.4 242.0 151.4 245.3 242.8 244.9 177.9 235.9 248.4 227.8" fill="none" stroke="none" marker-start="url(#t11)" marker-mid="url(#t11)" marker-end="url(#t11)"/><path d="M259.6 237.1 220.1 235.8 239.5 238.9 177.4 229.0 247.4 231.8 232.8 230.6 175.4 245.4 238.7 263.1 269.7 235.3 260.6 250.3 189.2 244.6 164.3 236.2 238.4 193.4 245.6 240.6 244.0 230.8 264.4 228.0 157.6 238.3 189.0 243.0 255.1 237.9 199.5 227.6 287.1 255.8 228.6 234.1 223.5 243.5 221.4 246.2" fill="none" stroke="none" marker-start="url(#t12)" marker-mid="url(#t12)" marker-end="url(#t12)"/><path d="M90.7 242.4 117.2 244.9 96.7 244.0 135.8 251.2 110.7 240.1 131.7 246.1 93.1 240.4 101.4 248.7 115.3 239.4 122.7 243.8 93.5 236.1 100.2 238.2 120.3 255.4 88.3 236.5 88.5 246.3 126.4 241.8 100.7 237.2 102.1 237.9 91.8 250.1 97.4 239.9 87.0 236.9 107.2 234.4 101.1 233.9 100.2 261.5 130.5 236.3 103.5 234.4 91.8 234.9" fill="none" stroke="none" marker-start="url(#t6)" marker-mid="url(#t6)" marker-end="url(#t6)"/><path d="M301.8 239.1 278.5 236.2 204.9 241.4 220.3 245.4 182.5 245.8 201.6 239.0 242.6 247.5 305.3 218.6 313.0 215.3 234.0 242.5 285.1 225.2 312.2 238.1 364.7 211.4 299.5 185.8" fill="none" stroke="none" marker-start="url(#t14)" marker-mid="url(#t14)" marker-end="url(#t14)"/><path d="M136.9 230.5 110.3 248.8 123.2 253.0 109.2 262.4 93.5 245.6 105.0 236.0 95.1 236.8 91.8 249.3 92.8 233.0 104.3 245.9" fill="none" stroke="none" marker-start="url(#tm1)" marker-mid="url(#tm1)" marker-end="url(#tm1)"/><path d="M231.8 244.9 354.3 230.9 278.8 236.2 330.8 164.0 200.3 250.4 333.3 238.1 345.2 206.3 286.2 239.5 290.1 238.6" fill="none" stroke="none" marker-start="url(#t15)" marker-mid="url(#t15)" marker-end="url(#t15)"/><path d="M102.3 252.6 88.4 240.3 87.0 238.4 89.8 229.8 91.3 253.4 98.8 249.9 97.9 244.0 90.0 237.5 96.0 244.2 89.0 225.8 96.8 239.7 113.0 234.8 104.4 244.4" fill="none" stroke="none" marker-start="url(#t4)" marker-mid="url(#t4)" marker-end="url(#t4)"/><path d="M172.4 236.8 169.9 231.4 171.7 243.6 93.1 237.2 156.7 239.0 168.3 241.6 161.8 245.3 118.8 240.0 138.1 230.4 233.7 237.1 245.4 220.6 115.4 245.8 162.2 230.8 126.7 261.4 167.8 240.7 195.8 240.0 163.4 258.1 108.0 268.2 158.4 245.8 254.2 243.7 199.0 244.2 205.0 234.6 226.5 229.6 186.7 245.0 173.5 245.5 104.1 233.3 154.9 231.6 118.6 266.7 149.5 236.4 164.2 253.7 166.4 241.4 189.6 247.1 204.5 235.3 174.9 240.8 200.9 249.6 121.7 231.8 211.1 181.0" fill="none" stroke="none" marker-start="url(#t10)" marker-mid="url(#t10)" marker-end="url(#t10)"/><path d="M110.9 231.6 109.3 242.1 90.8 249.9 123.6 244.9 94.3 251.7 86.6 236.3 119.6 247.4 167.0 236.4 140.3 242.4 159.7 247.6 143.8 249.5 85.9 243.7 125.7 246.1 123.8 243.9 107.4 238.0 91.9 246.6 148.0 252.6 121.9 252.3 170.5 223.9 90.8 254.6 92.6 246.8 87.7 236.2 98.3 252.2 115.3 253.2 97.2 228.8 104.4 247.4 132.5 232.2 122.0 244.0 99.4 240.9 87.9 244.2 99.9 241.3 98.2 246.1 114.6 236.3 128.7 227.1 116.5 238.0" fill="none" stroke="none" marker-start="url(#t7)" marker-mid="url(#t7)" marker-end="url(#t7)"/><path d="M142.2 239.8 151.9 236.4 201.5 234.1 157.4 235.6 239.3 247.4 179.1 247.6 174.7 232.3 151.0 252.9 154.8 243.6 176.1 233.5 236.1 238.0 131.8 237.0 127.7 245.7 147.8 239.2 153.5 237.8 177.8 244.7 158.4 245.8 86.4 247.2 148.7 241.0 193.5 240.4 171.1 236.2 186.6 203.6 175.6 244.1 189.4 242.7 179.7 234.7 143.7 249.8 163.1 209.0 157.9 234.9 175.2 246.0 171.4 240.7 110.6 243.1 146.8 240.1 141.2 248.9 140.1 227.5 202.7 210.9 181.3 204.7 178.0 241.6 115.0 243.2 214.3 238.3 85.9 247.8 153.4 243.9 154.8 229.1" fill="none" stroke="none" marker-start="url(#t9)" marker-mid="url(#t9)" marker-end="url(#t9)"/><path d="M425.1 230.2 389.5 219.7" fill="none" stroke="none" marker-start="url(#t17)" marker-mid="url(#t17)" marker-end="url(#t17)"/><path d="M87.5 248.4 115.7 251.3 114.6 237.8 90.7 246.1 145.2 232.6 96.7 244.2 132.4 240.0 128.9 253.8 95.0 236.5 126.2 235.6 90.6 254.0 127.6 240.8 100.3 246.7 103.5 240.5 153.4 259.6 101.6 247.5 89.2 243.4 98.2 234.3 90.9 237.0 86.5 242.7 106.9 246.6 121.1 242.4" fill="none" stroke="none" marker-start="url(#t5)" marker-mid="url(#t5)" marker-end="url(#t5)"/><path d="M251.0 234.5 228.5 239.9 303.3 234.4 191.6 257.1 170.9 232.7 274.5 233.6 249.8 233.2 244.2 229.9 255.3 200.3 224.4 234.0 279.4 220.5 264.9 245.4 223.5 194.2 215.5 236.5 145.8 249.8 224.8 239.3 189.1 232.4 234.7 231.6 239.0 237.8" fill="none" stroke="none" marker-start="url(#t13)" marker-mid="url(#t13)" marker-end="url(#t13)"/><path d="M236.7 265.8 246.3 219.4 217.7 234.1 255.2 232.0 251.0 227.7 192.0 228.4 171.3 243.3 215.1 247.2 198.7 240.8 238.7 232.6 273.1 222.0 233.5 243.0 264.2 220.5 210.1 223.3 193.6 216.3 292.1 176.4 264.8 216.6 245.7 229.0" fill="none" stroke="none" marker-start="url(#t13)" marker-mid="url(#t13)" marker-end="url(#t13)"/><path d="M187.0 242.4 217.2 237.4 150.7 262.2 287.1 261.9 260.8 236.0 193.3 229.1 263.8 227.6 174.1 248.5 237.1 240.7 187.6 239.2 279.5 243.9 245.7 233.9 217.4 238.5 199.4 236.7 256.4 241.8 214.7 230.1 216.2 238.5 250.6 242.9 258.3 231.1 259.3 233.1 265.4 209.0 180.5 249.6" fill="none" stroke="none" marker-start="url(#t12)" marker-mid="url(#t12)" marker-end="url(#t12)"/><path d="M340.6 234.4 334.8 217.8 397.4 228.4 250.8 231.1 314.7 234.8" fill="none" stroke="none" marker-start="url(#t16)" marker-mid="url(#t16)" marker-end="url(#t16)"/><path d="M116.4 243.1 105.0 238.2 108.3 233.4 112.8 239.4 118.0 235.8 97.9 253.3 88.1 251.3 100.6 226.7 115.9 240.8 127.4 243.3 95.1 250.5 90.7 235.1 104.5 250.0 89.5 246.1 107.7 237.6 85.9 240.3 104.3 243.5 99.2 252.3 112.2 245.4 123.2 250.4 95.6 240.2 131.4 237.5 100.9 244.0 112.9 243.7 106.7 239.9 94.8 236.3 90.6 246.6 89.4 233.0 115.3 239.1 111.1 243.0 128.7 237.5 93.6 238.8 89.5 251.8" fill="none" stroke="none" marker-start="url(#t5)" marker-mid="url(#t5)" marker-end="url(#t5)"/><path d="M134.0 239.1 144.1 245.9 100.8 238.0 93.3 249.1 150.4 244.3 180.9 235.2 118.8 241.3 120.7 233.9 120.2 240.7 87.6 271.6 122.5 239.5 152.0 256.2 122.2 241.2 86.4 247.6 174.1 239.0 93.4 249.8 129.0 231.5 94.4 235.1 110.0 240.8 107.9 249.5 117.4 231.7 151.4 237.9 113.1 240.4 86.3 244.9 120.4 236.1 228.1 165.3 227.1 240.5 146.1 247.6 162.4 229.3 108.6 249.6 173.6 210.3 116.5 235.2 120.9 236.7 95.4 244.8 135.8 244.4 125.6 238.5 159.4 244.1 132.8 237.1 125.5 241.9" fill="none" stroke="none" marker-start="url(#t8)" marker-mid="url(#t8)" marker-end="url(#t8)"/><path d="M95.5 250.0 111.1 237.2 125.9 261.0 92.9 239.5 111.9 240.9 122.1 245.6 92.6 245.8 167.2 235.5 98.6 246.7 86.1 244.1 103.2 236.7 123.0 230.6 95.1 240.6 176.5 238.7 172.1 245.4 87.5 240.4 86.2 250.4 115.3 255.1 120.2 243.9 112.1 240.5 109.0 236.6 106.2 234.6 114.5 235.1 120.4 236.9 113.4 240.7 150.0 231.6 142.4 236.2 115.8 239.6 113.1 242.8 197.9 233.3 120.0 234.2 90.0 239.1 142.3 242.4 148.6 238.6 103.3 244.5 118.5 224.0 88.5 238.9 104.1 241.7 110.4 237.8" fill="none" stroke="none" marker-start="url(#t7)" marker-mid="url(#t7)" marker-end="url(#t7)"/><path d="M424.2 211.9" fill="none" stroke="none" marker-start="url(#t18)" marker-mid="url(#t18)" marker-end="url(#t18)"/><path d="M173.0 192.5 157.5 240.1 172.7 231.3 126.2 241.8 178.2 234.9 150.7 240.1 137.1 235.5 144.9 239.1 128.1 245.3 163.2 249.2 157.1 247.6 129.6 245.2 162.2 232.0 94.4 239.7 186.0 237.1 107.7 241.9 159.2 245.0 121.3 249.7 164.9 234.7 151.7 251.3 153.3 247.9 189.2 232.3 138.2 251.2 146.5 252.4 92.1 237.0 239.3 243.5 262.0 234.1 133.4 242.0 161.2 244.9 196.6 204.7 155.3 233.0 190.0 236.6 161.5 239.7 179.3 252.3 212.3 237.9 163.6 230.3 123.7 246.5 266.5 232.5 264.9 246.4 221.9 248.0 195.8 240.3 140.0 225.6" fill="none" stroke="none" marker-start="url(#t10)" marker-mid="url(#t10)" marker-end="url(#t10)"/><path d="M466.5 223.1" fill="none" stroke="none" marker-start="url(#t20)" marker-mid="url(#t20)" marker-end="url(#t20)"/><path d="M220.9 239.9 256.3 229.1 274.8 234.3 317.2 240.6 242.0 238.8 338.5 196.2 248.4 235.2" fill="none" stroke="none" marker-start="url(#t15)" marker-mid="url(#t15)" marker-end="url(#t15)"/><path d="M88.9 239.2 104.8 251.1 89.8 250.9 91.5 254.8 97.2 242.2 115.2 240.4 101.3 244.7 98.8 245.8 105.8 242.7" fill="none" stroke="none" marker-start="url(#t4)" marker-mid="url(#t4)" marker-end="url(#t4)"/><path d="M110.1 234.9 108.3 230.1" fill="none" stroke="none" marker-start="url(#t3)" marker-mid="url(#t3)" marker-end="url(#t3)"/><path d="M207.6 236.4 170.3 250.9 214.6 234.2 154.6 232.4 192.4 247.8 233.5 238.9 90.0 245.8 198.4 235.2 192.2 237.3 222.5 258.4 178.2 242.4 189.0 244.8 201.8 247.6 158.3 235.9 169.3 232.4 128.5 239.5 229.9 246.1 177.8 234.3 152.6 189.1 149.5 246.1 249.3 232.4 187.7 231.3 215.8 244.5 193.2 186.7 189.6 229.3 169.4 209.4 165.9 233.5 193.0 229.4 164.4 237.8 175.1 237.7" fill="none" stroke="none" marker-start="url(#t11)" marker-mid="url(#t11)" marker-end="url(#t11)"/><path d="M105.7 242.9" fill="none" stroke="none" marker-start="url(#t2)" marker-mid="url(#t2)" marker-end="url(#t2)"/><path d="M282.2 168.4 216.6 232.3 290.6 231.0 274.4 233.7 244.0 238.5 285.1 243.6 260.6 236.7 373.0 225.9 281.8 212.8 230.7 233.4 245.5 238.2 274.3 245.8 289.5 231.4" fill="none" stroke="none" marker-start="url(#t14)" marker-mid="url(#t14)" marker-end="url(#t14)"/><path d="M150.9 236.8 145.4 251.7 107.1 225.7 246.0 252.8 147.6 234.0 153.4 236.6 91.0 248.0 138.3 272.9 169.4 255.6 206.4 242.8 185.1 244.4 123.1 247.7 149.2 254.1 133.9 261.8 146.5 233.1 116.7 233.4 166.2 246.2 90.9 234.1 172.4 248.6 170.9 243.8 205.2 230.0 111.1 234.6 162.0 238.0 175.9 244.2 153.3 237.4 145.6 234.5 172.0 243.0 213.1 191.9 142.6 240.8 189.8 232.8 108.4 246.9 126.8 239.6 114.6 238.7 153.8 248.6 176.9 221.7" fill="none" stroke="none" marker-start="url(#t9)" marker-mid="url(#t9)" marker-end="url(#t9)"/><path d="M358.5 214.1" fill="none" stroke="none" marker-start="url(#t17)" marker-mid="url(#t17)" marker-end="url(#t17)"/><path d="M125.7 236.3 122.0 240.3 108.3 247.8 124.0 246.6" fill="none" stroke="none" marker-start="url(#tm1)" marker-mid="url(#tm1)" marker-end="url(#tm1)"/><path d="M113.3 240.6 162.2 246.0 103.0 239.4 93.4 231.7 91.1 250.4 159.0 216.3 92.2 236.9 90.3 244.7 90.9 250.3 111.3 232.9 132.9 256.2 107.7 239.0 128.8 236.8 121.9 240.3 112.0 238.1 108.8 247.2 90.5 247.5 92.5 247.4 119.6 246.8 131.2 243.3 105.7 230.0 102.8 235.2 112.4 234.0 114.9 229.4 94.6 249.7 114.7 242.9" fill="none" stroke="none" marker-start="url(#t6)" marker-mid="url(#t6)" marker-end="url(#t6)"/><path d="M101.4 238.0 129.3 228.8 87.3 234.6 88.0 241.6 100.6 236.7 91.0 241.3" fill="none" stroke="none" marker-start="url(#t3)" marker-mid="url(#t3)" marker-end="url(#t3)"/><path d="M186.5 233.2 224.2 232.5 272.3 231.9 180.4 239.2 165.2 236.7 163.3 244.6 169.0 244.6 229.8 234.1 203.3 236.1 221.7 233.8 134.9 241.2 254.0 229.1 207.8 243.0 263.2 249.7 221.8 235.4 137.2 247.0 215.7 235.4 192.6 241.3 171.4 242.2 173.2 238.9 181.7 259.2 193.1 234.0 188.5 239.9 139.0 238.5 152.0 254.7 205.3 239.4 212.9 242.3 225.0 235.3 204.3 241.3 201.3 245.6 165.8 227.0 231.6 258.2 202.6 235.1 292.5 244.2 161.4 235.0 203.5 233.9 274.9 232.4" fill="none" stroke="none" marker-start="url(#t11)" marker-mid="url(#t11)" marker-end="url(#t11)"/><path d="M130.6 281.0 117.4 234.2 103.2 233.3 152.9 241.8 99.1 239.9 108.0 237.3 117.4 244.6 92.1 246.8 106.7 235.0 121.1 250.1 108.3 241.8 91.4 224.9 114.3 231.7 101.8 241.3 92.1 245.8 151.0 235.8 105.7 235.2 97.1 234.5 144.7 240.0 110.7 236.4 112.4 236.6 102.4 234.5 102.9 235.5 120.9 214.0 113.5 247.7 110.2 243.4 92.5 244.7 89.7 245.0 89.5 239.5 87.4 249.7 109.0 231.7 104.8 253.2 112.6 265.8 86.9 249.7" fill="none" stroke="none" marker-start="url(#t6)" marker-mid="url(#t6)" marker-end="url(#t6)"/><path d="M89.5 245.4" fill="none" stroke="none" marker-start="url(#t2)" marker-mid="url(#t2)" marker-end="url(#t2)"/><path d="M89.1 255.2 102.5 240.5 99.1 245.2 96.1 246.7 87.7 242.9 86.2 241.9" fill="none" stroke="none" marker-start="url(#t4)" marker-mid="url(#t4)" marker-end="url(#t4)"/><path d="M442.9 200.8" fill="none" stroke="none" marker-start="url(#t18)" marker-mid="url(#t18)" marker-end="url(#t18)"/><path d="M164.6 235.0 120.3 250.2 135.1 260.4 115.9 244.0 103.4 233.4 175.8 239.2 93.1 245.8 91.6 248.1 131.1 245.1 144.8 259.5 102.6 250.2 111.9 252.6 113.4 236.8 93.3 227.3 139.1 230.9 97.8 246.4 133.3 238.4 138.2 234.6 92.1 239.9 106.3 237.3 96.4 233.4 106.1 247.6 91.8 243.7 162.1 240.8 106.1 245.7 105.6 246.8 143.5 236.5 119.6 237.7 113.9 232.7 96.2 242.8 126.2 247.5 96.0 246.4 96.4 235.7 102.4 255.2 107.0 257.8 121.6 243.6" fill="none" stroke="none" marker-start="url(#t7)" marker-mid="url(#t7)" marker-end="url(#t7)"/><path d="M131.6 233.5 121.7 237.1 104.3 231.5 107.4 249.5 171.9 229.9 102.4 239.2 190.2 242.5 235.6 223.7 135.3 236.5 169.5 247.4 153.5 233.2 152.5 244.6 163.7 240.0 146.8 240.7 181.5 221.9 154.1 243.9 132.4 243.6 219.3 236.4 104.8 237.1 137.7 243.2 122.9 252.1 267.1 232.1 190.5 237.2 129.5 229.4 86.0 236.3 178.1 235.1 99.5 239.7 117.8 240.0 99.4 233.2 101.5 241.5 134.5 255.5 102.1 246.0 214.2 243.0 150.2 246.7 98.6 249.6 136.5 245.1 186.8 241.8 170.3 242.5 153.2 248.8 132.3 252.4" fill="none" stroke="none" marker-start="url(#t9)" marker-mid="url(#t9)" marker-end="url(#t9)"/><path d="M405.8 231.0" fill="none" stroke="none" marker-start="url(#t17)" marker-mid="url(#t17)" marker-end="url(#t17)"/><path d="M317.8 189.8 310.5 239.1 235.7 242.4 201.2 245.7 245.8 235.7 293.2 217.3" fill="none" stroke="none" marker-start="url(#t15)" marker-mid="url(#t15)" marker-end="url(#t15)"/><path d="M263.6 234.2 343.2 130.4 354.6 140.8 316.3 230.8" fill="none" stroke="none" marker-start="url(#t16)" marker-mid="url(#t16)" marker-end="url(#t16)"/><path d="M102.1 242.7 91.9 241.9 92.3 248.4 105.9 247.9 119.5 248.3 87.2 243.3 87.7 243.6 92.2 243.8 104.7 223.5 102.4 242.7 97.7 245.2 86.8 243.8 93.5 248.2 87.4 247.1 101.3 253.8 97.4 242.6 87.9 248.1" fill="none" stroke="none" marker-start="url(#t5)" marker-mid="url(#t5)" marker-end="url(#t5)"/><path d="M127.3 239.6 138.2 237.5 92.2 249.1 132.3 247.7 110.4 241.6 118.1 251.4 142.4 240.6 158.6 239.2 148.5 238.0 113.8 235.1 155.0 244.5 114.3 236.1 117.0 238.3 109.2 237.9 165.8 237.1 117.0 244.2 155.0 231.4 152.8 238.9 107.5 251.8 148.1 241.5 92.8 238.9 131.7 237.7 132.3 238.1 94.0 247.4 113.8 246.3 141.7 247.3 90.1 241.9 188.7 237.6 141.7 252.8 167.5 237.0 155.7 232.0 169.3 206.8 129.5 236.2 100.9 236.3 154.2 254.5 109.0 248.2 148.7 242.7 200.8 243.1 121.3 225.7 235.6 219.2 115.5 244.1 93.1 240.3 101.6 242.1 113.5 251.7 135.5 245.6 119.8 237.9" fill="none" stroke="none" marker-start="url(#t8)" marker-mid="url(#t8)" marker-end="url(#t8)"/><path d="M213.4 234.9 228.0 233.5 155.3 234.8 192.3 244.4 213.3 244.2 286.6 241.1 154.7 239.2 193.4 244.4 215.7 233.0 229.3 235.7 224.6 129.0 188.7 217.4 148.6 255.6 229.3 232.5 276.5 226.2 243.2 227.0 203.3 231.8 207.9 232.3 185.4 237.4" fill="none" stroke="none" marker-start="url(#t12)" marker-mid="url(#t12)" marker-end="url(#t12)"/><path d="M97.1 244.2 86.1 245.1 128.5 219.8 133.4 243.9 89.8 242.8 132.6 235.6 118.8 246.0" fill="none" stroke="none" marker-start="url(#tm1)" marker-mid="url(#tm1)" marker-end="url(#tm1)"/><path d="M220.1 219.7 229.0 254.4 224.7 236.7 264.6 243.1 233.2 236.5 170.4 239.8 229.8 233.8 208.6 242.5 229.0 245.2 188.4 248.1 327.5 215.3 248.2 243.3 256.9 220.1 261.3 218.1 229.2 236.0 284.4 240.4 232.3 243.1" fill="none" stroke="none" marker-start="url(#t13)" marker-mid="url(#t13)" marker-end="url(#t13)"/><path d="M298.0 215.7 297.6 238.4 262.9 232.1 279.2 254.6 281.4 237.3 353.8 142.9 229.1 185.3 363.2 239.0 298.9 229.6 266.3 234.9 281.0 230.0 323.0 241.2 306.4 236.0 238.6 224.4 240.4 236.8 290.1 225.8 298.5 246.6" fill="none" stroke="none" marker-start="url(#t14)" marker-mid="url(#t14)" marker-end="url(#t14)"/><path d="M213.7 230.2 152.1 250.2 132.4 238.7 165.3 244.3 231.8 237.3 185.4 232.4 132.3 245.2 153.5 231.5 154.2 241.9 248.3 233.1 228.4 240.7 184.4 241.0 198.2 238.8 174.4 226.6 141.7 249.7 165.6 182.2 167.0 236.1 168.7 238.1 205.0 256.7 162.7 243.8 140.9 259.8 164.0 233.1 134.1 238.1 172.7 238.1 137.1 242.6 134.9 243.6 162.3 247.2 178.1 218.0 156.4 209.6 181.1 236.5 158.1 236.8 175.8 230.5" fill="none" stroke="none" marker-start="url(#t10)" marker-mid="url(#t10)" marker-end="url(#t10)"/><path d="M99.7 242.7 107.5 233.3 118.5 238.1 86.1 240.9 105.0 246.7 93.4 247.6 88.7 251.2 110.7 235.7 96.1 262.1 91.2 257.9 94.2 237.6 101.2 247.4 99.8 236.5 100.5 246.1 104.7 245.8" fill="none" stroke="none" marker-start="url(#t5)" marker-mid="url(#t5)" marker-end="url(#t5)"/><path d="M105.7 255.4 128.0 253.8 129.1 240.0 93.0 244.0 103.2 249.4 101.3 246.7 103.3 240.2 105.2 235.1 131.5 249.1 105.4 236.8" fill="none" stroke="none" marker-start="url(#tm1)" marker-mid="url(#tm1)" marker-end="url(#tm1)"/><path d="M93.2 238.9 86.1 246.8 117.0 234.5 93.0 227.6 157.6 222.8 99.5 228.7 97.1 240.1 98.7 254.0 96.5 240.6 95.6 234.9 95.1 237.7 113.2 235.7 96.5 251.7 105.3 238.1" fill="none" stroke="none" marker-start="url(#t4)" marker-mid="url(#t4)" marker-end="url(#t4)"/><path d="M371.5 225.5 347.7 209.0 395.3 182.5" fill="none" stroke="none" marker-start="url(#t16)" marker-mid="url(#t16)" marker-end="url(#t16)"/><path d="M196.3 224.9 142.7 268.4 129.9 261.5 205.9 237.9 87.2 243.3 141.7 233.6 177.6 241.2 230.7 246.0 115.2 238.3 172.1 246.4 150.4 238.6 167.4 243.2 231.4 232.8 112.5 244.8 123.2 241.9 155.9 233.9 122.9 246.3 97.7 254.9 148.0 234.8 218.8 240.3 208.2 232.2 183.9 237.5 184.1 247.3 211.9 242.2 187.4 239.0 216.7 236.0 213.5 237.4 203.8 247.4 219.6 214.3 185.0 242.5 187.7 238.0 165.6 232.5 189.0 243.5 165.9 240.2 122.4 254.4 201.5 222.1 170.7 240.3 183.9 245.4 116.7 232.8" fill="none" stroke="none" marker-start="url(#t10)" marker-mid="url(#t10)" marker-end="url(#t10)"/><path d="M141.4 233.2 141.7 249.1 140.5 248.1 120.2 248.2 178.6 236.1 147.6 242.4 103.4 245.4 155.1 239.7 108.2 239.0 91.3 252.8 128.9 236.0 104.8 253.3 150.5 233.4 169.8 243.8 125.7 241.7 200.8 223.5 123.1 234.5 109.3 251.7 171.4 228.8 130.8 237.1 136.6 226.2 199.1 244.2 174.2 238.2 154.0 246.0 145.7 232.4 209.2 199.2 144.8 234.0 97.9 246.6 131.3 226.8 95.0 239.4 180.1 217.7 146.0 235.1 156.1 235.5 151.3 253.9 181.5 232.8 142.5 250.3 149.5 244.2 244.6 241.0 203.2 190.0 140.0 243.0 237.6 198.9" fill="none" stroke="none" marker-start="url(#t9)" marker-mid="url(#t9)" marker-end="url(#t9)"/><path d="M194.3 236.5 217.9 241.3 207.5 222.8 213.2 240.5 257.2 239.7 237.6 249.0 191.3 183.5 228.2 228.6 137.0 240.0 286.0 227.4 266.2 237.7 265.3 248.3" fill="none" stroke="none" marker-start="url(#t13)" marker-mid="url(#t13)" marker-end="url(#t13)"/><path d="M405.9 155.1" fill="none" stroke="none" marker-start="url(#t17)" marker-mid="url(#t17)" marker-end="url(#t17)"/><path d="M129.2 241.9 90.5 232.2 116.3 245.2 161.2 234.7 121.9 244.5 114.1 248.3 99.7 244.3 99.8 240.9 126.3 243.5 99.6 242.1 89.0 234.2 122.3 234.4 118.1 255.6 110.3 243.7 89.9 237.0 235.4 113.8 88.2 230.9 109.7 247.1 91.4 238.0 188.5 248.7 93.2 244.2 109.0 231.9 87.3 249.6 109.5 237.3 183.8 235.7 111.7 234.9 122.5 240.8 138.2 242.4 88.5 239.9 99.9 247.7 88.3 240.1 129.3 247.9 103.1 244.5 118.4 235.8 131.0 249.9 97.4 237.3 100.9 233.9 136.0 230.9 95.7 247.9 178.6 227.1 87.6 230.8 117.1 238.2 144.0 245.7 116.3 234.0 219.9 247.9 117.3 249.3" fill="none" stroke="none" marker-start="url(#t7)" marker-mid="url(#t7)" marker-end="url(#t7)"/><path d="M409.3 226.5" fill="none" stroke="none" marker-start="url(#t18)" marker-mid="url(#t18)" marker-end="url(#t18)"/><path d="M300.1 185.2 273.1 239.0 262.1 239.0 201.3 241.3 231.2 236.3 281.8 220.5 188.9 241.7 220.9 234.9 319.2 234.4" fill="none" stroke="none" marker-start="url(#t14)" marker-mid="url(#t14)" marker-end="url(#t14)"/><path d="M128.5 240.3 126.9 237.2 105.7 234.1 192.8 251.5 97.9 248.2 180.9 244.7 106.8 244.4 102.9 273.4 174.1 237.2 107.4 249.1 168.7 236.7 131.4 252.1 108.4 246.9 162.0 234.8 156.6 245.4 169.0 242.5 120.8 245.2 144.4 249.6 87.5 243.2 100.6 240.0 96.7 245.7 107.6 237.0 143.9 246.8 151.8 239.0 110.3 251.1 87.2 242.2 104.0 240.5 107.1 236.0 124.9 236.6 151.0 236.2 98.6 251.3 137.1 241.2 168.4 237.1 104.7 234.3 151.0 238.9 139.9 247.6 128.1 231.6 146.7 241.2 163.3 264.7 121.1 242.7 91.5 250.2 99.0 233.0 183.4 235.3 137.9 243.1 151.7 242.5" fill="none" stroke="none" marker-start="url(#t8)" marker-mid="url(#t8)" marker-end="url(#t8)"/><path d="M202.6 250.6 177.8 244.0 217.4 244.9 174.0 236.7 197.1 247.4 181.6 249.9 151.8 237.6 181.0 249.2 178.8 224.2 191.1 243.2 176.1 242.3 197.2 190.6 188.9 242.7 174.5 235.3 208.3 243.1 174.8 236.5 182.4 243.7 203.1 244.1 259.0 239.8 189.9 235.8 195.7 239.8 231.7 216.1 163.0 248.7 210.6 236.3 257.9 230.7 165.2 270.8 151.8 241.4 197.9 238.8 242.7 232.0 207.4 234.9" fill="none" stroke="none" marker-start="url(#t11)" marker-mid="url(#t11)" marker-end="url(#t11)"/><path d="M325.0 200.7 349.0 237.1 252.8 247.8 347.7 248.3 291.2 244.2 324.0 230.4 321.3 228.1 300.6 221.9" fill="none" stroke="none" marker-start="url(#t15)" marker-mid="url(#t15)" marker-end="url(#t15)"/><path d="M98.5 245.4 119.8 248.2 85.9 246.8 101.4 234.4 128.8 248.3 100.8 233.3 95.3 234.6 130.3 234.7 122.4 243.0 119.7 229.3 118.1 240.1 92.9 233.7 143.2 244.5 117.0 242.5 98.0 240.7 118.9 245.7 117.3 260.1 95.1 247.6 98.4 245.6 96.5 258.5 109.4 235.7 90.3 240.5 115.0 241.4 169.5 241.5 89.5 246.3 100.0 232.9 125.8 244.5 118.7 240.7 104.6 242.8 99.9 246.7" fill="none" stroke="none" marker-start="url(#t6)" marker-mid="url(#t6)" marker-end="url(#t6)"/><path d="M217.4 235.2 239.4 206.9 252.5 228.3 250.0 220.5 194.2 251.0 248.0 216.7 223.9 231.1 222.7 222.0 166.8 228.8 207.8 239.6 216.3 237.1 222.6 237.4 257.2 235.9 217.9 235.5 224.0 244.2 182.8 230.5 234.9 231.7 250.6 182.6 195.6 247.1 304.3 186.6 227.3 234.7 289.6 260.4" fill="none" stroke="none" marker-start="url(#t12)" marker-mid="url(#t12)" marker-end="url(#t12)"/><path d="M94.6 241.9 94.8 244.7" fill="none" stroke="none" marker-start="url(#t3)" marker-mid="url(#t3)" marker-end="url(#t3)"/><path d="M128.9 242.3 174.7 248.4 165.5 237.4 217.5 240.1 110.6 259.9 128.8 245.3 116.8 235.0 232.4 235.3 173.0 244.2 289.7 238.6 124.7 251.2 148.7 248.8 162.7 243.7 174.6 216.4 222.0 238.4 147.4 206.0 202.3 233.3 217.7 246.8 95.0 245.4 210.0 176.6 234.4 234.2 122.7 238.1 160.8 211.2 239.9 200.5 193.8 244.1 149.3 242.8 246.1 233.9 149.9 235.6 179.7 240.7 207.1 232.1 186.7 195.6 216.2 238.5 141.8 227.4" fill="none" stroke="none" marker-start="url(#t10)" marker-mid="url(#t10)" marker-end="url(#t10)"/><path d="M92.2 244.4 88.0 239.3 119.9 240.6 89.1 238.6 88.4 252.5" fill="none" stroke="none" marker-start="url(#t3)" marker-mid="url(#t3)" marker-end="url(#t3)"/><path d="M121.8 242.5 88.0 225.7 99.0 232.9 113.3 244.2 96.6 241.5 131.5 237.5 92.4 232.6" fill="none" stroke="none" marker-start="url(#tm1)" marker-mid="url(#tm1)" marker-end="url(#tm1)"/><path d="M106.2 234.6 89.3 243.5 92.0 248.1 108.3 235.7 101.5 244.1 87.0 249.8 118.0 237.9 90.3 251.7 97.1 254.7 101.4 239.2 94.6 255.4 95.5 239.8 96.0 238.6 88.1 238.4 102.6 253.1" fill="none" stroke="none" marker-start="url(#t4)" marker-mid="url(#t4)" marker-end="url(#t4)"/><path d="M101.2 240.0 94.4 248.7" fill="none" stroke="none" marker-start="url(#t2)" marker-mid="url(#t2)" marker-end="url(#t2)"/><path d="M131.0 225.2 110.0 240.8 156.3 261.6 163.6 235.0 187.1 218.0 153.5 245.1 149.5 231.5 138.5 243.1 201.8 248.9 131.1 238.3 103.2 249.7 111.8 249.9 141.0 242.5 126.9 248.2 142.5 248.1 93.7 236.8 86.9 237.5 153.6 241.8 138.3 246.4 116.8 247.9 117.3 242.7 99.0 255.7 132.2 235.7 262.1 246.1 147.7 248.1 151.6 233.2 161.2 236.5 110.6 244.5 136.7 252.6 114.5 233.3 102.4 237.6 156.2 214.4 129.4 249.1 183.0 241.4 160.1 233.8 87.0 244.9 190.4 234.7 149.6 240.7 155.1 243.3 140.1 238.3 119.7 243.1 120.1 240.9 121.1 234.1 181.3 243.9" fill="none" stroke="none" marker-start="url(#t8)" marker-mid="url(#t8)" marker-end="url(#t8)"/><path d="M213.2 247.7 233.2 219.5 294.2 238.8 255.5 242.2 180.1 240.6 229.4 245.9 239.3 241.3 222.0 241.7 241.1 202.5 241.7 249.7 221.2 242.6 228.4 231.6 228.7 247.5 235.9 255.9 216.6 225.4 171.1 217.4 182.9 244.4 244.9 235.6 182.1 234.9 157.9 233.9 178.9 239.6" fill="none" stroke="none" marker-start="url(#t12)" marker-mid="url(#t12)" marker-end="url(#t12)"/><path d="M257.3 234.5 246.5 247.6 170.1 229.3 310.9 233.5 264.2 203.5 309.0 177.7" fill="none" stroke="none" marker-start="url(#t14)" marker-mid="url(#t14)" marker-end="url(#t14)"/><path d="M179.4 246.0 227.1 228.4 215.3 242.4 237.1 235.9 189.8 235.8 288.2 227.6 205.5 257.0 187.3 241.8 293.5 232.4 256.9 236.0 251.1 236.6 220.6 229.5 220.0 242.6" fill="none" stroke="none" marker-start="url(#t13)" marker-mid="url(#t13)" marker-end="url(#t13)"/><path d="M94.6 241.0 100.4 238.2 88.2 246.7 94.4 234.7 147.3 247.1 114.0 239.6 142.6 241.9 92.6 241.4 100.4 240.0 91.7 239.5 115.2 224.1 92.7 248.1 137.2 243.0 146.3 243.9 86.2 233.4 125.6 226.5 96.8 241.9 108.7 252.1 184.7 239.7 87.9 240.2 103.6 237.1 95.3 240.3 112.6 250.1 93.2 219.6 116.7 245.1 104.4 249.4 116.1 227.5 88.6 248.0 97.0 251.9 120.0 244.8 92.3 245.3 106.2 246.0" fill="none" stroke="none" marker-start="url(#t6)" marker-mid="url(#t6)" marker-end="url(#t6)"/><path d="M403.4 107.8" fill="none" stroke="none" marker-start="url(#t20)" marker-mid="url(#t20)" marker-end="url(#t20)"/><path d="M132.0 247.6 121.8 260.3 89.1 244.4 106.8 239.3 98.3 243.5 93.4 243.1 107.6 234.8 107.6 233.9 95.1 248.0 105.1 248.2 93.8 243.6 91.2 239.2 89.8 237.1 86.0 248.7 89.9 243.4 98.4 240.6 108.2 243.8 100.7 257.6 121.7 233.9 91.7 233.6 91.6 240.6 92.1 244.3 88.6 246.3 109.6 235.3 127.9 249.1 92.9 245.3 121.4 247.8 89.9 238.8 114.5 238.8 100.2 230.4 91.0 247.2" fill="none" stroke="none" marker-start="url(#t5)" marker-mid="url(#t5)" marker-end="url(#t5)"/><path d="M180.0 240.2 119.1 226.9 149.4 234.5 185.4 226.3 149.5 246.0 172.9 233.4 196.1 231.4 233.1 186.9 166.5 235.6 86.7 236.0 95.1 239.0 172.9 243.5 154.8 248.3 126.0 246.6 185.0 239.7 119.8 246.3 85.9 245.8 120.9 238.5 120.5 237.7 98.0 235.6 105.5 237.6 134.2 244.9 161.9 236.3 129.1 230.8 110.3 239.1 169.5 201.5 148.8 234.8 156.3 238.2 188.8 195.0 185.6 248.2 144.2 234.5 180.5 241.6 123.9 242.1 131.2 244.5 159.6 243.7 115.5 241.9 90.9 243.0 145.4 241.7" fill="none" stroke="none" marker-start="url(#t9)" marker-mid="url(#t9)" marker-end="url(#t9)"/><path d="M105.4 247.8 102.1 241.5 86.1 243.3 192.9 246.9 217.0 184.1 88.3 248.1 93.1 243.2 110.9 245.2 133.1 244.7 110.2 229.8 117.0 246.1 107.5 242.1 114.6 253.2 160.6 236.1 99.6 255.6 126.0 228.1 120.8 250.4 160.5 247.3 95.7 233.0 95.1 237.1 115.8 236.5 93.9 226.5 159.0 246.6 113.4 238.2 157.2 226.8 110.3 249.2 94.6 241.1 163.2 231.3 95.7 245.3 114.2 238.3 92.1 230.9 107.6 246.6 88.5 261.8 102.7 251.3 189.1 246.2 124.8 238.6 91.8 227.5 93.3 249.2 112.0 235.6 135.2 240.9" fill="none" stroke="none" marker-start="url(#t7)" marker-mid="url(#t7)" marker-end="url(#t7)"/><path d="M378.1 239.4 376.7 234.8 395.1 235.9" fill="none" stroke="none" marker-start="url(#t17)" marker-mid="url(#t17)" marker-end="url(#t17)"/><path d="M165.9 234.5 231.2 236.8 144.3 245.4 199.0 239.7 176.4 232.6 203.0 230.7 184.1 243.9 189.5 257.6 189.3 243.8 220.7 232.7 207.0 243.0 144.5 248.5 208.3 205.9 213.6 240.3 181.6 244.1 212.7 212.3 134.5 214.5 158.9 246.7 233.8 248.4 159.8 213.0 174.4 232.2 171.2 232.6 143.8 232.5 221.0 234.3 230.4 242.1 183.2 232.2" fill="none" stroke="none" marker-start="url(#t11)" marker-mid="url(#t11)" marker-end="url(#t11)"/><path d="M358.5 205.9 392.6 157.3 359.7 232.1" fill="none" stroke="none" marker-start="url(#t16)" marker-mid="url(#t16)" marker-end="url(#t16)"/><path d="M330.2 216.7 264.6 235.0 248.8 236.8 340.6 228.1 259.5 241.4 272.5 241.6 202.8 246.2 315.1 221.5" fill="none" stroke="none" marker-start="url(#t15)" marker-mid="url(#t15)" marker-end="url(#t15)"/><path d="M221.4 232.8 175.8 233.1 238.4 240.5 168.4 243.4 182.1 249.5 86.3 232.4 195.6 237.4 148.7 246.0 181.3 234.4 218.7 249.0 180.9 247.2 160.9 235.4 237.3 188.8 193.5 244.0 131.6 244.2 133.8 242.3 196.0 243.2 212.4 209.6 172.4 240.4 241.1 239.7 164.5 244.5" fill="none" stroke="none" marker-start="url(#t11)" marker-mid="url(#t11)" marker-end="url(#t11)"/><path d="M123.7 251.2 87.4 240.5 113.8 257.9 116.7 233.8 95.7 233.3 95.8 238.7 90.0 242.9" fill="none" stroke="none" marker-start="url(#t4)" marker-mid="url(#t4)" marker-end="url(#t4)"/><path d="M86.1 243.1 93.3 248.0 111.8 242.7 106.9 241.4 121.2 277.2 159.4 252.5 92.0 236.0 109.1 224.7 113.3 259.9 117.7 256.0 93.2 251.5 118.2 236.4 111.0 249.0 150.2 234.4 99.3 237.8 85.9 247.9 96.6 256.7 96.2 242.0 102.6 236.5 134.1 247.6 87.4 226.8 120.9 241.1 93.1 238.0 90.9 238.0 116.1 249.0 91.0 244.6 90.3 237.5 96.6 241.0 120.4 240.6" fill="none" stroke="none" marker-start="url(#t6)" marker-mid="url(#t6)" marker-end="url(#t6)"/><path d="M223.7 242.7 228.4 243.8 220.2 236.0 273.7 243.6 213.3 240.3 232.8 230.5 272.2 238.4 253.6 228.0 270.2 233.1 281.8 206.6 231.6 239.1 155.6 238.0 189.3 237.2 223.2 239.0 263.3 246.1 234.8 247.9 172.7 247.2 191.9 233.7 281.2 245.2 186.2 248.0" fill="none" stroke="none" marker-start="url(#t12)" marker-mid="url(#t12)" marker-end="url(#t12)"/><path d="M160.1 250.2 96.3 253.4 109.8 246.5 121.9 235.6 102.2 241.2 185.2 244.5 184.1 230.1 128.7 242.2 132.3 239.3 166.9 250.3 124.9 250.7 229.1 252.1 161.6 235.8 127.2 240.7 129.9 235.4 223.7 232.1 113.3 239.7 117.8 239.9 130.9 235.7 204.4 246.2 144.2 235.8 135.9 243.2 127.1 243.6 126.7 241.5 143.5 245.2 178.5 252.7 205.1 234.9 146.6 246.4 169.8 235.2 113.4 242.7 134.7 235.5 140.8 239.4 144.0 247.7 206.9 230.8 171.3 240.1 122.3 241.0 207.3 233.4 123.6 243.8 109.0 245.1 174.4 236.7" fill="none" stroke="none" marker-start="url(#t9)" marker-mid="url(#t9)" marker-end="url(#t9)"/><path d="M331.4 176.7 299.5 222.0 263.1 235.7 342.7 229.8 261.0 243.5 361.0 233.8 296.3 236.4 346.5 182.5 232.9 235.0 316.3 239.1" fill="none" stroke="none" marker-start="url(#t15)" marker-mid="url(#t15)" marker-end="url(#t15)"/><path d="M89.9 242.1 113.9 237.8 87.7 247.5 87.2 256.2 97.2 240.1 91.6 244.3 93.2 242.1 98.7 245.5 111.0 250.7 89.0 233.6 106.4 249.2 101.0 238.6 103.7 235.1 107.1 255.3 122.4 254.2 105.4 257.9 106.8 239.6 87.9 238.8 98.8 237.6 88.2 250.9 101.8 235.9 129.1 231.5 112.4 234.3 119.1 238.7 118.2 235.4 89.6 240.5 113.8 243.9 102.6 255.7 89.5 241.8 114.4 239.7 139.6 239.6 91.9 239.8" fill="none" stroke="none" marker-start="url(#t5)" marker-mid="url(#t5)" marker-end="url(#t5)"/><path d="M344.1 228.8 390.6 245.2" fill="none" stroke="none" marker-start="url(#t17)" marker-mid="url(#t17)" marker-end="url(#t17)"/><path d="M143.0 237.5 158.9 225.5 131.1 254.8 171.3 235.9 239.0 198.2 218.1 246.9 234.8 234.7 165.9 240.6 154.9 258.5 194.3 225.6 117.4 242.8 194.3 240.1 213.4 242.8 139.0 242.2 100.2 248.4 230.3 241.6 157.0 245.1 176.9 240.5 224.3 232.5 156.3 249.8 201.3 232.0 184.1 235.7 212.3 239.5 182.3 243.9 169.3 238.7 205.5 241.9 179.7 244.1 159.7 239.2 172.0 237.3 180.1 227.1 137.3 242.2 147.8 248.4 116.1 246.4 158.3 237.0 180.7 232.9 163.0 214.7 147.8 236.6 206.0 240.5 134.0 233.4" fill="none" stroke="none" marker-start="url(#t10)" marker-mid="url(#t10)" marker-end="url(#t10)"/><path d="M87.5 241.6" fill="none" stroke="none" marker-start="url(#t3)" marker-mid="url(#t3)" marker-end="url(#t3)"/><path d="M278.6 236.8 189.6 206.8 279.4 179.0 256.1 239.0 179.6 199.3 258.6 236.2 284.6 235.0 274.6 231.0" fill="none" stroke="none" marker-start="url(#t14)" marker-mid="url(#t14)" marker-end="url(#t14)"/><path d="M148.7 233.8 106.6 232.7 117.0 232.4 105.6 234.3 105.2 245.1 188.7 243.6 119.3 247.3 103.0 248.6 136.6 239.5 143.1 240.9 90.3 238.3 204.1 242.3 110.5 245.1 123.6 246.4 147.1 241.6 144.5 240.1 93.3 237.4 93.9 243.7 130.1 238.9 90.2 235.6 95.8 250.9 109.6 251.0 148.8 233.9 110.9 244.1 112.5 244.0 127.8 230.0 90.6 243.0 99.7 234.8 87.2 253.0 94.4 235.0 119.2 248.1 116.0 247.5 116.8 238.9 98.4 236.5 177.0 218.2" fill="none" stroke="none" marker-start="url(#t7)" marker-mid="url(#t7)" marker-end="url(#t7)"/><path d="M104.5 257.5" fill="none" stroke="none" marker-start="url(#t2)" marker-mid="url(#t2)" marker-end="url(#t2)"/><path d="M94.7 249.5 114.0 249.8 137.0 235.4 96.6 247.6 105.8 253.7 110.4 236.5 93.1 245.8 106.6 240.1" fill="none" stroke="none" marker-start="url(#tm1)" marker-mid="url(#tm1)" marker-end="url(#tm1)"/><path d="M170.7 245.6 115.1 250.3 127.9 234.8 120.8 240.9 113.5 241.7 202.7 212.0 87.6 241.9 149.6 239.2 158.8 239.8 123.0 237.1 107.8 243.5 117.6 216.4 138.7 241.7 92.1 237.0 116.8 228.4 110.3 233.2 112.5 250.3 144.1 237.5 184.0 235.0 136.1 243.9 94.4 242.0 160.5 215.1 121.4 255.4 149.6 220.5 143.9 235.8 93.2 248.7 97.6 242.6 118.0 242.5 130.0 247.3 227.4 234.5 87.0 237.0 93.8 248.8 116.1 225.3 165.1 248.6 103.7 235.5 181.1 243.6 94.9 243.4 245.2 238.1 145.7 252.0 123.7 249.5 100.5 238.2 97.4 239.5 104.7 225.9 120.8 253.2 153.0 238.7 154.4 226.5 118.5 235.9 151.9 245.9 156.3 237.1 147.9 235.4" fill="none" stroke="none" marker-start="url(#t8)" marker-mid="url(#t8)" marker-end="url(#t8)"/><path d="M221.1 219.0 274.6 231.5 204.8 191.7 163.8 243.6 210.3 240.0 239.1 236.2 246.3 205.8 266.0 238.5 286.5 233.4 278.0 234.2 252.5 246.6 193.1 238.7 189.4 234.7 238.2 244.8 217.2 233.1 257.6 245.3 288.5 241.3 274.9 203.5 280.2 231.8 212.6 242.4 287.0 241.4" fill="none" stroke="none" marker-start="url(#t13)" marker-mid="url(#t13)" marker-end="url(#t13)"/><path d="M348.1 235.5 247.8 212.4 288.0 235.9 340.6 244.7" fill="none" stroke="none" marker-start="url(#t16)" marker-mid="url(#t16)" marker-end="url(#t16)"/><path d="M193.6 234.2 234.1 211.2 135.0 246.1 179.4 233.7 281.0 224.6 288.9 211.4 187.0 232.0 237.9 236.5 259.0 235.6 316.3 184.3 221.4 204.0 209.1 198.1 224.4 229.6 262.0 235.8 318.4 229.8" fill="none" stroke="none" marker-start="url(#t13)" marker-mid="url(#t13)" marker-end="url(#t13)"/><path d="M119.8 248.6 95.6 232.1 86.5 247.9" fill="none" stroke="none" marker-start="url(#t3)" marker-mid="url(#t3)" marker-end="url(#t3)"/><path d="M358.5 220.3 355.4 221.0 265.2 240.8" fill="none" stroke="none" marker-start="url(#t16)" marker-mid="url(#t16)" marker-end="url(#t16)"/><path d="M278.4 185.0 265.0 232.7 232.0 224.9 278.2 238.8 260.2 240.4 252.0 228.9" fill="none" stroke="none" marker-start="url(#t15)" marker-mid="url(#t15)" marker-end="url(#t15)"/><path d="M95.1 249.4 112.7 248.8 89.5 246.8 96.4 242.8 89.7 235.4 87.2 242.3 95.1 237.2 119.2 248.9 92.3 247.2 103.0 251.5 109.9 244.7 106.2 254.9 163.8 230.4 126.1 251.4 108.2 238.9 104.4 240.6 132.8 242.6 100.7 240.6 100.1 234.2 92.2 230.4 88.4 234.4 93.9 239.2 131.1 241.0 108.1 236.3 85.9 235.5 106.2 232.8 89.6 247.2 93.9 238.8 126.9 244.8 115.6 252.0 106.8 247.4 104.8 263.9 88.2 227.2" fill="none" stroke="none" marker-start="url(#t6)" marker-mid="url(#t6)" marker-end="url(#t6)"/><path d="M138.1 242.7 106.4 237.3 97.2 243.2 96.5 226.9 125.4 237.1 166.3 234.5 222.4 257.4 121.6 240.7 143.8 246.2 184.8 243.0 138.1 248.4 174.0 245.1 170.2 218.5 196.2 241.5 151.5 243.9 212.6 221.2 205.1 241.9 127.3 229.0 98.9 234.9 153.2 246.2 133.0 242.8 136.2 246.6 128.4 242.0 149.7 264.3 94.5 238.5 143.7 236.9 171.6 233.5 96.6 249.6 116.3 236.5 134.4 246.9 196.5 240.5 121.2 237.2 144.4 230.7 151.5 243.2 153.9 240.5 134.5 231.7 151.6 242.8 177.2 224.4 105.1 245.4 136.6 236.3 136.0 237.2 110.7 231.7 150.4 241.5 136.9 239.1" fill="none" stroke="none" marker-start="url(#t9)" marker-mid="url(#t9)" marker-end="url(#t9)"/><path d="M325.0 219.0 227.0 235.3 214.8 245.8 274.4 254.7 268.2 242.8 324.0 235.6 321.9 194.9 251.1 231.7 206.8 232.9 282.3 239.4 374.6 234.8" fill="none" stroke="none" marker-start="url(#t14)" marker-mid="url(#t14)" marker-end="url(#t14)"/><path d="M128.2 245.8 87.5 241.6 100.0 246.2 134.9 233.3 95.8 245.8 100.7 244.7 115.2 247.7 99.1 256.5" fill="none" stroke="none" marker-start="url(#tm1)" marker-mid="url(#tm1)" marker-end="url(#tm1)"/><path d="M121.1 237.7 118.4 238.7 115.2 247.1 91.1 233.1 126.2 232.0 106.8 248.1 106.6 237.2 174.6 233.3 161.0 235.4 131.8 233.2 128.4 240.9 103.4 244.0 120.2 241.0 132.8 242.2 150.5 232.6 86.1 234.9 119.5 251.7 155.8 237.6 88.3 240.2 114.8 231.6 132.0 239.5 136.7 238.3 115.7 234.1 99.5 249.7 103.4 250.1 102.6 239.7 171.6 234.6 94.3 247.2 95.3 239.7 111.7 242.0 86.8 230.2 131.1 240.7 95.6 246.7 86.1 232.9 86.9 244.8 127.6 242.7 92.1 241.7 110.9 241.2 109.4 238.3 145.9 235.4 91.9 248.8 108.9 244.0 136.7 246.2 112.0 248.1 122.7 235.3 104.2 228.4 111.4 244.7 130.4 240.2 115.9 241.7 104.9 242.5 153.4 229.2 97.2 240.6 195.1 235.5 112.9 233.7 127.7 250.2" fill="none" stroke="none" marker-start="url(#t7)" marker-mid="url(#t7)" marker-end="url(#t7)"/><path d="M453.9 149.1" fill="none" stroke="none" marker-start="url(#t20)" marker-mid="url(#t20)" marker-end="url(#t20)"/><path d="M149.1 239.2 223.3 233.8 170.4 239.8 198.6 255.1 206.2 240.6 157.6 248.2 204.5 228.1 176.6 253.6 235.3 183.9 160.6 235.0 174.6 234.5 214.5 230.0 248.2 243.5 233.8 246.4 226.0 227.5 253.6 242.9 160.0 246.9 167.4 250.7 215.7 238.7 198.2 259.4" fill="none" stroke="none" marker-start="url(#t11)" marker-mid="url(#t11)" marker-end="url(#t11)"/><path d="M120.8 237.4 100.7 252.3 90.6 237.7 100.1 233.0 93.1 234.3 108.0 248.4 112.0 242.8 90.1 252.0 104.6 242.6 92.8 242.9 114.4 238.9 118.6 250.3 88.2 243.9 103.4 260.8 123.7 239.9 90.4 240.0 85.9 248.7 112.1 248.5 104.8 244.2 121.4 242.1 94.3 244.4 119.4 226.3" fill="none" stroke="none" marker-start="url(#t5)" marker-mid="url(#t5)" marker-end="url(#t5)"/><path d="M140.4 265.6 116.4 237.3 123.5 288.5 147.3 233.5 87.3 241.9 134.8 246.6 184.6 241.4 98.3 240.3 102.5 245.4 101.8 234.3 133.4 250.2 117.5 241.6 112.4 240.9 140.4 241.1 102.2 232.4 117.3 234.5 167.3 236.7 95.5 250.5 144.0 216.6 109.3 256.0 189.1 247.7 149.0 235.7 118.0 245.2 118.9 229.9 87.7 251.4 86.4 234.5 122.7 228.9 199.3 241.5 132.3 247.3 172.6 231.1 148.1 237.8 189.2 246.3 120.5 245.6 134.9 247.8" fill="none" stroke="none" marker-start="url(#t8)" marker-mid="url(#t8)" marker-end="url(#t8)"/><path d="M103.6 245.1 86.9 238.6 100.6 236.4 98.8 234.1 90.8 232.5 96.8 247.2 85.9 248.3 117.0 240.0 106.4 236.7 99.6 251.9" fill="none" stroke="none" marker-start="url(#t4)" marker-mid="url(#t4)" marker-end="url(#t4)"/><path d="M173.3 237.6 135.5 256.4 208.1 234.1 255.6 241.1 162.3 237.8 158.2 238.2 150.6 245.1 212.6 235.2 149.1 248.3 142.0 255.8 128.1 243.4 136.1 242.3 217.7 237.4 196.0 236.5 176.8 232.9 181.6 216.8 129.6 233.0 222.9 238.4 150.8 241.4 225.9 275.3 134.2 243.7 157.8 247.1 160.9 243.6 175.8 236.4 194.9 239.3 153.6 240.8 138.2 231.7 196.6 239.1 171.4 240.4 156.7 243.0 228.4 236.6 154.5 244.5 102.5 244.7 184.9 203.3 137.4 239.2 185.6 235.3 209.7 243.3" fill="none" stroke="none" marker-start="url(#t10)" marker-mid="url(#t10)" marker-end="url(#t10)"/><path d="M267.9 237.9 220.9 245.2 103.2 242.4 280.2 229.9 296.3 235.9 161.7 247.3 259.6 228.3 281.4 238.6 178.7 218.0 234.8 232.3 204.7 239.7 256.8 240.0 178.2 244.6 183.1 242.9 170.4 237.4 169.4 237.6 246.6 235.3 164.8 225.5 168.7 238.4 193.4 232.4 163.9 200.0 175.5 240.0 183.1 207.8 294.7 233.4 200.1 236.7" fill="none" stroke="none" marker-start="url(#t12)" marker-mid="url(#t12)" marker-end="url(#t12)"/></g><rect x="45.50" y="8.00" width="471.50" height="293.00" fill="none" stroke="#6e6e6e" stroke-width="1.3"/><path d="M46.07 301.00v1.50M78.74 301.00v1.50M105.43 301.00v1.50M127.99 301.00v1.50M147.54 301.00v1.50M164.78 301.00v1.50M180.20 301.00v2.80M281.66 301.00v1.50M341.01 301.00v1.50M383.12 301.00v1.50M415.79 301.00v1.50M442.48 301.00v1.50M465.04 301.00v1.50M484.59 301.00v1.50M501.83 301.00v1.50M517.25 301.00v2.80M45.50 301.16h-1.50M45.50 286.62h-1.50M45.50 275.34h-1.50M45.50 266.12h-1.50M45.50 258.33h-1.50M45.50 251.58h-1.50M45.50 245.63h-1.50M45.50 240.30h-2.80M45.50 205.26h-1.50M45.50 184.76h-1.50M45.50 170.22h-1.50M45.50 158.94h-1.50M45.50 149.72h-1.50M45.50 141.93h-1.50M45.50 135.18h-1.50M45.50 129.23h-1.50M45.50 123.90h-2.80M45.50 88.86h-1.50M45.50 68.36h-1.50M45.50 53.82h-1.50M45.50 42.54h-1.50M45.50 33.32h-1.50M45.50 25.53h-1.50M45.50 18.78h-1.50M45.50 12.83h-1.50M45.50 7.50h-2.80" stroke="#444" stroke-width="1" fill="none"/><text class="t" x="170.77" y="315.20" font-size="13.30" textLength="11.50" lengthAdjust="spacingAndGlyphs">10</text><text class="t" x="182.47" y="310.20" font-size="9.30">1</text><text class="t" x="507.41" y="315.20" font-size="13.30" textLength="11.50" lengthAdjust="spacingAndGlyphs">10</text><text class="t" x="519.12" y="310.20" font-size="9.30">2</text><text class="t" x="23.16" y="12.00" font-size="13.30" textLength="11.50" lengthAdjust="spacingAndGlyphs">10</text><text class="t" x="34.87" y="7.10" font-size="9.30">2</text><text class="t" x="23.16" y="128.40" font-size="13.30" textLength="11.50" lengthAdjust="spacingAndGlyphs">10</text><text class="t" x="34.87" y="123.50" font-size="9.30">1</text><text class="t" x="23.16" y="244.80" font-size="13.30" textLength="11.50" lengthAdjust="spacingAndGlyphs">10</text><text class="t" x="34.87" y="239.90" font-size="9.30">0</text><text class="s" x="254.5" y="333.3" font-size="17.5" textLength="38" lengthAdjust="spacingAndGlyphs">SNR,</text><text x="298.3" y="333.3" font-size="18" font-family="Liberation Serif,serif" font-style="italic" fill="#1a1a1a" stroke="#1a1a1a" stroke-width="0.3">ρ</text><g transform="translate(16.2,163) rotate(-90)"><text x="1.5" y="0" font-size="14.5" font-family="DejaVu Serif,serif" font-style="italic" fill="#1a1a1a" stroke="#1a1a1a" stroke-width="0.15">χ</text><text x="11.6" y="-5.3" font-size="14" font-family="Liberation Serif,serif" fill="#1a1a1a" stroke="#1a1a1a" stroke-width="0.25">2</text><text x="11.2" y="5.2" font-size="12.5" font-family="Liberation Serif,serif" font-style="italic" fill="#1a1a1a" stroke="#1a1a1a" stroke-width="0.25">r</text></g><rect x="53.2" y="15.5" width="120.4" height="44.6" rx="2.8" fill="#fff" fill-opacity="0.8" stroke="#dedede" stroke-width="1.1"/><path d="M72.35 26.65l2.3 2.3M72.35 28.95l2.3 -2.3" stroke="#333" stroke-width="0.95"/><path d="M73.5 46.3l1.7 3.2h-3.4z" fill="#3f5fb5"/><text class="s" x="99.0" y="31.2" font-size="14.2" textLength="66.7" lengthAdjust="spacingAndGlyphs">Background</text><text class="s" x="98.8" y="51.7" font-size="14.2" textLength="53.6" lengthAdjust="spacingAndGlyphs">Injections</text><defs><linearGradient id="cg" x1="0" y1="1" x2="0" y2="0"><stop offset="0" stop-color="#5b2868"/><stop offset="0.25" stop-color="#483b82"/><stop offset="0.38" stop-color="#434b97"/><stop offset="0.5" stop-color="#4259a0"/><stop offset="0.62" stop-color="#456ab2"/><stop offset="0.75" stop-color="#4a7bbf"/><stop offset="1" stop-color="#5b9bd5"/></linearGradient></defs><rect x="546.30" y="7.80" width="15.50" height="293.00" fill="url(#cg)" stroke="#333" stroke-width="0.6"/><path d="M561.80 300.80h2.30M561.80 262.50h1.30M561.80 240.10h1.30M561.80 224.21h1.30M561.80 211.88h1.30M561.80 201.81h1.30M561.80 193.29h1.30M561.80 185.91h1.30M561.80 179.41h1.30M561.80 173.59h2.30M561.80 135.29h1.30M561.80 112.89h1.30M561.80 96.99h1.30M561.80 84.67h1.30M561.80 74.59h1.30M561.80 66.08h1.30M561.80 58.70h1.30M561.80 52.19h1.30M561.80 46.37h2.30M561.80 8.08h1.30" stroke="#444" stroke-width="1" fill="none"/><text class="t" x="564.88" y="304.50" font-size="11.60" textLength="11.30" lengthAdjust="spacingAndGlyphs">10</text><text class="t" x="576.38" y="301.20" font-size="8.00">0</text><text class="t" x="564.88" y="177.29" font-size="11.60" textLength="11.30" lengthAdjust="spacingAndGlyphs">10</text><text class="t" x="576.38" y="173.99" font-size="8.00">1</text><text class="t" x="564.88" y="50.07" font-size="11.60" textLength="11.30" lengthAdjust="spacingAndGlyphs">10</text><text class="t" x="576.38" y="46.77" font-size="8.00">2</text><text class="s" transform="translate(584.6,121.7) rotate(90)" x="0" y="0" font-size="11.5" textLength="63.6" lengthAdjust="spacingAndGlyphs">Optimal SNR</text></svg></body></html>
